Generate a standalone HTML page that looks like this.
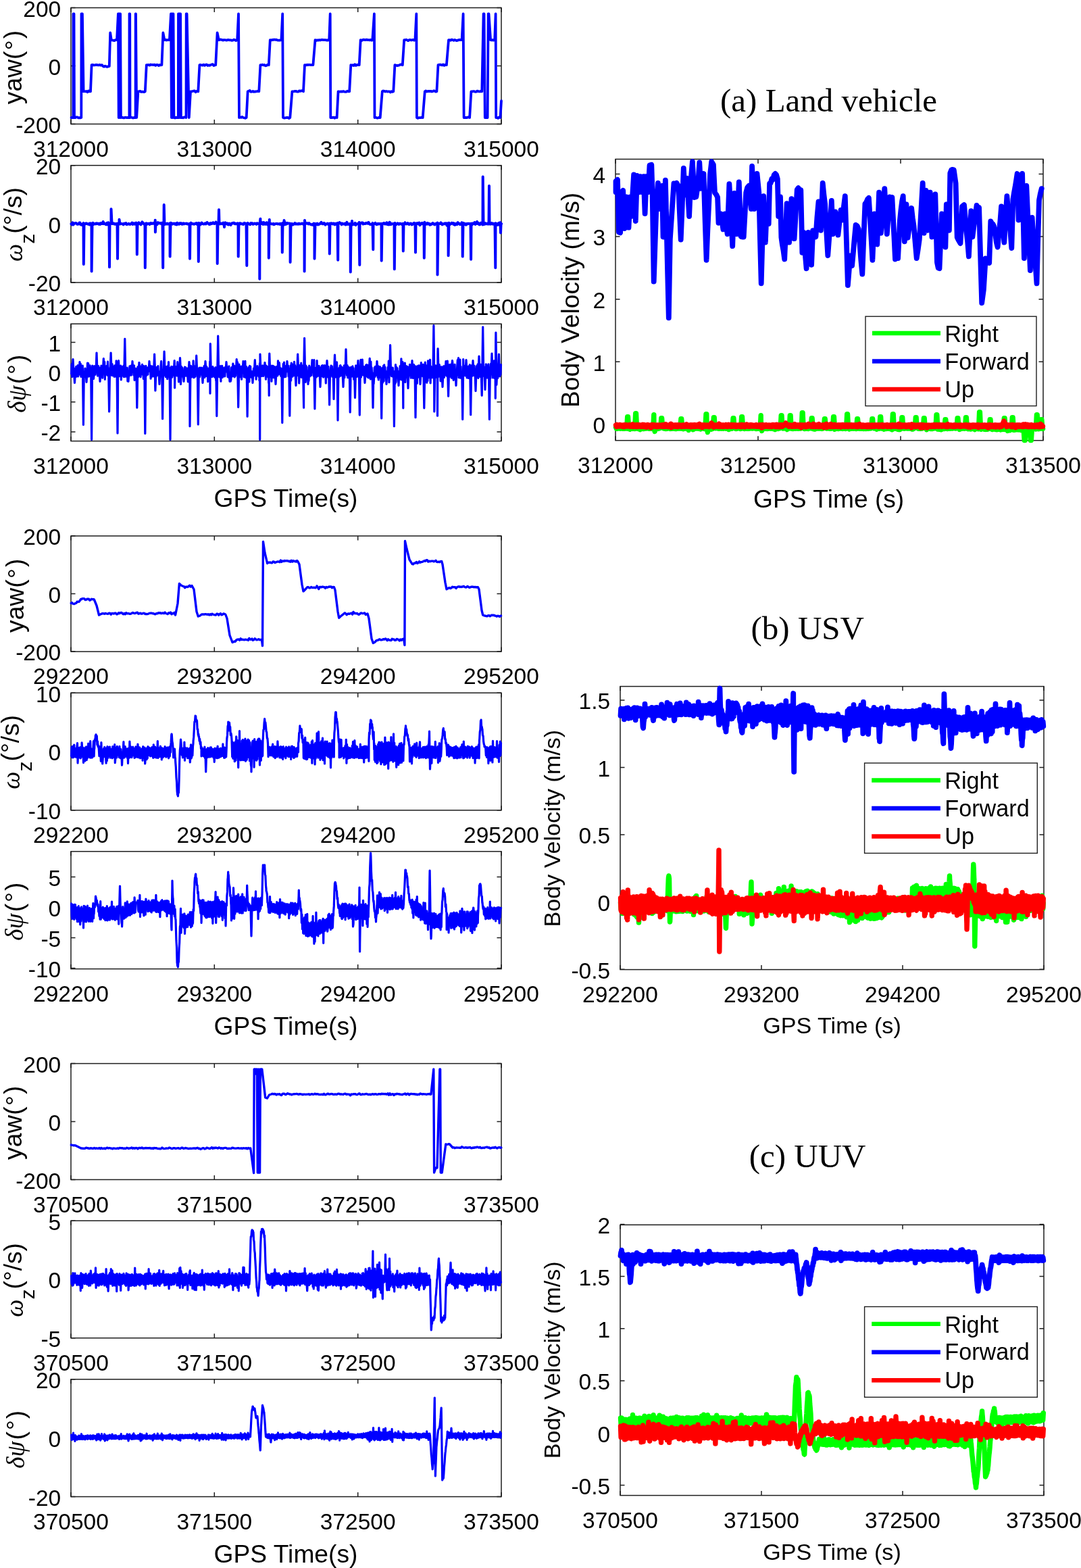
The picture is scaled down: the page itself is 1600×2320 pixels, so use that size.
<!DOCTYPE html>
<html><head><meta charset="utf-8"><title>Figure</title><style>
html,body{margin:0;padding:0;background:#fff;}
body{width:1600px;height:2320px;overflow:hidden;}
svg{display:block;}
.t{font-family:'Liberation Sans', Arial, Helvetica, sans-serif;font-size:33.5px;fill:#000;}
.l{font-family:'Liberation Sans', Arial, Helvetica, sans-serif;font-size:37.2px;fill:#000;}
.l2{font-family:'Liberation Sans', Arial, Helvetica, sans-serif;font-size:34.1px;fill:#000;}
.lg{font-family:'Liberation Sans', Arial, Helvetica, sans-serif;font-size:34.2px;fill:#000;}
.ti{font-family:'Liberation Serif', 'Times New Roman', Times, serif;font-size:49px;fill:#000;}
</style></head><body>
<svg width="1600" height="2320" viewBox="0 0 1600 2320">
<rect width="1600" height="2320" fill="#fff"/>
<rect x="105" y="11.5" width="637" height="172" fill="none" stroke="#1e1e1e" stroke-width="1.5"/>
<path d="M105 183.5v-6.5M105 11.5v6.5M317.3 183.5v-6.5M317.3 11.5v6.5M529.7 183.5v-6.5M529.7 11.5v6.5M742 183.5v-6.5M742 11.5v6.5M105 11.5h6.5M742 11.5h-6.5M105 97.5h6.5M742 97.5h-6.5M105 183.5h6.5M742 183.5h-6.5" stroke="#1e1e1e" stroke-width="1.5" fill="none"/>
<text x="105" y="231.7" text-anchor="middle" class="t">312000</text>
<text x="317.3" y="231.7" text-anchor="middle" class="t">313000</text>
<text x="529.7" y="231.7" text-anchor="middle" class="t">314000</text>
<text x="742" y="231.7" text-anchor="middle" class="t">315000</text>
<text x="90.2" y="24.8" text-anchor="end" class="t">200</text>
<text x="90.2" y="110.8" text-anchor="end" class="t">0</text>
<text x="90.2" y="196.8" text-anchor="end" class="t">-200</text>
<polyline points="105.5,174 108.4,174 108.5,20.5 109,174 109.5,20.5 110,174 111.5,174 113,173.3 114.5,173.4 116,174.3 117.5,174.2 119,174.3 120.3,174 120.5,20.5 121.9,20.5 123.6,135.3 125.1,135 126.6,135.4 128.1,135 129.6,136.3 131.1,134.5 132.6,135.4 134,135.3 135.6,96.2 137.1,95.9 138.6,96.3 140.1,96.4 141.6,96 143.1,95.8 144.6,96.3 146.1,96.3 147.6,95.9 149.1,96.7 151,96.2 152.5,97.9 154,98.7 155.5,97.7 157,98.3 158.5,98.9 160,98.4 161.8,97.9 163.2,48.5 164.8,59.2 166.3,59.5 167.8,59.8 169.3,60 170.8,59.2 173,59.2 174.9,20.5 175.7,174 176.5,20.5 177.3,174 178.1,20.5 178.9,174 180.4,173.6 181.9,174.2 183.4,174.4 184.9,173.8 186.4,173.7 187.9,174.2 189.4,173.8 191.4,174 191.5,20.5 191.8,174 192.2,20.5 192.5,174 194,173.5 195.5,174.1 197,174.5 198.5,173.9 200.6,174 200.7,20.5 201,20.5 202.2,174 204.4,135.3 205.9,135.2 207.4,134.8 208.9,136 210.4,135.7 211.9,135.8 213.4,136.2 214.8,135.3 216.8,96.2 218.3,96.1 219.8,95.9 221.3,96.6 222.8,95.5 224.3,95.8 225.8,95.9 227.3,96 228.8,95.7 230.3,96.9 231.8,95.9 233.3,95.9 234.8,97.1 236.3,96 237.8,96.3 239.4,96.2 241.4,48.5 243.4,59.2 244.9,58.8 246.4,59.5 247.9,59.2 249.4,59.1 250.9,59.2 253,20.5 253.9,174 254.8,20.5 255.6,174 256.5,20.5 257.4,174 258.9,174.5 260.4,173.7 261.9,174.1 263.8,174 264,20.5 264.8,174 265.6,20.5 266.3,174 267.1,20.5 267.9,174 269.4,173.8 270.9,174.3 272.4,173.5 273.9,173.7 275.5,174 275.7,20.5 276.6,20.5 279.8,174 282,135.3 283.5,135.4 285,135 286.5,134.7 288,134.4 289.5,136.2 291,134.9 293.3,135.3 295.4,96.2 296.9,96 298.4,96.3 299.9,96.7 301.4,95.6 302.9,96.9 304.4,95.9 305.9,95.5 307.4,97 308.9,96.4 310.4,96.9 311.9,96.1 313.4,95.4 314.9,95.2 316.4,97.1 317.9,96.5 319.2,96.2 321.6,48.5 323.8,59.2 325.3,58.9 326.8,58.4 328.3,59 329.8,59.6 331.3,59.1 332.8,59.2 334.3,59.3 335.8,59.6 337.3,59 338.8,59.1 340.3,59.3 341.8,59.3 343.3,59.9 344.8,59.5 346.3,58.6 347.8,59.3 349.3,60 351.2,59.2 353,20.5 354,174 355.5,173.4 357,173.8 358.5,173 360,174 361.5,174.3 363,174.8 364.7,174 366.7,135.3 368.2,134.7 369.7,134 371.2,135.8 372.7,135.7 374.2,135 375.7,135.8 377.2,135.5 378.7,135.5 380.2,135.2 381.7,134.8 383.3,135.3 385.4,96.2 386.9,96.2 388.4,95.7 389.9,96.4 391.4,96 392.9,97.3 394.4,97 395.9,95.8 397.8,96.2 399.8,59.2 401.3,59.5 402.8,58.9 404.3,59 405.8,58.5 407.3,58.8 408.8,58.7 410.3,59.3 411.8,59.6 413.3,59.6 414.8,59.5 416.4,59.2 418.2,20.5 419,174 420.5,174.6 422,174.3 423.5,174.1 425,173.9 426.5,174.2 428,175 429.3,174 432.4,135.3 433.9,135.4 435.4,135.2 436.9,134.8 438.4,135 439.9,135.7 441.4,135.7 442.9,134.3 444.4,134.9 445.9,134.4 447.4,134.2 449,135.3 451,96.2 452.5,96.6 454,96 455.5,96 457,95.9 458.5,95.9 460,96.1 461.5,96.1 463.4,96.2 466.5,59.2 468,60 469.5,59.3 471,59.6 472.5,59.2 474,59.5 475.5,58.9 477,58.8 478.5,59.1 480,59.1 481.5,59.2 483,59.5 484.5,59.3 486,59.5 487.2,59.2 488.7,20.5 489.3,174 490.8,173.8 492.3,174 493.8,173.7 495.3,174.7 496.8,173.6 498.6,174 500.6,135.3 502.1,135.7 503.6,135.7 505.1,135.4 506.6,135.6 508.1,135.2 509.6,135.6 511.1,135.9 512.6,135.8 514.1,134.7 515.6,135.3 517.2,135.3 519.3,96.2 520.8,96.8 522.3,96.2 523.8,97 525.3,95.3 526.8,97 528.3,96 529.8,95.9 531.7,96.2 533.7,59.2 535.2,60 536.7,59.1 538.2,58.7 539.7,59 541.2,59.1 542.7,58.7 544.2,59.1 545.7,59.1 547.2,59.3 548.7,58.9 550.2,59.7 551.3,59.2 553.9,20.5 554.5,174 556,173.6 557.5,174.3 559,174.6 560.5,173.9 562.7,174 565.8,135.3 567.3,134.5 568.8,134.8 570.3,135.6 571.8,135 573.3,135.6 574.8,135.4 576.3,135.3 577.8,136.5 579.3,135.2 580.8,135.9 582.3,135.3 584.4,96.2 585.9,96.6 587.4,97 588.9,97 590.4,96.7 591.9,95.8 593.4,95.4 595.8,96.2 598.2,59.2 599.7,59.2 601.2,58.7 602.7,59.4 604.2,60.2 605.7,59.2 607.2,59 608.7,59.5 610.2,59.1 611.7,58.9 613.2,59.7 614.4,59.2 616.3,20.5 616.9,174 618.4,174.8 619.9,174.2 621.4,174.1 622.9,174.2 624.4,173.5 625.7,174 628.8,135.3 630.3,134.4 631.8,135.6 633.3,135 634.8,134.9 636.3,135 637.8,134.8 639.3,135.5 640.8,135 642.3,134.3 643.8,134.9 645.3,135.7 646.4,135.3 648.5,96.2 650,95.9 651.5,95.6 653,96 654.5,96.5 656,95.4 657.5,96.9 659,96 660.9,96.2 664,59.2 665.5,59.2 667,59.8 668.5,58.6 670,59.1 671.5,59.8 673,58.9 674.5,59.5 676,60.2 677.5,59.6 679,59.1 680.5,58.9 682,59.1 683.6,59.2 685.6,20.5 686.6,174 688.1,174 689.6,173.8 691.1,174.1 692.6,173.4 695.1,174 697.4,135.3 698.9,135.3 700.4,135.2 701.9,135.1 703.4,135.9 704.9,135.7 706.4,134.6 707.9,135.2 709.4,135.5 710.9,135.2 713.3,135.3 715.6,20.5 716.5,20.5 717.8,174 721.6,174 722.7,20.5 723.5,20.5 726.1,59.2 727.6,59.5 729.1,59.1 730.6,59.6 732.2,59.2 733.6,20.5 734.2,174 735.7,173.9 737.2,174.9 738.7,173.4 740.5,174 742,149.1" fill="none" stroke="#0000ff" stroke-width="3.8" stroke-linejoin="round" stroke-linecap="round"/>
<rect x="105" y="244.7" width="637" height="173.3" fill="none" stroke="#1e1e1e" stroke-width="1.5"/>
<path d="M105 418v-6.5M105 244.7v6.5M317.3 418v-6.5M317.3 244.7v6.5M529.7 418v-6.5M529.7 244.7v6.5M742 418v-6.5M742 244.7v6.5M105 244.7h6.5M742 244.7h-6.5M105 331.4h6.5M742 331.4h-6.5M105 418h6.5M742 418h-6.5" stroke="#1e1e1e" stroke-width="1.5" fill="none"/>
<text x="105" y="466.2" text-anchor="middle" class="t">312000</text>
<text x="317.3" y="466.2" text-anchor="middle" class="t">313000</text>
<text x="529.7" y="466.2" text-anchor="middle" class="t">314000</text>
<text x="742" y="466.2" text-anchor="middle" class="t">315000</text>
<text x="90.2" y="258" text-anchor="end" class="t">20</text>
<text x="90.2" y="344.7" text-anchor="end" class="t">0</text>
<text x="90.2" y="431.3" text-anchor="end" class="t">-20</text>
<polyline points="105.5,331.3 106.5,332.4 107.5,329.4 108.5,332.5 109.5,331 110.5,330.3 111.5,330.3 112.5,330 113.5,330.8 114.5,331.8 115.5,331.5 116.5,331.6 117.5,329.5 118.5,329.6 119.5,332.4 120.5,331.9 121.5,333 122.5,332.1 122.7,331 123.5,330.1 123.8,391 124.5,332.2 124.9,331 125.5,331.6 126.5,331.2 127.5,330.3 128.5,331 129.5,330.9 130.5,331.8 131.5,331.1 132.5,332.4 133.5,330.3 134.5,331.4 134.5,331 135.5,331.4 135.6,401.4 136.5,330.2 136.7,331 137.5,329.9 138.5,331.9 139.5,331.5 140.5,330.9 141.5,331.4 142.5,330.4 143.5,331.2 144.5,330.5 145.5,331.2 146.5,331.9 147.5,330.7 148.5,331.8 149.5,330.1 150.5,330.7 151.5,329.8 151.6,331 152.5,330.9 152.7,328 153.5,331.1 153.8,331 154.5,330.8 155.5,330.8 156.5,332.2 157.5,332.3 158.5,329.9 159.5,332.1 160.5,329.4 160.9,331 161.5,330.3 162,395.2 162.5,330.8 163.1,331 163.4,331 163.5,331.1 164.5,330.1 164.5,309.2 165.5,330.3 165.6,331 166.5,331.1 167.5,330.4 168.5,330.4 169.5,331.6 170.5,331.8 171.5,330.9 172.5,331 172.9,331 173.5,331 174,382.8 174.5,330.6 175.1,331 175.4,331 175.5,330.5 176.5,330.1 176.5,324.7 177.5,331.6 177.6,331 178.5,330.9 179.5,330.9 180.5,331.2 181.5,331.5 182.5,332.3 183.5,330.8 184.5,330.6 185.5,331.2 186.5,330.2 187.5,332.1 188.5,331.8 189.5,331.6 190.5,330.9 191.5,331.7 192.5,331.9 193.5,331.4 194.5,330.7 195.5,329.5 196.5,331.9 197.5,330.7 198.5,330.2 199.5,331.8 200.5,331.3 201.5,329.7 201.7,331 202.5,330.9 202.8,376.5 203.5,330.8 203.9,331 204.5,331.9 205.5,329.3 206.5,330.7 207.5,330.9 208.5,332.3 209.5,330 210.5,328.4 211.5,329.8 212.5,331.2 213.5,331.7 213.7,331 214.5,332.6 214.8,396.2 215.5,331.4 215.9,331 216.5,330.3 217.5,331.8 218.5,331 219.5,330.8 220.5,331 221.5,332.1 222.5,330.2 223.5,330.1 224.5,330.9 225.5,330.9 226.5,330.3 227.5,330.2 228.5,331.3 228.6,331 228.8,331 229.5,332.2 229.7,325.7 229.9,343.5 230.5,331.6 230.8,331 231,331 231.5,331.6 232.5,332.1 233.5,329.2 234.5,329.6 235.5,330.4 236.5,329.9 237.5,330.1 238.5,331.1 239.5,329.8 240.1,331 240.5,330.6 241.2,396.2 241.5,329.2 241.6,331 242.3,331 242.5,330.1 242.7,303 243.5,332.2 243.8,331 244.5,330.5 245.5,331.3 246.5,331.6 247.5,330.6 248.5,331.5 249.5,331.2 250.5,331.6 250.5,331 251.5,330.4 251.6,379.6 252.5,329.7 252.7,331 253.5,330.1 254.5,330.5 255.5,331.5 256.5,330.8 257.5,330.6 258.5,330.8 259.5,332 260.5,330.5 261.5,332.4 262.5,329.9 263.5,330.5 264.5,331.8 265.5,331.5 266.5,330.2 267.5,330.9 268.5,330.4 269.5,331.8 270.5,331.5 271.5,330.4 272.5,331.4 273.5,330.7 274.5,330.9 275.5,331.1 276.5,330.5 277.5,331.4 278.5,331.4 279.5,331.4 279.9,331 280.5,332 281,382.8 281.5,330.8 282.1,331 282.5,329.7 283.5,330.6 284.5,331.2 285.5,331 286.5,331.5 287.5,331.7 288.5,330.9 289.5,330.9 290.5,330.1 291.5,331.9 292.5,330.8 292.7,331 293.5,330 293.8,387 294.5,330 294.9,331 295.5,330.6 296.5,332.4 297.5,331.7 298.5,329.5 299.5,330.9 300.5,331.2 301.5,331.6 302.5,331.3 303.5,330.4 304.5,331.4 305.5,330.5 306.5,329 307.5,330.4 308.5,330.4 309.5,331.9 310.5,332 311.5,330.1 312.5,331.2 313.5,331.1 314.5,329.7 315.5,329.2 316.5,330.9 317.5,331.1 318.5,330.5 319.5,328.6 320.5,331 320.6,331 321.5,330.5 321.7,390 322.5,330.2 322.8,331 322.9,331 323.5,330.7 324,310.2 324.5,330 325.1,331 325.5,331.5 326.5,331 327.5,330.5 328.5,331.3 329.5,331 330.5,329.6 330.9,331 331.5,330.9 332,336 332.5,330.6 333.1,331 333.5,329.4 334.5,330.4 335.5,331.4 336.5,330.4 337.5,332.3 338.5,332.5 339.5,330.7 340.5,331.5 341.5,332.8 342.5,330.7 343.5,330.2 344.5,330.6 345.5,329.8 346.5,329.8 347.5,331.2 348.5,330.6 349.5,331.2 350.5,331.4 351.5,330.3 351.6,331 352.5,330.8 352.7,379.6 353.5,330.8 353.8,331 354.5,330.4 355.5,330.2 356.5,331.3 357.5,330.9 358.5,331.3 359.5,331.9 360.5,331.9 361.5,330 362.5,330.2 363.5,330.8 364.2,331 364.5,331.1 365.3,393 365.5,331.8 366.4,331 366.5,330.1 367.5,330.6 368.5,331.2 369.5,332.1 370.5,332.2 371.5,330.1 372.5,330.8 373.5,330.3 374.5,331.8 375.5,331.4 376.5,330.7 377.5,330.4 378.5,331.3 379.5,331.9 380.5,330.3 381.5,330.7 382.5,331.1 383.2,331 383.5,331 384.3,331 384.3,412.7 384.5,331.3 385.4,323.7 385.4,331 385.5,330.1 386.5,330.5 386.5,331 387.5,329.1 388.5,331.1 389.5,332 390.5,329.1 391.5,330.4 392.5,331.8 393.5,330.9 394.5,329.3 395.5,332.1 396.5,329.7 396.7,331 397.5,332.2 397.7,331 397.8,381.7 398.5,330.5 398.8,325 398.9,331 399.5,330.4 399.9,331 400.5,331 401.5,331 402.5,331.5 403.5,331.5 404.5,330.9 405.5,332.2 406.5,331.6 407.5,331.2 408.5,331.1 409.5,330.9 410.5,330.9 411.5,331.6 412.5,331.4 413.5,331 414.5,331.9 415.5,330.8 416.5,331.4 416.7,331 417.5,331.8 417.8,373.4 418.5,330 418.9,331 419.4,331 419.5,330.8 420.5,332.5 420.5,326 421.5,330.1 421.6,331 422.5,332 423.5,330 424.5,331.4 425.5,330 426.5,330.4 427.5,330.7 428.5,330.5 428.5,331 429.5,331.9 429.6,388 430.5,331.8 430.7,331 431.5,331.8 432.5,331.2 433.5,332.5 434.5,331.9 435.5,331.3 436.5,330.1 437.5,331.6 438.5,331.6 439.5,331.1 440.5,331.6 441.5,331.7 442.5,330.7 443.5,331.5 444.5,331.3 445.5,331.3 446.5,330.7 447.5,330.6 448.5,331.1 449.5,332.3 449.5,331 449.9,331 450.5,333.1 450.6,401.4 451,326 451.5,330.7 451.7,331 452.1,331 452.5,330.1 453.5,330.7 454.5,330.2 455.5,330.6 456.5,331.4 457.5,330.2 458.5,331.5 459.5,331.7 460.5,332.4 461.5,332.6 462.5,331.9 463.5,333 464.4,331 464.5,330.6 465.5,331.2 465.5,382.7 466.5,331.2 466.6,331 467.5,331.4 468.5,331.9 469.5,330.7 470.5,332.5 471.5,332.1 472.5,331.3 473.5,331.4 474.5,330.1 475.5,328.8 476.5,330.9 477.5,331.3 478.5,331.2 479.5,330 480.5,330.6 481.5,332.6 482.5,331.7 483.5,331.6 484.5,330.7 485.5,331.7 486.5,332.2 486.7,331 487.5,331.7 487.8,375.5 488.5,330.6 488.9,331 489.5,331.3 490.5,330.2 491.5,330.7 492.5,331.5 493.5,330.5 494.5,330.8 495.5,332.3 496.5,330.9 497.5,331.7 498.5,330.7 499.1,331 499.5,330 500.2,384.8 500.5,331 501.3,331 501.5,330.7 502.5,329.2 503.5,329.9 504.5,330.6 505.5,332.3 506.5,330.5 507.5,331 508.5,331.6 509.5,331.3 510.5,330.7 511.5,332.5 512.5,332.2 513.5,328.8 514.5,331.9 515.5,331.5 516.5,331.9 517.5,331.1 517.7,331 518.5,331.8 518.8,402.4 519.5,332.7 519.9,331 519.9,331 520.5,332.5 521,327 521.5,332.6 522.1,331 522.5,332 523.5,331.8 524.5,331.9 525.5,330 526.5,333 527.5,331.2 528.5,331.3 529.5,331.1 530.5,331.4 531.2,331 531.5,329.1 532.3,392 532.5,331.2 533.4,331 533.5,329.9 534.5,330.1 535.5,329.4 536.5,329.5 537.5,331.5 538.5,330.6 539.5,330.9 540.5,330.9 541.5,330 542.5,330.4 543.5,329.9 544.5,330.7 545.5,329 546.5,330.7 547.5,331.8 548.5,332.1 549.5,332 550.5,331.4 551.2,331 551.5,330.1 552.3,369.3 552.5,331.8 553.4,331 553.5,331.5 554.5,331.2 555.5,329.9 556.5,331.4 557.5,332.3 558.5,331.7 559.5,330.8 560.5,331.5 561.5,331 562.5,331.2 563.5,331.8 563.6,331 564.5,331.3 564.7,385.8 565.5,331.1 565.8,331 566.5,331.3 567.5,330.3 568.5,330.1 569.5,331.4 570.5,330.5 571.5,331.5 572.5,329.4 573.5,332.1 574.5,330.9 575.5,332.5 576.5,328.8 577.5,329.5 578.5,332.3 579.5,331.1 580.5,331.3 581.5,331.1 582.5,331.1 582.7,331 583.5,331.5 583.8,398.3 584.5,330.1 584.9,331 585.5,330.9 586.5,332.2 587.5,331.2 588.5,330.4 589.5,331.1 590.5,331.9 591.5,330.8 592.5,330.8 593.5,331.4 594.5,331.8 595.5,332.3 595.7,331 596.5,330.9 596.8,371.4 597.5,331.3 597.9,331 598.5,331.9 599.5,329.3 600.5,331.1 601.5,331.4 602.5,330.9 603.5,330.2 604.5,331.5 605.5,332.1 606.5,330.9 607.5,330.6 608.5,330.8 609.5,332.4 610.5,332.1 611.5,331.1 612.5,330 613.5,329.9 613.9,331 614.5,330.7 615,373.4 615.5,330.7 616.1,331 616.5,331.3 617.5,330 618.5,330.9 619.5,331.5 620.5,329.5 621.5,333.1 622.5,331.5 623.5,331.5 624.5,329.9 625.5,330.1 626.5,331.9 626.7,331 627.5,331.8 627.8,381.7 628.5,328.8 628.9,331 629.5,332.1 630.5,331.7 631.5,331.6 632.5,330 633.5,331.3 634.5,330.5 635.5,331.5 636.5,332.7 637.5,331.6 638.5,331.9 639.5,330.8 640.5,330.1 641.5,331 642.5,332 643.5,332.4 644.5,331 645.5,331.3 646.4,331 646.5,330.7 647.5,329.5 647.5,406.5 648.5,331.1 648.6,331 649.5,331.4 650.5,330.7 651.5,330.9 652.5,329.4 653.5,331.1 654.5,332.3 655.5,331 656.5,331.6 657.5,331.4 658.5,330.4 659.5,331.2 660.5,330.3 661.5,333.7 662.5,331.2 662.5,331 663.5,330.1 663.6,378.2 664.5,329.7 664.7,331 665.5,332.4 666.5,331.6 667.5,331.4 668.5,329.8 669.5,330.5 670.5,330 671.5,332 672.5,330.6 673.5,332.8 674.5,331.5 675.5,330.8 676.5,332.2 677.5,329.2 678.5,330.3 679.5,330.7 680.5,332 681.5,332 682.5,331.4 683.5,329.4 683.6,331 684.5,330.6 684.7,379.6 685.5,330 685.8,331 686.5,332.2 687.5,330.6 688.5,331.6 689.5,332.7 690.5,331 691.5,331.7 692.5,330.7 693.5,331.1 694.5,331.1 695.5,331.1 696,331 696.5,331.1 697.1,383.8 697.5,330.7 698.2,331 698.5,332.7 699.5,330.5 700.5,331.3 701.5,330.8 702.5,329 703.5,331.9 704.5,331.2 704.9,331 705.5,329.8 706,328 706.5,330.4 707.1,331 707.5,329.6 708.5,331.3 709.5,332.4 710.5,332.1 711.5,329.9 712.5,329.5 713.5,331.5 713.6,331 714.5,332.5 714.7,261.6 715.5,331.1 715.8,331 716.5,332 717.5,329.8 718.5,330.9 719.5,331.4 720.5,330.7 721.5,330.8 722.5,331.6 722.9,331 723.5,330.5 724,275.1 724.5,330.1 725.1,331 725.5,331.7 726.5,331.2 727.5,330.1 728.5,331.4 729.5,330.5 730.5,331.6 731.5,331 732.2,331 732.5,330.8 733.3,396.2 733.5,330.3 734.4,331 734.5,331.2 735.5,331 736.5,332.7 737.5,331 738.5,329.8 739.5,332.9 739.9,331 740.5,329.2 741,344.5 741.5,332.5 742.1,331" fill="none" stroke="#0000ff" stroke-width="4.0" stroke-linejoin="round" stroke-linecap="round"/>
<rect x="105" y="479.2" width="637" height="173.4" fill="none" stroke="#1e1e1e" stroke-width="1.5"/>
<path d="M105 652.6v-6.5M105 479.2v6.5M317.3 652.6v-6.5M317.3 479.2v6.5M529.7 652.6v-6.5M529.7 479.2v6.5M742 652.6v-6.5M742 479.2v6.5M105 506.6h6.5M742 506.6h-6.5M105 550.7h6.5M742 550.7h-6.5M105 594.8h6.5M742 594.8h-6.5M105 638.9h6.5M742 638.9h-6.5" stroke="#1e1e1e" stroke-width="1.5" fill="none"/>
<text x="105" y="700.8" text-anchor="middle" class="t">312000</text>
<text x="317.3" y="700.8" text-anchor="middle" class="t">313000</text>
<text x="529.7" y="700.8" text-anchor="middle" class="t">314000</text>
<text x="742" y="700.8" text-anchor="middle" class="t">315000</text>
<text x="90.2" y="519.9" text-anchor="end" class="t">1</text>
<text x="90.2" y="564" text-anchor="end" class="t">0</text>
<text x="90.2" y="608.1" text-anchor="end" class="t">-1</text>
<text x="90.2" y="652.2" text-anchor="end" class="t">-2</text>
<polyline points="105.5,553.1 106.1,538.9 106.7,557.4 107.1,548 107.3,544.3 107.9,533.3 108,531.5 108.5,540.7 108.9,548 109.1,556.8 109.6,552 109.7,553.6 110.3,563.3 110.5,566.5 110.9,560.1 111.4,552 111.5,545.1 112.1,555 112.7,542.3 113.3,557.1 113.9,543.3 114.5,554.4 115.1,540.6 115.7,556.9 116.3,544.2 116.9,554.4 117.1,548 117.5,542.4 118,535.5 118.1,536.9 118.7,545.2 118.9,548 119.3,538.4 119.9,557.3 120.5,544.8 121.1,553.7 121.7,545.1 122.3,541.2 122.5,552 122.9,586 123.4,628.5 123.5,620 124.1,569 124.3,552 124.7,553.1 125.3,555.5 125.9,545.2 126.5,557.5 127.1,549.1 127.1,552 127.7,561 128,565.5 128.3,561 128.9,552 128.9,552 129.5,537 130.1,555.2 130.7,537.7 131.3,557.2 131.9,544.4 132.5,556.4 133.1,540.8 133.7,545.1 134.3,554.3 134.7,552 134.9,573.9 135.5,639.6 135.6,650.5 136.1,595.8 136.5,552 136.7,541 137.3,556.4 137.9,543.6 138.5,560.5 139.1,555.4 139.7,541.7 140.3,542.2 140.9,554.3 141.5,541.8 142.1,549.2 142.1,548 142.7,530.7 143,522 143.3,530.7 143.9,548 143.9,548 144.5,556.2 145.1,555.2 145.7,541.6 146.3,553.3 146.9,544.1 147.1,552 147.5,557.6 148,564.5 148.1,563.1 148.7,554.8 148.9,552 149.3,553.2 149.9,541.2 150.5,553.2 151.1,542.7 151.7,559.1 152.3,544.4 152.4,548 152.9,538.3 153.3,530.5 153.5,534.4 154.1,546.1 154.2,548 154.7,535.3 155.3,561.3 155.9,544.6 156.5,544 157.1,553.6 157.7,541.7 158.3,541.3 158.9,555.1 159.5,535.1 160.1,555.6 160.7,549.3 160.7,552 161.3,590 161.6,609 161.9,590 162.5,552 162.5,552 163.1,543.5 163.2,548 163.7,533.6 164.1,522 164.3,527.8 164.9,545.1 165,548 165.5,555.4 166.1,538.7 166.7,555.6 167.3,545.3 167.9,542.6 168.5,553.5 169.1,557.3 169.7,540.8 170.3,556 170.9,543.3 171.5,557.2 172.1,533.9 172.7,553.7 173.1,552 173.3,571.8 173.9,631.1 174,641 174.5,591.6 174.6,548 174.9,543.2 175.1,539.9 175.5,533.5 175.7,536.7 176.3,546.4 176.4,548 176.9,556.7 177.5,545 178.1,556.3 178.7,541 179.3,561.9 179.9,553.6 180.5,543.1 181.1,543.8 181.7,542.6 182.3,556 182.9,541.2 183.5,557.6 183.9,548 184.1,537.6 184.7,506.5 184.8,501.3 185.3,527.2 185.7,548 185.9,557.1 186.5,556.8 187.1,545.4 187.7,556.4 188.3,544.2 188.9,563.9 189.1,552 189.5,557.6 190,564.5 190.1,563.1 190.7,554.8 190.9,552 191.3,556.3 191.9,541.8 192.5,554.7 193.1,542 193.7,541.3 194.3,555.1 194.9,545 195.1,548 195.5,542 196,534.5 196.1,536 196.7,545 196.9,548 197.3,542.7 197.9,554.8 198.5,540.8 199.1,562.5 199.7,545.2 200.3,555.6 200.9,545.3 201.5,557.6 201.9,552 202.1,563.4 202.7,597.5 202.8,603.2 203.3,574.8 203.7,552 203.9,542.8 204.5,557.8 205.1,549.5 205.1,548 205.7,540.3 206,536.5 206.3,540.3 206.9,548 206.9,548 207.5,556.6 208.1,557.7 208.7,542.1 209.3,544.9 209.9,553.5 210.5,539.4 211.1,554.2 211.7,543.9 212.3,560.5 212.9,541.7 213.5,545 213.9,552 214.1,571.9 214.7,631.6 214.8,641.5 215.3,591.8 215.7,552 215.9,541.4 216.5,555.8 217.1,544.5 217.7,554.4 218.3,544.1 218.9,554.2 219.5,543.6 220.1,549.6 220.1,548 220.7,539 221,534.5 221.3,539 221.9,548 221.9,548 222.5,541 223.1,560.2 223.7,544.7 224.3,557.8 224.9,541.9 225.5,555.9 226.1,553.9 226.7,545.4 227.3,556.8 227.7,548 227.9,542.7 228.5,526.8 228.6,524.1 229,534.7 229.1,537.4 229.5,548 229.7,572.2 229.9,578 230.3,566.4 230.8,552 230.9,557.8 231.5,543.7 232.1,556 232.7,544 233.3,553.8 233.9,541.5 234.5,554.6 235.1,549.7 235.1,552 235.7,563 236,568.5 236.3,563 236.9,552 236.9,552 237.5,555.8 238.1,541 238.7,534.6 239.3,556.2 239.7,552 239.9,567 240.5,612.2 240.6,619.7 241.1,582.1 241.5,552 241.7,557 242.2,548 242.3,544.9 242.9,526.2 243.1,520 243.5,532.4 244,548 244.1,554.9 244.7,542.6 245.3,557.7 245.9,542.7 246.5,555.8 247.1,542.3 247.7,560.7 248.3,541.5 248.9,557.5 249.5,535.6 250.1,554.3 250.7,544 251.1,552 251.3,573.9 251.9,639.6 252,650.5 252.5,595.8 252.9,552 253.1,555.2 253.7,542.3 254.3,558.3 254.9,557.9 255.5,542.8 256.1,555.3 256.7,554.2 257.3,549.8 257.3,548 257.7,541.6 257.9,538.3 258.2,533.5 258.5,538.3 258.6,573.8 259.1,548 259.1,548 259.5,552 259.7,545.3 260.3,542.6 260.9,555.4 261.5,543.4 262.1,556 262.7,535.6 263.3,554.5 263.9,542 264.5,565 265.1,541.8 265.6,548 265.7,545.9 266.3,533.6 266.5,529.5 266.6,531.6 266.9,537.7 267.4,548 267.5,568.5 267.5,568.5 268.1,557.5 268.4,552 268.7,542.5 269.3,555.1 269.9,544.4 270.5,556.9 271.1,549.9 271.1,552 271.7,560.3 272,564.5 272.3,560.3 272.9,552 272.9,552 273.5,543.1 274.1,555.4 274.7,543.7 275.3,556.1 275.9,545.7 276.5,555 277.1,545.1 277.7,556.1 278.3,565 278.9,545.3 279.1,548 279.5,542.4 280,535.5 280.1,536.9 280.1,536.9 280.7,545.2 280.9,548 281,630.7 281.3,604.5 281.9,552 281.9,552 282.5,541.3 283.1,558.2 283.7,542.9 284.3,554.9 284.9,542.5 285.5,557.1 286.1,533.8 286.7,558.6 287.3,543.9 287.9,558.2 288.5,541.8 289.1,557.2 289.7,544.6 289.8,548 290.3,535.9 290.7,526.2 290.9,531 291.5,545.6 291.6,548 292.1,544.9 292.4,552 292.7,577.3 293.3,628 293.3,628 293.9,577.3 294.2,552 294.5,558.5 295.1,544.1 295.7,557.7 296.3,544.3 296.9,554 297.5,544 298.1,554.1 298.7,544.4 299.1,552 299.3,555.2 299.9,564.9 300,566.5 300.5,558.4 300.9,552 301.1,554.8 301.7,543.5 302.3,541.3 302.9,558.5 303.1,548 303.5,542 304,534.5 304.1,536 304.7,545 304.9,548 305.3,556.5 305.9,542.6 306.5,554.4 307.1,545 307.7,564.6 308.3,557.2 308.9,545.2 309.5,554.6 310.1,550 310.1,552 310.4,548 310.7,534.9 311,582.1 311.3,508.6 311.3,508.6 311.9,534.9 311.9,534.9 312.2,548 312.5,542.5 313.1,557.7 313.7,544.2 314.3,557.5 314.9,542.6 315.5,556.1 316.1,544.9 316.7,556.1 317.3,545.4 317.9,558.1 318.5,557 319.1,543.5 319.7,563 319.9,552 320.3,580.3 320.8,615.6 320.9,608.5 321.5,566.1 321.7,552 321.8,548 322.1,531.1 322.7,497.2 322.7,497.2 323.3,531.1 323.6,548 323.9,544.2 324.5,557.4 325.1,542.2 325.7,558.3 326.3,541.5 326.9,564.2 327.5,542.7 328.1,556.4 328.7,541.3 329.3,558.4 329.9,543.9 330.5,557.2 331.1,544.5 331.7,554.6 332.3,545.2 332.9,556.8 333.5,543 334.1,549.9 334.1,548 334.7,539.7 335,535.5 335.3,539.7 335.9,548 335.9,548 336.5,544 337.1,557.6 337.7,543.8 338.3,558.1 338.9,541.9 339.1,552 339.5,557.6 340,564.5 340.1,563.1 340.7,554.8 340.9,552 341.3,564.1 341.9,561.7 342.5,544.4 343.1,543.4 343.7,556.8 344.3,544.7 344.9,538 345.5,556.6 346.1,541.8 346.7,541.5 347.3,558 347.9,544 348.5,556.3 349.1,542.5 349.3,548 349.7,540.7 350.2,531.5 350.3,533.3 350.9,544.3 351.1,548 351.5,535.8 351.8,552 352.1,568.8 352.7,602.4 352.7,602.4 353.3,568.8 353.6,552 353.9,539 354.5,556.5 355.1,541.8 355.7,555.2 356.3,557.8 356.9,543.9 357.5,561.2 358.1,542.1 358.7,541.9 359.1,548 359.3,545 359.9,536 360,534.5 360.5,542 360.9,548 361.1,557.7 361.7,544.4 362.3,557.1 362.9,534.4 363.5,558.4 364.1,558.2 364.7,542.5 365.2,552 365.3,559.1 365.9,601.9 366.1,616.2 366.5,587.7 367,552 367.1,545.4 367.7,558.2 368.3,543.4 368.9,564.8 369.5,541.4 370.1,556.7 370.7,542.2 371.3,555.8 371.9,558.2 372.5,556.2 373.1,549.8 373.1,552 373.7,561.7 374,566.5 374.3,561.7 374.9,552 374.9,552 375.5,545 376.1,555.8 376.4,548 376.7,542.8 377.3,532.5 377.3,532.5 377.9,542.8 378.2,548 378.5,542.5 379.1,561.1 379.7,545.5 380.3,556.3 380.9,541.5 381.5,554.5 382.1,544.7 382.7,544.8 383.3,557.6 383.8,552 383.9,562.9 384.1,548 384.5,537.4 384.7,650.5 385,524.1 385.1,526.8 385.6,540 385.7,542.7 385.9,548 386.3,555.1 386.9,542.8 387.5,556.5 388.1,555 388.7,540.9 389.3,545.6 389.9,556.5 390.5,544.8 391.1,549.8 391.1,548 391.7,540.3 392,536.5 392.3,540.3 392.9,548 392.9,548 393.5,561.2 394.1,541 394.7,557.7 395.3,544.3 395.9,542.7 396.5,553.8 397.1,545 397.3,552 397.7,566.8 397.9,548 398.2,585.2 398.3,536.9 398.8,523.1 398.9,525.9 399.1,531.4 399.5,542.5 399.7,548 400.1,542.6 400.7,557.7 401.3,544.2 401.9,564.2 402.5,541.1 403.1,555.4 403.7,558.5 404.3,541.4 404.9,558.6 405.5,555.7 406.1,542.6 406.7,555.9 407.1,552 407.3,555.7 407.9,566.7 408,568.5 408.5,559.3 408.9,552 409.1,542.6 409.7,556.4 410.3,545.4 410.9,556 411.5,533.9 412.1,553.8 412.4,548 412.7,544.2 413.3,536.5 413.3,536.5 413.9,544.2 414.2,548 414.5,544.2 415.1,554.2 415.7,556.4 416.3,545.4 416.9,549.7 416.9,552 417.5,601 417.8,625.5 418.1,601 418.7,552 418.7,552 419.3,538.3 419.9,554.9 420.5,536.1 421.1,557.8 421.7,544.5 422.3,544.5 422.9,557.4 423.5,541.3 424.1,549.7 424.1,548 424.7,539 425,534.5 425.3,539 425.9,548 425.9,548 426.5,541.2 427.1,557 427.7,545.6 427.9,552 428.3,580.1 428.8,615.2 428.9,608.2 429.5,566 429.7,552 430.1,540.8 430.7,562.9 431.3,537 431.9,557.2 432.5,538.9 433.1,557.2 433.7,544.4 434.3,554.4 434.9,554.6 435.5,535.3 436.1,555.7 436.7,540.7 437.1,552 437.3,556.1 437.9,568.4 438,570.5 438.5,560.2 438.9,552 439.1,543.2 439.7,555.6 439.8,548 440.3,534.7 440.7,524.1 440.9,529.4 441.5,545.3 441.6,548 442.1,540.6 442.7,566.9 443.3,540.7 443.9,557.6 444.5,542.4 445.1,554.9 445.7,537.2 446.3,558.3 446.9,540.6 447.5,555.2 448.1,543.2 448.7,549.7 448.7,552 449.3,586.1 449.6,603.2 449.7,548 449.9,537.4 450.5,505.6 450.5,505.6 450.6,500.3 451.1,526.8 451.5,548 451.7,541 452.3,565.3 452.9,541.1 453.5,557.4 454.1,543 454.7,561.4 455.1,552 455.3,555.7 455.9,566.7 456,568.5 456.5,559.3 456.9,552 457.1,563.4 457.7,541.1 458.3,557.2 458.9,544.7 459.5,556.1 460.1,543.7 460.7,555.3 461.1,548 461.3,544.6 461.9,534.2 462,532.5 462.5,541.1 462.9,548 463.1,543.2 463.7,540.5 464.3,556.5 464.9,532.5 465,552 465.5,581.3 465.9,604.8 466.1,593.1 466.7,557.9 466.8,552 467.3,544.3 467.9,556.6 468.5,557.8 469.1,533.6 469.7,555.5 470.3,545.4 470.9,556.2 471.5,555.6 472.1,541.4 472.7,554.5 473.1,552 473.3,556.6 473.9,570.2 474,572.5 474.5,561.1 474.9,552 475.1,543.7 475.7,554.9 476.3,541.1 476.9,556.4 477.5,540.6 478.1,557.1 478.7,558 479.3,541.1 479.9,554.2 480.5,540.6 481.1,556.7 481.7,544.9 482.3,567 482.9,541.8 483.1,548 483.5,541.6 484,533.5 484.1,535.1 484.7,544.8 484.9,548 485.3,557.9 485.9,542.3 486.5,556 486.7,552 487.1,572.9 487.6,599 487.7,593.8 488.3,562.4 488.5,552 488.9,557.8 489.5,545.1 490.1,541.1 490.7,555.5 491.3,541.9 491.9,555.4 492.5,557.6 493.1,549.6 493.1,552 493.7,577.7 494,590.5 494.3,577.7 494.6,548 494.9,540.4 494.9,540.4 495.5,525.1 495.5,525.1 496.1,540.4 496.4,548 496.7,557.9 497.3,556.3 497.9,557.4 498.5,535.9 499.1,549.5 499.1,552 499.7,598.5 500,621.8 500.3,598.5 500.9,552 500.9,552 501.5,558.1 502.1,544.4 502.7,556.6 503.3,541.1 503.9,540.7 504.5,556 505.1,542.7 505.7,543.5 506.3,543.7 506.9,554.1 507.1,552 507.5,561.1 508,572.5 508.1,570.2 508.7,556.6 508.9,552 509.3,540.9 509.9,558.7 510.5,541.1 511.1,549.5 511.1,548 511.7,527.3 512,516.9 512.3,527.3 512.9,548 512.9,548 513.5,555.4 514.1,540.7 514.7,558.7 515.3,542.9 515.9,554.5 516.5,543.7 517.1,555.4 517.3,552 517.7,577.8 518.2,610 518.3,603.6 518.9,564.9 519.1,552 519.5,543.4 520.1,557.3 520.7,557.1 521.3,554.6 521.9,541.9 522.5,556.8 523.1,544.5 523.7,561.2 524.3,559 524.6,552 524.9,564.2 525.5,588.5 525.5,588.5 526.1,564.2 526.4,552 526.7,540.8 527.3,555.8 527.9,541.5 528.5,557.5 529.1,549.5 529.1,548 529.7,538.3 530,533.5 530.3,538.3 530.9,548 530.9,548 531.4,552 531.5,558.9 532.1,600.3 532.3,614.1 532.7,586.5 533.2,552 533.3,557.5 533.9,532.4 534.5,558 535.1,542.1 535.7,554.1 536.3,532 536.9,545 537.5,555 538.1,554.3 538.7,542.6 539.1,552 539.3,555.2 539.9,564.9 540,566.5 540.5,558.4 540.9,552 541.1,557 541.7,540 542.3,554.6 542.9,539.7 543.5,544.4 544.1,558 544.7,540.7 545.3,558.9 545.9,544.6 546.3,548 546.5,544.1 547.1,532.3 547.2,530.3 547.7,540.1 548.1,548 548.3,560.9 548.9,535.1 549.5,558.3 550.1,543.9 550.7,556.2 551.1,552 551.3,563.4 551.9,597.5 552,603.2 552.5,574.8 552.9,552 553.1,567.8 553.7,557.9 554.3,543.9 554.9,557.6 555.5,542.3 556.1,555.7 556.7,543.6 557.1,548 557.3,545 557.9,536 558,534.5 558.5,542 558.9,548 559.1,558.4 559.7,541.5 560.3,561.9 560.9,542.4 561.5,558.4 562.1,555.5 562.7,542.8 563.3,558.2 563.8,552 563.9,559.4 564.5,604 564.7,618.9 565.1,589.2 565.6,552 565.7,544.7 566.3,566.5 566.9,554.5 567.5,541.4 568.1,564 568.7,539.9 569.3,558.3 569.9,543.1 570.5,554.6 571.1,549.4 571.1,552 571.7,563 572,568.5 572.3,563 572.9,552 572.9,552 573.5,558 574.1,543.4 574.7,555.4 575.3,534 575.9,565.7 576.5,543.9 576.7,548 577.1,531.4 577.6,510.7 577.7,514.8 578.3,539.7 578.5,548 578.9,544.4 579.5,556.3 580.1,544 580.7,556.9 581.3,544.1 581.9,556.9 582.5,549.4 582.5,552 583.1,604.5 583.4,630.7 583.7,604.5 584.3,552 584.3,552 584.9,567.6 585.5,539.7 586.1,565.4 586.7,543.1 587.3,554 587.9,544.5 588.5,555 589.1,549.3 589.1,552 589.7,564.3 590,570.5 590.3,564.3 590.9,552 590.9,552 591.5,558 592.1,541.5 592.7,555.9 593.3,561.5 593.9,530.8 594.5,561.9 595.1,549.3 595.1,548 595.7,539.7 595.9,536.9 596,535.5 596.3,539.7 596.8,603.8 596.9,548 596.9,548 597.5,563.5 597.7,552 598.1,559.3 598.7,554 599.3,537 599.9,565.5 600.5,541.3 601.1,558.8 601.7,541.9 602.3,554.8 602.9,542.3 603.1,552 603.5,562 604,574.5 604.1,572 604.7,557 604.9,552 605.3,543.3 605.9,555.9 606.5,539.4 607.1,554.2 607.7,542.7 608.3,559.1 608.9,541 609.1,548 609.5,541.6 610,533.5 610.1,535.1 610.7,544.8 610.9,548 611.3,559.4 611.9,544.5 612.5,539.7 613.1,558.4 613.7,541.1 614.1,552 614.3,566.6 614.9,610.4 615,617.7 615.5,581.2 615.9,552 616.1,558.7 616.7,542 617.3,567.1 617.9,542.8 618.5,541.8 619.1,541.2 619.7,540.9 620.3,558.2 620.9,541 621.1,552 621.5,559.3 622,568.5 622.1,566.7 622.7,555.7 622.9,552 623.3,536.6 623.9,541.9 624.5,554.8 625.1,542.4 625.7,556.6 626.3,539.3 626.9,549.3 626.9,552 627.5,586.5 627.8,603.8 628.1,586.5 628.7,552 628.7,552 629.3,536.2 629.9,562 630.5,543.6 631.1,544.5 631.7,566.1 632.3,540.5 632.9,563.5 633.5,533.8 634.1,559 634.7,539.1 635.3,557.3 635.9,540.3 636.5,532.3 637.1,566.8 637.7,542 638.3,555.9 638.9,543.9 639.5,558.6 640.1,542.9 640.7,558.6 641,548 641.3,525.8 641.9,481.5 641.9,481.5 642.5,525.8 642.8,609 643.1,590 643.7,552 643.7,552 644.3,558.3 644.9,540.8 645.5,557.5 646.1,543.5 646.6,552 646.7,559 647.2,548 647.3,544.4 647.5,615.2 647.9,523 648.1,515.8 648.4,526.5 648.5,530.1 649,548 649.1,543.7 649.7,557.2 650.3,539.5 650.9,555.5 651.5,542.5 652.1,563.8 652.7,544.4 653.3,555.2 653.9,542.8 654.1,552 654.5,561.1 655,572.5 655.1,570.2 655.7,556.6 655.9,552 656.3,558.4 656.9,541.5 657.5,558.4 658.1,544.2 658.7,555.3 659.1,548 659.3,545 659.9,536 660,534.5 660.5,542 660.9,548 661.1,544.4 661.7,556.7 662.3,534.2 662.7,552 662.9,559.6 663.5,582.4 663.6,586.2 664.1,567.2 664.5,552 664.7,555 665.3,539.5 665.9,555.1 666.5,540.6 667.1,557.1 667.7,539.1 668.3,559.2 668.9,539.5 669.5,533.6 670.1,539.4 670.7,558.4 671.3,562.5 671.9,541.2 672.5,559.3 673.1,539.4 673.7,557.5 674.1,552 674.3,556.1 674.9,568.4 675,570.5 675.5,560.2 675.9,552 676.1,555.8 676.7,542.2 677.3,532.7 677.9,554.9 678.5,529.7 679.1,558.7 679.7,538.7 680.3,554.1 680.9,532 681.5,559.2 682.1,542.4 682.7,556 683.3,554.7 683.8,552 683.9,559.6 684.5,605.2 684.7,620.4 685.1,590 685.6,552 685.7,531.5 686.3,554.5 686.9,541 687.5,554 688.1,542.7 688.7,556 689.1,548 689.3,544.6 689.9,534.2 690,532.5 690.5,541.1 690.9,548 691.1,559 691.7,542.1 692.3,554.3 692.9,543.4 693.5,559.5 694.1,554.1 694.7,541.1 695.3,539.8 695.8,552 695.9,558.9 696.5,600 696.7,613.7 697.1,586.3 697.6,552 697.7,556.4 698.3,540.5 698.9,556.1 699.1,548 699.5,541.6 700,533.5 700.1,535.1 700.7,544.8 700.9,548 701.3,555.5 701.9,541 702.5,554 703.1,549.1 703.1,552 703.7,569.7 704,578.5 704.3,569.7 704.9,552 704.9,552 705.5,541.7 706.1,555.8 706.7,540.7 707.3,538.8 707.9,559.4 708.1,548 708.5,538.8 709,527.2 709.1,529.5 709.7,543.4 709.9,548 710.3,539 710.9,557.4 711.5,539.3 712.1,555.5 712.3,552 712.7,566.8 713.2,585.2 713.3,581.5 713.8,548 713.9,540.9 714.1,526.6 714.5,498.1 714.7,483.8 715.1,512.3 715.6,548 715.7,556.2 716.3,542.8 716.9,555.9 717.1,552 717.5,562.9 718,576.5 718.1,573.8 718.7,557.4 718.9,552 719.3,538.9 719.9,558.7 720.5,541.2 721.1,559 721.7,541.4 722.3,555.8 722.9,538.8 723.5,549 723.5,552 724.1,597.6 724.4,620.4 724.7,597.6 725.3,552 725.3,552 725.9,559.8 726.5,538.2 727.1,549 727.1,548 727.7,531.4 728,523.1 728.3,531.4 728.9,548 728.9,548 729.5,558.8 730.1,541.2 730.7,556.5 731.3,533.8 731.9,559.5 732.4,552 732.5,556.1 733,548 733.1,541.8 733.3,589.3 733.7,504.4 733.9,492 734.2,510.7 734.3,516.9 734.8,548 734.9,569.3 735.5,556.5 736.1,542 736.7,559.5 737.3,539.9 737.5,548 737.9,537.4 738.4,524.1 738.5,526.8 739.1,542.7 739.3,548 739.7,557 740.3,542.3 740.9,554.5 741.5,539.5" fill="none" stroke="#0000ff" stroke-width="3.2" stroke-linejoin="round" stroke-linecap="round"/>
<rect x="105" y="793" width="637" height="171.1" fill="none" stroke="#1e1e1e" stroke-width="1.5"/>
<path d="M105 964.1v-6.5M105 793v6.5M317.3 964.1v-6.5M317.3 793v6.5M529.7 964.1v-6.5M529.7 793v6.5M742 964.1v-6.5M742 793v6.5M105 793h6.5M742 793h-6.5M105 878.5h6.5M742 878.5h-6.5M105 964.1h6.5M742 964.1h-6.5" stroke="#1e1e1e" stroke-width="1.5" fill="none"/>
<text x="105" y="1012.3" text-anchor="middle" class="t">292200</text>
<text x="317.3" y="1012.3" text-anchor="middle" class="t">293200</text>
<text x="529.7" y="1012.3" text-anchor="middle" class="t">294200</text>
<text x="742" y="1012.3" text-anchor="middle" class="t">295200</text>
<text x="90.2" y="806.3" text-anchor="end" class="t">200</text>
<text x="90.2" y="891.8" text-anchor="end" class="t">0</text>
<text x="90.2" y="977.4" text-anchor="end" class="t">-200</text>
<polyline points="105.2,892.5 106.6,891.8 108,893.3 110,893.5 111.4,892.7 112.8,892.4 114.2,890.1 115.5,890.5 116.9,890.4 118.3,888.5 119.7,886.5 120.7,886.7 122.1,885.6 123.5,885.6 124.9,886 126.3,887.5 127.7,887.3 129.1,886.1 130,886.5 131.4,886.1 132.8,888.2 134.2,887.4 135.6,886.2 137,886.8 138.4,886.6 139.3,887 143,896 146.5,910 148.5,909 151.7,907.6 153.1,907.7 154.5,908.3 155.9,907.4 157.3,907.9 158.7,908.1 160.1,908.2 161.5,907.1 162.9,907.4 164.3,909.2 165.7,907.5 167.1,907.6 168.5,908 169.9,907.1 171.3,907.3 172.7,908.9 174.1,908.6 175.5,906.7 176.9,907.7 178.3,906.6 179.7,906.4 181.1,907.6 182.5,908.8 183.9,907.5 185.3,908.8 186.7,906.8 188.1,907.7 189.5,907.7 190.9,907.7 192.3,908.4 193.7,908.1 195.1,907.2 196.5,906.5 197.9,907.2 199.3,907.6 200.7,907.2 202.1,906.4 203.5,906.2 204.9,908.2 206.3,907.8 207.7,907.1 209.1,908 210.5,908 211.9,907.4 213.3,907.3 214.7,908.5 216.1,908.3 217.5,908.7 218.9,908.4 220.3,907.8 221.7,907.2 223.1,907.3 224.5,907.1 225.9,907.7 227.3,907.8 228.7,908.5 230.1,908.7 231.5,907.6 232.9,907.9 234.3,906.7 235.7,907.1 237.1,906.7 238.5,907.7 239.9,907.2 241.3,907 242.7,907.6 244.1,906.1 245.5,907.5 246.9,908 248.3,908.6 249.7,906.7 251.1,907.3 252.5,906 253.9,908.7 255.3,907.4 256.7,907.8 258.1,906.4 259,907.6 259.6,910 263,893 265.4,863.5 268,866 269.4,866.7 270.8,867.3 272.2,867.7 273.7,869.7 275.1,868.3 276.5,868.1 278,868.5 279.4,867.3 280.8,866.2 282.2,868.2 284,866.6 287,872 291,905 293.3,912 296,911 298.5,909 299.9,908.9 301.3,909 302.7,909 304.1,908.7 305.5,908.9 306.9,909.3 308.3,908.7 309.7,909.9 311.1,908.7 312.5,909.8 313.9,908.2 315.3,909.1 316.7,909.4 318.1,909.9 319.5,910 320.9,908.1 322.3,908.4 323.7,910.1 325.1,908.6 326.5,907.7 327.9,909.8 329.3,909.4 330.7,908 332.1,908.4 333.7,909 336,915 340,940 344,950.4 347,949 348.4,949.2 349.8,947 351.2,946.2 352,946.3 353.4,945.9 354.8,947.2 356.2,944.9 357.6,946.5 359,946.2 360.4,946.5 361.8,946.7 363.2,946.2 364.6,946.6 366,946.5 367.4,947.3 368.8,944.4 370.2,946 371.6,946.2 373,945.1 374.4,947.3 375.8,946.6 377.2,944.9 378.6,946 380,946.8 381.4,946.3 382.8,945.7 384.2,946.7 385.6,946.5 387.4,946.3 388.5,955.6 389.5,801.5 392,818 395.7,833.6 397.1,832.3 398.5,832.3 400,832 401.4,832.9 402.8,832.7 404.2,830.9 405.6,831.1 407,832.5 408.4,831.8 409.8,831.3 411.2,830.9 412.6,831.2 414,831.7 415.4,829 416.8,831.4 418.2,829.9 420,830.5 421.4,829.5 422.8,830 424.2,829.6 425.6,829.7 427,830.5 428.4,830.2 429.8,831.3 431.2,829.3 432.6,831.1 434,829.6 435.4,830.6 436.8,830.2 438.2,831.2 439.6,829.5 440.7,830.5 443,835 447,865 449,874.9 451,873 455,868.7 456.4,868.8 457.8,869.9 459.2,869.7 460.6,868.5 462,869.3 463.4,869.6 464.8,869.1 466.2,869.7 467.6,869.5 469,867 470.4,869.2 471.8,871.5 473.2,868.5 474.6,868.5 476,868.8 477.4,868.1 478.8,868.5 480.2,868.7 481.6,870.3 483,868.6 484.4,869.2 485.8,868.6 487.2,868 488.6,868.2 490,867.9 491.4,869.8 492.8,868.5 494.4,868.7 496,873 500,905 501.7,914.2 504,912 509,908 510.4,906.9 511.8,908 513.2,909.7 514.6,908.2 516,908 517.4,908.3 518.8,907.7 520.2,907.2 521.6,909.1 523,905.4 524.4,907.6 525.8,907.3 527.2,907.9 528.6,907.4 530,908.9 531.4,909.3 532.8,908.1 534.2,907 535.6,907.4 537,907.7 538.4,907.3 539.8,907 541.2,909.4 542.6,908.8 544,908 546,915 550,945 552.3,951.4 555,950 556.4,948.3 557.8,947.5 559.2,947.3 560.6,946.3 562,945.8 563.4,946.8 564.8,946.9 566.2,946.4 567.6,945.6 569,946.1 570.4,945 571.8,946 573.2,947.7 574.6,945.9 576,946.9 577.4,947.3 578.8,947.6 580.2,945.3 581.6,946.1 583,945.9 584.4,947.4 585.8,947.2 587.2,945.5 588.6,945.9 590,946.6 591.4,947.9 592.8,946 594.2,947.3 595.6,945.6 597,945.3 597.8,946.3 598.9,954.5 599.5,800.5 602,812 606,828 610.2,834.6 611.6,834.8 613,833.1 615,833 616.4,831.5 617.8,833.4 619.2,832.6 620.6,830.8 622,832.2 623.4,831.6 624.8,831.4 626.8,830.5 628.2,829.7 629.6,830.2 631,828.8 632.4,828.8 633.8,831.1 635.2,830.1 636.6,830.7 638,830.3 639.4,830.1 640.8,830.1 642.2,830.9 643.6,830.3 645,829.3 646.4,831.4 647.8,831.6 649.2,831.1 650.6,831.7 652,830.6 653.7,830.5 655,835 659,862 661,871.8 664,870 665.4,869.8 666.8,870.5 668.2,869.8 669.6,868.2 671,868.8 672.3,868.7 673.7,868.8 675.1,870.4 676.5,868.7 677.9,868.1 679.3,867.8 680.7,868.6 682.1,868.2 683.5,868.6 684.9,867.9 686.3,867.4 687.7,868.5 689.1,869 690.5,868.8 691.9,867.5 693.3,868.4 694.7,869.3 696.1,868.9 697.5,868.2 698.9,868.3 700.3,868.3 701.7,868.9 703.1,868.4 704.5,869 705.9,868.8 707.4,868.7 709,872 713,903 714.7,910 717,911 718.4,911.1 719.8,911.6 721.2,911.7 722.6,910.7 724,910.8 725.4,911.7 726.8,910.7 728.2,910 729.6,910.5 731,910.1 732.4,911 733.8,911.1 735.2,912 736.6,911.3 738,911.5 739.4,912.2 741.5,911" fill="none" stroke="#0000ff" stroke-width="3.4" stroke-linejoin="round" stroke-linecap="round"/>
<rect x="105" y="1025.2" width="637" height="173.6" fill="none" stroke="#1e1e1e" stroke-width="1.5"/>
<path d="M105 1198.8v-6.5M105 1025.2v6.5M317.3 1198.8v-6.5M317.3 1025.2v6.5M529.7 1198.8v-6.5M529.7 1025.2v6.5M742 1198.8v-6.5M742 1025.2v6.5M105 1025.2h6.5M742 1025.2h-6.5M105 1112h6.5M742 1112h-6.5M105 1198.8h6.5M742 1198.8h-6.5" stroke="#1e1e1e" stroke-width="1.5" fill="none"/>
<text x="105" y="1247" text-anchor="middle" class="t">292200</text>
<text x="317.3" y="1247" text-anchor="middle" class="t">293200</text>
<text x="529.7" y="1247" text-anchor="middle" class="t">294200</text>
<text x="742" y="1247" text-anchor="middle" class="t">295200</text>
<text x="90.2" y="1038.5" text-anchor="end" class="t">10</text>
<text x="90.2" y="1125.3" text-anchor="end" class="t">0</text>
<text x="90.2" y="1212.1" text-anchor="end" class="t">-10</text>
<polyline points="105.5,1118.6 106.1,1105.1 106.7,1120.7 107.3,1104.4 107.9,1120.8 108.5,1118.1 109.1,1119.9 109.7,1102 110.3,1117.5 110.9,1107.2 111.5,1119.8 112.1,1117.2 112.7,1107.7 113.3,1120.5 113.9,1104.1 114.5,1099.7 115.1,1128.9 115.7,1106.2 116.3,1118.6 116.9,1108.3 117.5,1121 118.1,1106.9 118.7,1105.8 119.3,1122 119.9,1107.8 120.5,1119.2 121.1,1098.8 121.7,1107.1 122.3,1120 122.9,1106.2 123.5,1128.5 124.1,1108.6 124.7,1121.7 125.3,1107.1 125.9,1126 126.5,1105.9 127.1,1117.1 127.7,1104.9 128.3,1124.5 128.9,1108 129.5,1121.5 130.1,1119.6 130.7,1100.1 131.3,1118.5 131.9,1117.3 132.5,1104.7 133.1,1121 133.7,1096.5 134.3,1121.1 134.9,1107.7 135.5,1117.8 136.1,1108.6 136.7,1120.8 137.3,1117.7 137.9,1107.9 138.5,1096.6 139.1,1119 139.5,1108 139.7,1108.1 140.3,1093.8 140.9,1095.4 141.4,1088 141.5,1091.4 142.1,1086.9 142.7,1095.9 143,1092 143.3,1088.8 143.9,1101.9 144.5,1096.9 145.1,1104.8 145.7,1103 146,1106 146.3,1108.6 146.9,1118.7 147.5,1108.3 148.1,1118.3 148.7,1104.7 149.3,1126.1 149.9,1098.7 150.5,1120.7 150.8,1115 151.1,1122.4 151.7,1130 151.7,1130 152.3,1122.6 152.6,1115 152.9,1117.7 153.5,1107.7 154.1,1118.6 154.7,1105.4 155.3,1119.8 155.9,1108.9 156.5,1119.7 157.1,1129.1 157.7,1106.9 158.3,1125.7 158.9,1104.5 159.5,1121.9 160.1,1117.5 160.7,1107 161.3,1117.1 161.9,1105.3 162.5,1105.1 163.1,1121.2 163.7,1108.6 164.3,1117.4 164.9,1108.5 165.5,1121 166.1,1121.8 166.7,1104.6 167.3,1120.6 167.9,1117.5 168.5,1107.1 169.1,1117.6 169.7,1101.7 170.3,1128.7 170.9,1121.7 171.5,1119.2 172.1,1106.6 172.7,1121 173.3,1104.3 173.9,1117.4 174.5,1107 175.1,1117.1 175.7,1108.2 176.3,1120.5 176.9,1104.4 177.5,1119.1 178.1,1121.6 178.7,1108.3 179.3,1120.8 179.7,1115 179.9,1117.1 180.5,1132.1 180.6,1131 181.1,1119.9 181.5,1115 181.7,1119.7 182.3,1108.7 182.9,1097.5 183.5,1121.1 184.1,1105.3 184.7,1120.3 185.3,1104.7 185.9,1118.4 186.5,1107.7 187.1,1117.9 187.7,1118.5 188.3,1121.2 188.9,1107.8 189.5,1129.4 190.1,1107 190.7,1107 191.3,1121.1 191.9,1097.1 192.5,1108.2 193.1,1120.2 193.7,1104.9 194.3,1118.4 194.9,1120.6 195.5,1106.6 196.1,1118.3 196.7,1105.1 197.3,1117.4 197.9,1117.6 198.5,1107.5 199.1,1121.4 199.7,1107.9 200.3,1120.6 200.9,1104.8 201.5,1118.4 202.1,1118.3 202.7,1107.4 203.3,1120.1 203.9,1101.1 204.5,1107.9 205.1,1120.8 205.7,1105.7 206.3,1119.6 206.9,1106 207.5,1121.8 208.1,1119.7 208.7,1117.9 209.3,1108.6 209.9,1121.4 210.5,1107.6 211.1,1125.1 211.7,1104.5 212.3,1121.3 212.9,1107.3 213.5,1121.4 214.1,1106 214.7,1130 215.3,1121.7 215.9,1120.4 216.5,1108 217.1,1123.6 217.7,1106.7 218.3,1121.8 218.9,1104.7 219.5,1117.7 220.1,1106.4 220.7,1106.1 221.3,1117.3 221.9,1108.6 222.5,1118.8 223.1,1107.2 223.7,1108.9 224.3,1117.1 224.9,1105.5 225.5,1118.9 226.1,1106.9 226.7,1121.3 227.3,1101.9 227.9,1117.5 228.5,1108 229.1,1120.4 229.7,1105.2 230.3,1118.1 230.9,1107.2 231.5,1121.2 232.1,1108.4 232.7,1117.2 233.3,1096.5 233.9,1121.5 234.5,1106.5 235.1,1118.1 235.7,1108.6 236.3,1119.7 236.9,1106.8 237.5,1104.2 238.1,1119.5 238.7,1106.4 239.3,1123.9 239.9,1106.8 240.5,1107.7 241.1,1120.8 241.7,1107.6 242.3,1117.9 242.9,1108.4 243.5,1118.9 244.1,1104.6 244.7,1117.3 245.3,1106.7 245.9,1120.1 246.5,1106.9 247.1,1119.2 247.7,1105.9 248.3,1118.4 248.9,1107.9 249.5,1121.8 250.1,1120.4 250.7,1105.2 251.3,1118.8 251.9,1106.1 252.5,1113 252.5,1105 253.1,1098.9 253.7,1087.5 254,1086 254.3,1087 254.9,1096.8 255.5,1100 255.5,1100 256.1,1107.4 256.7,1120.9 257.3,1108.1 257.9,1118.9 258.5,1108.1 259.1,1120.5 259.5,1122 259.7,1127.5 260.3,1134.8 260.9,1149.8 261.5,1156.5 262,1168 262.1,1170.5 262.7,1176.1 263.3,1175.6 263.4,1178 263.9,1171.7 264.5,1172.9 264.6,1170 265.1,1153.1 265.7,1127.1 266,1118 266.3,1110.5 266.9,1105 267.5,1094 267.5,1094 268.1,1100 268.5,1108 268.7,1108.8 269.3,1117.4 269.9,1107 270.5,1121 271.1,1107.5 271.7,1117.9 272.3,1117.8 272.9,1098 273.5,1125.1 274.1,1106.1 274.7,1118.8 275.3,1107.4 275.9,1117.7 276.5,1119.2 277.1,1106.9 277.7,1121.7 278.3,1108.4 278.9,1117.2 279.5,1108.6 280.1,1122 280.7,1107.1 281.3,1128 281.9,1119.7 282.5,1101.9 283.1,1121.8 283.7,1120.3 284.3,1108.1 284.9,1117.9 285.5,1104.1 286,1100 286.1,1096.3 286.7,1090.9 287.3,1079.4 287.5,1074 287.9,1067.8 288.5,1067.6 289.1,1059 289.2,1060 289.7,1059.4 290.3,1067.6 290.9,1065.1 291,1068 291.5,1066.2 292.1,1079.1 292.7,1078.8 293.3,1087.6 293.9,1086.3 294,1090 294.5,1089.5 295.1,1096.3 295.7,1093.3 296.3,1101.1 296.9,1097.8 297.5,1107.6 298,1105 298.1,1118.9 298.7,1118.1 299.3,1106.9 299.9,1117.7 300.5,1108.8 301.1,1118.7 301.7,1108.7 302.3,1119.4 302.9,1105 303.5,1121.7 303.8,1118 304.1,1120.5 304.7,1142 304.7,1142 305.3,1123.7 305.6,1118 305.9,1108.7 306.5,1120.9 307.1,1119.1 307.7,1106.7 308.3,1119.5 308.9,1107.4 309.5,1120.1 310.1,1108 310.7,1117.2 311.3,1105.9 311.9,1119.8 312.5,1105.9 313.1,1118.7 313.7,1108.8 314.3,1118.8 314.9,1108.3 315.5,1119.8 316.1,1121 316.7,1117.3 317.3,1127.4 317.9,1107.2 318.5,1121 319.1,1117.7 319.7,1119.9 320.3,1107.3 320.9,1121.7 321.5,1121.7 322.1,1104 322.7,1120.9 323.3,1107.8 323.9,1121.1 324.5,1108.5 325.1,1120.2 325.7,1119.3 326.3,1107 326.9,1119.6 327.5,1107.5 328.1,1118 328.7,1107.1 329.3,1118.3 329.9,1100.9 330.5,1118.7 331.1,1107.4 331.7,1121.3 332.3,1106.1 332.9,1121.2 333.5,1106.5 334.1,1108.4 334.7,1120 335.3,1106.5 335.5,1100 335.9,1092.2 336.5,1087.9 337.1,1074.4 337.7,1072.6 337.8,1068 338.3,1074.4 338.9,1080.8 339.5,1069.1 340,1075 340.1,1080.5 340.7,1075.3 341.3,1087.7 341.9,1084.8 342.5,1088.1 343,1095 343.1,1098.7 343.7,1119.6 344.3,1097.9 344.9,1122.2 345.5,1100.7 346.1,1122.4 346.7,1099.4 347.3,1126.7 347.9,1125 348.5,1097.3 349.1,1124.9 349.7,1089.8 350.3,1101.8 350.9,1120.3 351.5,1095.6 352.1,1096.7 352.7,1135.6 353.3,1101.1 353.9,1123.9 354.5,1081.6 355.1,1123.6 355.7,1102.1 356.3,1124.8 356.9,1100.3 357.5,1124.3 358.1,1096.1 358.7,1096.5 359.3,1094.6 359.9,1124.7 360.5,1095.5 361.1,1122.2 361.7,1096.7 362.3,1124.8 362.9,1093.1 363.5,1126.2 364.1,1097.2 364.7,1120.7 365.3,1124.1 365.9,1095.9 366.5,1119.5 367.1,1094 367.7,1120.4 368.3,1095.2 368.9,1097 369.5,1125.6 370.1,1098.6 370.7,1118.2 371.1,1122 371.3,1131 371.9,1135 372,1142 372.5,1121.7 372.9,1122 373.1,1122.1 373.7,1097.5 374.3,1096.2 374.9,1122.3 375.5,1098.7 376.1,1135.1 376.7,1093.6 377.3,1119.9 377.9,1102.2 378.5,1124.1 379.1,1097.7 379.7,1125.2 380.3,1100.1 380.9,1123.3 381.5,1094.7 382.1,1097.7 382.7,1093.2 383.3,1118.7 383.9,1093.2 384.5,1131.9 385.1,1101.7 385.7,1096.2 386.3,1125.2 386.9,1103.3 387.5,1119.5 388.1,1105.4 388.7,1118.3 389,1095 389.3,1093.1 389.9,1079.9 390.5,1079.1 391.1,1069.2 391.6,1065 391.7,1063.7 392.3,1070.4 392.9,1068.9 393.5,1075 393.5,1075 394.1,1082.3 394.7,1083.2 395.3,1092.3 395.9,1092.4 396.5,1100 396.5,1100 397.1,1119.7 397.7,1105.1 398.3,1117.1 398.9,1105.4 399.5,1117.1 400.1,1107.7 400.7,1117.7 401.3,1107 401.9,1105.4 402.5,1117.6 403.1,1105.4 403.7,1101.1 404.3,1118.2 404.9,1119.8 405.5,1118.2 406.1,1107.7 406.7,1104.6 407.3,1121.7 407.9,1108.2 408.5,1118.4 409.1,1104.9 409.7,1107.8 410.3,1119.8 410.9,1096.8 411.5,1107.1 412.1,1118 412.7,1106.5 413.3,1108.5 413.9,1121 414.5,1105 415.1,1119.2 415.7,1104.6 416.3,1121.2 416.9,1106.1 417.5,1120.2 418.1,1105.3 418.7,1123.4 419.3,1104.7 419.9,1117.2 420.5,1107 421.1,1119.2 421.7,1108 422.3,1108.6 422.9,1121.8 423.5,1105.1 424.1,1117.8 424.7,1108.3 425.3,1107.4 425.9,1118.4 426.5,1106.1 427.1,1119.6 427.7,1104.8 428.3,1119 428.9,1106.8 429.5,1119.6 430.1,1107.1 430.7,1123.4 431.3,1104.3 431.9,1119.5 432.5,1104.1 433.1,1117.4 433.7,1105.3 434.3,1119.6 434.9,1121.4 435.5,1105.7 436.1,1120.5 436.7,1108.5 437.3,1119.7 437.9,1108.5 438.5,1107.3 439.1,1117.6 439.7,1119.3 440.3,1106.1 440.9,1107 441.5,1113 441.5,1100 442.1,1096.5 442.7,1084.4 443.3,1083.5 443.8,1076 443.9,1073.8 444.5,1079.3 445.1,1082.1 445.7,1083.5 446,1082 446.3,1078.7 446.9,1092.3 447.5,1088.1 448.1,1098.7 448.7,1094 449,1100 449.3,1121.6 449.9,1097 450.5,1122.4 451.1,1099.5 451.7,1091.4 452.3,1122.7 452.9,1098 453.5,1123.7 454.1,1100.7 454.7,1123.2 455.3,1098.9 455.9,1120.5 456.5,1099.9 457.1,1118.6 457.7,1102.5 458.3,1120.4 458.9,1120.3 459.5,1102.4 460.1,1120.1 460.7,1121.7 461.3,1097.4 461.9,1129.1 462.5,1095.7 463.1,1116.9 463.7,1102.6 464.3,1101.7 464.9,1122.3 465.5,1101.8 466.1,1131 466.7,1099.3 467.3,1122.1 467.9,1099.8 468.5,1119.2 469.1,1084.8 469.7,1118.7 470.3,1095.1 470.9,1121.1 471.5,1082.5 472.1,1119.4 472.7,1103.2 473.3,1098.8 473.9,1124.3 474.5,1101.2 475.1,1121.9 475.7,1096.5 476.3,1118.9 476.9,1099.1 477.5,1092.1 478.1,1124.7 478.7,1099.7 479.3,1119 479.9,1103.1 480.5,1130 481.1,1097.1 481.7,1102.2 482.3,1117.4 482.9,1097.7 483.5,1117.4 484.1,1097.1 484.7,1118.8 485.3,1102.6 485.9,1120 486.5,1102.3 487.1,1100.2 487.7,1099.8 488.3,1121.4 488.9,1100 489.5,1135.8 490.1,1101.5 490.7,1121.1 491.3,1117 491.9,1095.2 492.5,1119.2 493.1,1098.5 493.7,1118.4 494.3,1120.1 494.5,1095 494.9,1084.5 495.5,1078.7 496.1,1060.3 496.2,1060 496.7,1053.9 497.1,1055 497.3,1053.8 497.9,1064.7 498.5,1063.4 499,1070 499.1,1067.5 499.7,1074.1 500.3,1081.1 500.9,1091.4 501.5,1097.8 502,1100 502.1,1120.8 502.7,1103.2 503.3,1094.2 503.9,1119.4 504.5,1120.2 505.1,1094.6 505.7,1118.6 506.3,1106.6 506.9,1108.3 507.5,1118 508.1,1108.5 508.7,1122 509.3,1106.3 509.9,1120.2 510.5,1107.5 511.1,1103.4 511.7,1119.1 512.3,1094.3 512.9,1129.2 513.5,1101.3 514.1,1122.6 514.7,1105.1 515.3,1117.5 515.9,1121.6 516.5,1107.1 517.1,1120.4 517.7,1106.7 518.3,1121.4 518.9,1107.7 519.5,1120.4 520.1,1107.6 520.7,1119.9 521.3,1103.4 521.9,1120.8 522.5,1097.4 523.1,1117.7 523.7,1104.7 524.3,1121.4 524.9,1095.7 525.5,1118.7 526.1,1103.1 526.7,1105.9 527.3,1120.7 527.9,1108.4 528.5,1104.9 529.1,1119.8 529.7,1108.2 530.3,1117.6 530.9,1121.6 531.5,1119.4 532.1,1108.1 532.7,1121.5 533.3,1101.2 533.9,1120 534.5,1105.1 535.1,1121.5 535.7,1107 536.3,1121.6 536.9,1105.1 537.5,1119 538.1,1106 538.7,1128 539.3,1104.1 539.9,1118.4 540.5,1106.2 541.1,1121.4 541.7,1104.1 542.3,1120.3 542.9,1105.4 543.5,1121 544.1,1108 544.7,1119.2 545.3,1103.2 545.9,1126.2 546,1095 546.5,1083.9 547.1,1086.4 547.7,1070.8 548.3,1071.3 548.6,1065 548.9,1069.8 549.5,1066.4 550.1,1077 550.7,1071.3 551,1078 551.3,1075.8 551.9,1087.7 552.5,1093.8 553.1,1082.9 553.7,1108.9 554,1100 554.3,1124.5 554.9,1107 555.5,1127.1 556.1,1103.6 556.7,1123.8 557.3,1105.6 557.9,1129.4 558.5,1126.1 559.1,1128.3 559.7,1101.2 560.3,1123.6 560.9,1098.2 561.5,1123.8 562.1,1098.3 562.7,1126.3 563.3,1102.6 563.9,1130.7 564.5,1106.4 565.1,1098.2 565.7,1127.6 566.3,1123.6 566.9,1127.7 567.5,1105.4 568.1,1100.4 568.7,1131.5 569.3,1126 569.9,1091 570.5,1130.8 571.1,1099.3 571.7,1127.4 572.3,1098.9 572.9,1098.8 573.5,1129.5 574.1,1098.8 574.7,1137.2 575.3,1098.2 575.9,1126.1 576.5,1100.1 577.1,1123.7 577.7,1099.7 578.3,1125 578.9,1090.5 579.5,1124.7 580.1,1100.8 580.7,1124.3 581.3,1102.6 581.9,1127.1 582.5,1085.9 583.1,1123.7 583.7,1099 584.3,1125.7 584.9,1104.4 585.5,1123.4 586.1,1104.3 586.7,1135.1 587.3,1107.1 587.9,1130.6 588.5,1128.6 589.1,1105.7 589.7,1131.7 590.3,1103.3 590.9,1126.4 591.5,1100.3 592.1,1128.7 592.7,1104.4 593.3,1123.1 593.9,1099.4 594.5,1128.2 595.1,1102.3 595.7,1125.3 596.3,1102.7 596.9,1125.6 597.5,1101.4 598,1100 598.1,1101.8 598.7,1090 599.3,1088.7 599.9,1078.4 600.3,1076 600.5,1073.8 601.1,1081.2 601.7,1079.1 602.3,1086.3 602.5,1085 602.9,1088.8 603.5,1087.5 604.1,1095.8 604.7,1093.3 605.3,1100.7 605.9,1104.6 606,1102 606.5,1126.8 607.1,1118.1 607.7,1108.6 608.3,1117.5 608.9,1106 609.5,1129.8 610.1,1107.9 610.7,1120 611.3,1104.1 611.9,1117.2 612.5,1104.9 613.1,1106.9 613.7,1100.8 614.3,1118.4 614.9,1108.9 615.5,1105.2 616.1,1120.4 616.7,1099.1 617.3,1118.3 617.9,1106.1 618.5,1117.5 619.1,1106.4 619.7,1108.4 620.3,1121.6 620.9,1104.6 621.5,1097.8 622.1,1117.7 622.7,1107.3 623.3,1120.9 623.9,1108.6 624.5,1117.6 625.1,1107.1 625.7,1120.7 626.3,1105.3 626.9,1120.8 627.5,1107.3 628.1,1117.4 628.7,1105 629.3,1120.3 629.9,1106.2 630.5,1121.7 631.1,1120.3 631.7,1104.3 632.3,1119.1 632.9,1107.9 633.5,1120.8 634.1,1101.5 634.5,1110 634.7,1102.4 635.3,1089.8 635.5,1082 635.9,1107.5 636.5,1138 636.5,1138 637.1,1126 637.5,1115 637.7,1119.9 638.3,1104.5 638.9,1129.1 639.5,1104.6 640.1,1106.7 640.7,1117.6 641.3,1105 641.9,1120.8 642.5,1119.6 643.1,1106.8 643.7,1121.1 644.3,1097.4 644.9,1121.5 645.5,1107.1 646.1,1106.5 646.7,1106.6 647.3,1118.5 647.9,1104.6 648.5,1128.4 649.1,1105.1 649.7,1121.6 650.3,1099.7 650.9,1126.2 651.5,1121.9 652.1,1104.4 652.7,1119.5 653.3,1108 653.5,1100 653.9,1093.8 654.5,1092.9 655.1,1087.9 655.7,1080 655.7,1080 656.3,1077.6 656.9,1087.1 657.5,1083.6 658,1088 658.1,1082.7 658.7,1093.8 659.3,1093.6 659.9,1100.2 660.5,1099.4 661,1105 661.1,1104.6 661.7,1117.3 662.3,1105.1 662.9,1108.5 663.5,1102.1 664.1,1108.6 664.7,1119.3 665.3,1104.5 665.9,1118 666.5,1117.8 667.1,1105.6 667.7,1106.7 668.3,1117.9 668.9,1106.9 669.5,1117.3 670.1,1106.3 670.7,1118.8 671.3,1106.6 671.9,1121.6 672.5,1105.3 673.1,1120.3 673.7,1106.1 674.3,1121.1 674.9,1104 675.5,1119.7 676.1,1107.7 676.7,1121.9 677.3,1106 677.9,1117.5 678.5,1118.1 679.1,1108.9 679.7,1121.2 680.3,1107.8 680.9,1118.5 681.5,1105.8 682.1,1120.7 682.7,1104.8 683.3,1117.1 683.9,1101.5 684.5,1117.2 685.1,1104.8 685.7,1121.8 686.3,1097 686.9,1121.3 687.5,1105.3 688.1,1108.5 688.7,1105 689.3,1119.7 689.9,1106.1 690.5,1119.4 691.1,1108.6 691.7,1121.1 692.3,1104.2 692.9,1117.6 693.5,1104.9 694.1,1117.7 694.7,1105.1 695.3,1121.2 695.9,1106.2 696.5,1118.2 697.1,1106 697.7,1117.5 698.3,1104.6 698.9,1118.5 699.5,1106 700.1,1121.6 700.7,1107.6 701.3,1120.7 701.9,1117.9 702.5,1107.4 703.1,1128.9 703.7,1106.4 704.3,1117.6 704.9,1105 705.5,1121.4 706.1,1121.4 706.7,1104.8 707.3,1120.7 707.9,1119.9 708.5,1101.5 709.1,1121.8 709.5,1095 709.7,1093.9 710.3,1082.7 710.9,1079.5 711.5,1066.4 711.6,1068 712.1,1065.2 712.7,1076.8 713.3,1075.4 713.5,1078 713.9,1078.5 714.5,1088 715.1,1088.9 715.7,1097.5 716.3,1101.1 716.9,1102.8 717,1105 717.5,1105 718.1,1104.5 718.7,1106.9 719.3,1117.7 719.9,1105.9 720.5,1120.4 721.1,1105.5 721.7,1119.8 722.3,1107.2 722.9,1129.4 723.5,1106.9 724.1,1121.3 724.7,1117.6 725.3,1104.8 725.9,1125.3 726.5,1104.4 727.1,1108.6 727.7,1121.6 728.3,1104.9 728.9,1128 729.5,1096.4 730.1,1119.8 730.7,1106.7 731.3,1120.2 731.9,1105.6 732.5,1107.9 733.1,1106.2 733.7,1119.7 734.3,1106.2 734.9,1118 735.5,1096.6 736.1,1121.1 736.7,1107.9 737.3,1121.3 737.9,1108.5 738.5,1127.3 739.1,1102.2 739.7,1118.7 740.3,1097.2 740.9,1117.6 741.5,1099.3" fill="none" stroke="#0000ff" stroke-width="3.2" stroke-linejoin="round" stroke-linecap="round"/>
<rect x="105" y="1259.8" width="637" height="173.8" fill="none" stroke="#1e1e1e" stroke-width="1.5"/>
<path d="M105 1433.6v-6.5M105 1259.8v6.5M317.3 1433.6v-6.5M317.3 1259.8v6.5M529.7 1433.6v-6.5M529.7 1259.8v6.5M742 1433.6v-6.5M742 1259.8v6.5M105 1297.4h6.5M742 1297.4h-6.5M105 1342.4h6.5M742 1342.4h-6.5M105 1387.4h6.5M742 1387.4h-6.5M105 1432.4h6.5M742 1432.4h-6.5" stroke="#1e1e1e" stroke-width="1.5" fill="none"/>
<text x="105" y="1481.8" text-anchor="middle" class="t">292200</text>
<text x="317.3" y="1481.8" text-anchor="middle" class="t">293200</text>
<text x="529.7" y="1481.8" text-anchor="middle" class="t">294200</text>
<text x="742" y="1481.8" text-anchor="middle" class="t">295200</text>
<text x="90.2" y="1310.7" text-anchor="end" class="t">5</text>
<text x="90.2" y="1355.7" text-anchor="end" class="t">0</text>
<text x="90.2" y="1400.7" text-anchor="end" class="t">-5</text>
<text x="90.2" y="1445.7" text-anchor="end" class="t">-10</text>
<polyline points="105.5,1336.8 106.1,1355.8 106.7,1359.5 107.3,1338.3 107.9,1358.2 108.5,1342.8 109.1,1354.6 109.7,1360.4 110.3,1338.3 110.9,1355.5 111.5,1338.6 112.1,1357.8 112.7,1344.9 113.3,1359.9 113.9,1342.9 114.5,1363.6 115.1,1342.3 115.7,1358.3 116.3,1340.7 116.9,1363.5 117.5,1343.5 118.1,1344.7 118.7,1368 119.3,1345.9 119.9,1363 120.5,1341.9 121.1,1359.2 121.7,1344.7 122.3,1357.5 122.9,1344.8 123.5,1373 124.1,1340.4 124.7,1362.3 125.3,1346.1 125.9,1341.2 126.5,1363.7 127.1,1343.4 127.7,1363.8 128.3,1342.4 128.9,1358.6 129.5,1340.2 130.1,1360.9 130.7,1345 131.3,1363.3 131.9,1361.4 132.5,1343.3 133.1,1358.2 133.7,1363.4 134.3,1345.4 134.9,1357.4 135.5,1344.7 136.1,1357.5 136.7,1363.5 137.3,1345.4 137.9,1336.6 138.5,1358.7 139,1345 139.1,1352.3 139.7,1337.7 140.3,1342.6 140.9,1339.8 141.4,1329 141.5,1326 142.1,1328.5 142.7,1335.3 143.3,1332.1 143.9,1338 144,1336 144.5,1340.6 145.1,1338.3 145.7,1348.9 146.3,1345.2 146.9,1355.4 147,1352 147.5,1343.7 148.1,1360.2 148.7,1333.7 149.3,1360.2 149.9,1344.5 150.5,1357.3 151.1,1343.7 151.7,1357.4 152.3,1342.1 152.9,1357.9 153.5,1344.3 154.1,1359.7 154.7,1358.5 155.3,1343.5 155.9,1361.6 156.5,1361.4 157.1,1343.3 157.7,1357.8 158.3,1340.6 158.9,1361.8 159.5,1361.4 160.1,1344 160.7,1360.5 161.3,1343.9 161.9,1356.3 162.5,1361.2 163.1,1342.2 163.7,1358.6 164.3,1343.3 164.9,1356.5 165.5,1334.1 166.1,1359.9 166.7,1360 167.3,1341.8 167.9,1357.9 168.5,1341.3 169.1,1359.8 169.7,1345.8 170.3,1361.1 170.9,1345.1 171.5,1344.1 172.1,1355.7 172.7,1341.4 173.3,1359.9 173.9,1341.4 174.5,1359.4 175.1,1340.6 175.7,1367.2 176.3,1340.7 176.6,1345 176.9,1332 177.5,1311 177.5,1311 178.1,1334.9 178.5,1345 178.7,1349.6 179.3,1352.1 179.9,1364.7 180.5,1368.1 180.6,1371 181.1,1357.3 181.6,1350 181.7,1341.6 182.3,1354.8 182.9,1345.1 183.5,1359.2 184.1,1357.2 184.7,1355.1 185.3,1335.8 185.9,1357.6 186.5,1355.1 187.1,1338.4 187.7,1356 188.3,1333.9 188.9,1352.8 189.5,1337.6 190.1,1354.4 190.7,1339.7 191.3,1352.6 191.9,1338.7 192.5,1354.2 193.1,1337.2 193.7,1351.5 194.3,1336.1 194.9,1352.5 195.5,1336.2 196.1,1350.7 196.7,1334.7 197.3,1337.5 197.9,1338.6 198.5,1350.9 199.1,1327.8 199.7,1337.3 200.3,1350 200.9,1336.2 201.5,1336.2 202.1,1335.2 202.7,1335.5 203.3,1335.6 203.9,1332.4 204.5,1346.4 205.1,1348.9 205.7,1334.1 206.3,1349 206.9,1324.4 207.5,1356.4 208.1,1333.7 208.7,1347.7 209.3,1333.7 209.9,1349.8 210.5,1333.6 211.1,1347.5 211.7,1334.1 212.3,1348.8 212.9,1354.9 213.5,1334.4 214.1,1345.7 214.7,1334.8 215.3,1353.1 215.9,1330 216.5,1335.7 217.1,1345.7 217.7,1345.8 218.3,1334.7 218.9,1348.6 219.5,1336.1 220.1,1332.7 220.7,1347.7 221.3,1346.4 221.9,1335.7 222.5,1335 223.1,1348.8 223.7,1336 224.3,1349.9 224.9,1332.2 225.5,1347.1 226.1,1334.4 226.7,1331.9 227.3,1347.1 227.9,1335.5 228.5,1332 229.1,1335.7 229.7,1332.5 230.3,1348.4 230.9,1324.3 231.5,1349.4 232.1,1333.4 232.7,1345.3 233.3,1334.7 233.9,1335.3 234.5,1349.5 235.1,1344.9 235.7,1345.2 236.3,1335.5 236.9,1356.7 237.5,1334.7 238.1,1347.4 238.7,1332.8 239.3,1344.8 239.9,1331.7 240.5,1346.2 241.1,1335.2 241.7,1345.9 242.3,1333.5 242.9,1344.2 243.5,1347.4 244.1,1332.8 244.7,1348.5 245.3,1335.9 245.9,1349.6 246.5,1332.5 247.1,1355.6 247.7,1336.7 248.3,1332.9 248.9,1350.7 249.5,1333.5 250.1,1351.3 250.7,1338.3 251.3,1350.8 251.9,1337.9 252.5,1352.7 252.8,1348 253.1,1353.1 253.7,1371.1 254,1376 254.3,1351.1 254.9,1313.3 255,1303 255.5,1322.7 256,1330 256.1,1329.1 256.7,1345.4 257,1348 257.3,1352.5 257.9,1340.1 258.5,1356 259.1,1345 259.7,1360 260,1360 260.3,1370.8 260.9,1391.2 261.5,1401.3 262.1,1424.9 262.2,1425 262.7,1429.4 263.3,1428.7 263.4,1431 263.9,1424.5 264.5,1423.2 264.6,1420 265.1,1403.4 265.7,1394.6 266.3,1373.2 266.5,1370 266.9,1369.7 267.5,1344.4 268.1,1380.1 268.7,1356.5 269.3,1370.3 269.9,1370.7 270.5,1353 271.1,1370.9 271.7,1354.2 272.3,1373 272.9,1351.9 273.5,1381.4 274.1,1368.9 274.7,1372.5 275.3,1355.1 275.9,1371.7 276.5,1369 277.1,1356.4 277.7,1371.4 278.3,1353.2 278.9,1355.8 279.5,1367.8 280.1,1353.1 280.7,1368.5 281.3,1349.5 281.9,1352.2 282.5,1372 283.1,1350.1 283.7,1349.6 284.3,1370.1 284.9,1349.6 285.5,1366.4 286.1,1345.8 286.5,1345 286.7,1347.7 287.3,1320.5 287.9,1310.6 288,1305 288.5,1298.6 289.1,1298.6 289.2,1295 289.7,1293.2 290.3,1303.7 290.9,1299.5 291,1303 291.5,1309.8 292.1,1309.8 292.7,1321.9 293.3,1319.6 293.9,1333.8 294,1330 294.5,1336.8 295.1,1331.7 295.7,1340.9 296.3,1343.8 296.9,1351.5 297,1345 297.5,1332.5 298.1,1365.4 298.7,1337 299.3,1334 299.9,1331.7 300.5,1352.1 301.1,1331.9 301.7,1352.6 302.3,1338.6 302.9,1355.1 303.5,1335.3 304.1,1351.7 304.7,1357.6 305.3,1335.4 305.9,1357.8 306.5,1357 307.1,1354.9 307.7,1336.8 308.3,1333.9 308.9,1336.6 309.5,1356.6 310.1,1337.4 310.7,1356 311.3,1334 311.9,1356.1 312.5,1336.5 313.1,1353.8 313.7,1358.5 314.3,1334.7 314.9,1366.3 315.5,1334.9 316.1,1352.1 316.7,1356.2 317.3,1333.7 317.9,1352.6 318.5,1336 319.1,1319.5 319.7,1365.4 320.3,1333.7 320.9,1332.8 321.5,1352.5 322.1,1327.1 322.7,1338.1 323.3,1356.1 323.9,1331.6 324.5,1356.5 325.1,1334.2 325.7,1353.2 326.3,1336.4 326.9,1352.6 327.5,1334.5 328.1,1355.6 328.7,1333.7 329.3,1361.3 329.9,1334.6 330.5,1353.3 331.1,1334.7 331.7,1353 332.3,1336.6 332.9,1358.6 333.5,1338.5 334.1,1369.9 334.7,1337.3 335.3,1337.6 335.5,1340 335.9,1325.4 336.5,1319.4 337,1300 337.1,1301.6 337.7,1290.1 337.8,1293 338.3,1294.9 338.9,1307.4 339.5,1310 339.5,1310 340.1,1312.4 340.7,1325.7 341.3,1324.2 341.9,1338.3 342,1335 342.5,1361.9 343.1,1331.5 343.7,1359.3 344.3,1328.1 344.9,1345.9 345.5,1313.7 346.1,1327.3 346.7,1359.3 347.3,1326.1 347.9,1352.2 348.5,1326.4 349.1,1348.2 349.7,1325.7 350.3,1330.3 350.9,1348.9 351.5,1332 352.1,1348.6 352.7,1323.2 353.3,1345 353.9,1331.4 354.5,1350.8 355.1,1328.4 355.7,1350.4 356.3,1326.8 356.9,1350.1 357.5,1351 358.1,1348.5 358.7,1322.9 359.3,1350.9 359.9,1331.1 360.5,1345.6 361.1,1327.3 361.7,1346.8 362.3,1330.5 362.9,1347.6 363.5,1332.9 364.1,1347.4 364.7,1329.4 364.8,1338 365.3,1326.5 365.7,1310 365.9,1319.2 366.5,1328.8 366.6,1338 367.1,1334.8 367.7,1342.5 368.3,1346.7 368.9,1337.5 369.5,1346.1 370.1,1339.7 370.7,1347.5 371.1,1345 371.3,1357.3 371.9,1382.8 372,1385 372.5,1365.5 372.9,1345 373.1,1345 373.7,1328.2 374.3,1345.6 374.9,1330.3 375.5,1346.6 376.1,1333.1 376.7,1346.5 377.3,1327.9 377.9,1346.2 378.5,1318.9 379.1,1346 379.7,1330 380.3,1344.9 380.9,1329.6 381.5,1331.9 382.1,1359.7 382.7,1329.1 383.3,1349.2 383.9,1331 384.5,1347.8 385.1,1329.7 385.7,1344.8 386.3,1328.4 386.9,1334 387.5,1339.6 387.5,1338 388.1,1320.5 388.7,1292.4 389.2,1283 389.3,1279.8 389.9,1288.3 390.5,1280.3 391.1,1285.4 391.7,1279.8 391.8,1283 392.3,1293.6 392.9,1295.7 393.5,1310.5 394,1315 394.1,1318.2 394.7,1319.7 395.3,1323 395.9,1335 396.5,1336.4 397,1343 397.1,1337.1 397.7,1349.8 398.3,1337.1 398.9,1350.7 399.5,1326.6 400.1,1350.4 400.7,1347.5 401.3,1334.5 401.9,1347.5 402.5,1337.6 403.1,1348.4 403.7,1337.6 404.3,1349.3 404.9,1337.9 405.5,1337.6 406.1,1348.5 406.7,1338.5 407.3,1350.3 407.9,1338.4 408.5,1348 409.1,1349.4 409.7,1334.7 410.3,1351.2 410.9,1350.3 411.5,1352.2 412.1,1336 412.7,1351.8 413.3,1335.5 413.9,1357.6 414.5,1330.6 415.1,1351.5 415.7,1334.9 416.3,1350.8 416.9,1336.7 417.5,1348.9 418.1,1335.4 418.7,1338.7 419.3,1351.1 419.9,1336.9 420.5,1351.6 421.1,1336.9 421.7,1337.6 422.3,1353.2 422.9,1338.8 423.5,1338.1 424.1,1348.9 424.7,1337.5 425.3,1339.4 425.9,1349.8 426.5,1349.7 427.1,1338 427.7,1358.6 428.3,1340.4 428.9,1353.4 429.5,1351.3 430.1,1337.8 430.7,1336 431.3,1351 431.9,1339.1 432.5,1350.7 433.1,1336 433.7,1353.4 434.3,1351.2 434.9,1338 435.5,1351.6 436.1,1338.6 436.7,1336.3 437.3,1354.6 437.9,1338.5 438.5,1349.9 439.1,1338.2 439.7,1352.5 440.3,1337.5 440.9,1336.9 441.4,1345 441.5,1338.8 442.1,1325.6 442.3,1317 442.7,1328.5 443.3,1328.6 443.5,1333 443.9,1332.8 444.5,1337 445.1,1347.3 445.7,1345 446,1350 446.3,1365.3 446.9,1352.8 447.5,1374.6 448.1,1359.8 448.7,1380.8 449.3,1363.4 449.9,1381.4 450.5,1357.5 451.1,1366.4 451.7,1379.2 452.3,1353.5 452.9,1384.5 453.5,1363.1 454.1,1382.2 454.7,1352.3 455.3,1385.3 455.9,1367.6 456.5,1365 457.1,1384.9 457.7,1366 458.3,1380.8 458.9,1367.8 459.5,1383.7 460.1,1366.1 460.7,1364.6 461.3,1385 461.9,1363.8 462.5,1386 463.1,1355.3 463.7,1382.1 464.3,1364.8 464.9,1396.3 465.5,1365.8 466.1,1393.3 466.7,1365.5 467.3,1383.9 467.9,1350.1 468.5,1383.1 469.1,1366.7 469.7,1380.4 470.3,1366.3 470.9,1385 471.5,1365 472.1,1362.2 472.7,1361.7 473.3,1381.5 473.9,1361.3 474.5,1378.7 475.1,1365.4 475.7,1379.9 476.3,1363.8 476.9,1377.7 477.5,1361.6 478.1,1359.4 478.7,1395.5 479.3,1360.8 479.9,1377.6 480.5,1361.3 481.1,1377.2 481.7,1361.1 482.3,1374.9 482.9,1360.9 483.5,1374.7 484.1,1359.4 484.7,1378.1 485.3,1372.8 485.9,1353.5 486.5,1372.2 487.1,1352.1 487.7,1357.9 488.3,1372.4 488.9,1355.1 489.5,1375.4 490.1,1355.1 490.7,1373.5 491.3,1352.5 491.9,1373.4 492.5,1371.8 493.1,1352.5 493.5,1355 493.7,1348.3 494.3,1340.4 494.9,1320.1 495.5,1306.9 495.6,1308 496.1,1305.3 496.7,1306.5 497.3,1312.1 497.4,1310 497.9,1317.7 498.5,1318.3 499.1,1330.1 499.7,1328.4 500,1335 500.3,1339.2 500.9,1343.5 501.5,1338.7 502.1,1343.1 502.7,1351.3 503,1350 503.3,1355.3 503.9,1341.6 504.5,1355.2 505.1,1339.7 505.7,1358.9 506.3,1359.6 506.9,1337.1 507.5,1357.8 508.1,1337.6 508.7,1356 509.3,1338.5 509.9,1355.1 510.5,1337.2 511.1,1360.8 511.7,1337.1 512.3,1355.8 512.9,1338.5 513.5,1341.8 514.1,1355.3 514.7,1356 515.3,1339.8 515.9,1359.2 516.5,1357.3 517.1,1337.9 517.7,1358.1 518.3,1355.8 518.9,1343.3 519.5,1342 520.1,1355.9 520.7,1338.9 521.3,1359.7 521.9,1340 522.5,1370.9 523.1,1367 523.7,1343.1 524.3,1354.6 524.9,1340.9 525.5,1355.4 526.1,1339.3 526.7,1360.7 527.3,1357.4 527.9,1359.7 528.5,1343.4 529.1,1359.7 529.7,1341.9 530.3,1354.4 530.9,1340.6 531.4,1350 531.5,1349.2 532,1313 532.1,1331.2 532.6,1408 532.7,1397.1 533.3,1359.6 533.4,1350 533.9,1354.8 534.5,1338.3 535.1,1358.9 535.7,1341.7 536.3,1338.7 536.9,1369.6 537.5,1332.3 538.1,1356.8 538.7,1340.2 539.3,1359.7 539.9,1339.2 540.5,1359.9 541.1,1337.5 541.7,1355.9 542.3,1339.8 542.9,1367.1 543.5,1340 544.1,1371.4 544.7,1341.6 545.3,1356.6 545.5,1345 545.9,1336.9 546.5,1313.8 547.1,1308 547.5,1290 547.7,1282.4 548.3,1267.9 548.6,1262 548.9,1267.1 549.5,1289.6 550,1300 550.1,1303.4 550.7,1301.9 551.3,1317.7 551.9,1320.4 552.5,1331.7 553,1335 553.1,1332.6 553.7,1342.8 554.3,1348.6 554.9,1347.7 555.5,1357.7 556.1,1355.4 556.5,1364 556.7,1358.9 557.3,1353.6 557.9,1339 558,1340 558.5,1324.8 559.1,1351.1 559.7,1332.9 560.3,1329.1 560.9,1341.5 561.5,1320.1 562.1,1342.3 562.7,1332.7 563.3,1322.6 563.9,1345 564.5,1343.9 565.1,1328.3 565.7,1344.1 566.3,1330.8 566.9,1341.2 567.5,1332.5 568.1,1342.5 568.7,1328.5 569.3,1347.7 569.9,1345.5 570.5,1332.7 571.1,1328.8 571.7,1330.7 572.3,1344.7 572.9,1328.5 573.5,1350.2 574.1,1328.9 574.7,1344.8 575.3,1329.1 575.9,1342 576.5,1328.1 577.1,1345.7 577.7,1328.5 578.3,1343.9 578.9,1341.7 579.5,1330.2 580.1,1344.9 580.7,1324.3 581.3,1345 581.9,1332.9 582.5,1342.4 583.1,1330.1 583.7,1341.9 584.3,1328.4 584.9,1342.6 585.5,1320.3 586.1,1344.7 586.7,1330.9 587.3,1332.1 587.9,1344.4 588.5,1328.8 589.1,1344.8 589.7,1326.6 590.3,1343.2 590.9,1332.5 591.5,1341.6 592.1,1329.5 592.7,1329.2 593.3,1342.8 593.9,1325.4 594.5,1342.2 595.1,1342.2 595.7,1345.2 596.3,1332.8 596.9,1343.7 597.5,1337 597.5,1338 598.1,1322.7 598.7,1314.5 599.3,1301.9 599.9,1287 599.9,1287 600.5,1287.2 601.1,1295 601.7,1292.1 602,1298 602.3,1295.8 602.9,1299.6 603.5,1312.8 604.1,1311.7 604.7,1322.1 605.3,1322.3 605.9,1332.2 606,1330 606.5,1335.3 607.1,1331.9 607.7,1338.6 608.3,1334.9 608.9,1342.9 609.5,1340.1 610,1345 610.1,1331 610.7,1351.1 611.3,1334.6 611.9,1357.9 612.5,1334.2 613.1,1348.4 613.7,1336.2 614.3,1349.5 614.9,1334.4 615.5,1353.7 616.1,1331 616.7,1354.6 617.3,1326.6 617.9,1352.5 618.5,1336.2 619.1,1355.8 619.7,1356.9 620.3,1337.6 620.9,1339.3 621.5,1354.2 622.1,1338.7 622.7,1361.1 623.3,1340.6 623.9,1358.2 624.5,1344.2 625.1,1359.7 625.7,1345.1 626.3,1360.9 626.9,1335.5 627.5,1359.5 628.1,1346.7 628.7,1365.9 629.3,1336.1 629.9,1366.4 630.5,1348.7 631.1,1364.5 631.7,1347.8 632.3,1366.1 632.9,1351.3 633.5,1375.6 634.1,1351.4 634.7,1367.5 635.2,1350 635.3,1345.7 635.9,1297.7 636.1,1288 636.5,1312 637,1350 637.1,1356.9 637.7,1380.6 638,1389 638.3,1384.4 638.9,1359.9 639,1360 639.5,1351.3 640.1,1372.4 640.7,1353.9 641.3,1353.2 641.9,1368.1 642.5,1351.1 643.1,1373.1 643.7,1352.9 644.3,1368.8 644.9,1352.4 645.5,1371.5 646.1,1355 646.7,1370.2 647.3,1357.2 647.9,1371.7 648.5,1354.7 649.1,1370.3 649.7,1353.2 650.3,1372.9 650.9,1372.8 651.5,1352.1 652.1,1375.8 652.7,1358.5 653.3,1371.5 653.5,1355 653.9,1351.1 654.5,1334.2 655.1,1331.1 655.7,1318 655.7,1318 656.3,1314.5 656.9,1325.8 657.5,1321.1 658,1325 658.1,1321.9 658.7,1326.8 659.3,1341.6 659.9,1337.9 660.5,1348.7 661,1350 661.1,1375.5 661.7,1352 662.3,1373 662.9,1357.5 663.5,1357.7 664.1,1379.9 664.7,1357.5 665.3,1369.5 665.9,1354.3 666.5,1356.4 667.1,1351.6 667.7,1373.1 668.3,1351.4 668.9,1353.5 669.5,1370.7 670.1,1351.4 670.7,1372.6 671.3,1351.6 671.9,1350.2 672.5,1375 673.1,1354.6 673.7,1371.4 674.3,1351.9 674.9,1350.9 675.5,1370.3 676.1,1350.3 676.7,1366.9 677.3,1368.2 677.9,1352.5 678.5,1366 679.1,1353.3 679.7,1369.6 680.3,1370.4 680.9,1347.8 681.5,1369.6 682.1,1350.9 682.7,1379.8 683.3,1369.4 683.9,1344.3 684.5,1349.7 685.1,1351 685.7,1370.5 686.3,1350.6 686.9,1376.1 687.5,1348.8 688.1,1369.9 688.7,1352.8 689.3,1369.9 689.9,1353.6 690.5,1370.2 691.1,1348.8 691.7,1373.7 692.3,1348.8 692.9,1371.3 693.5,1352.2 694.1,1352.9 694.7,1365.4 695.3,1369.3 695.9,1349.7 696.5,1377.3 697.1,1350.2 697.7,1366.9 698.3,1348.2 698.9,1380.4 699.5,1366 700.1,1347.2 700.7,1343 701.3,1348.5 701.9,1374.8 702.5,1376 703.1,1348.7 703.7,1368 704.3,1353.6 704.9,1370.8 705.5,1351.1 706.1,1366.7 706.7,1347.6 707.3,1365.4 707.5,1355 707.9,1348.2 708.5,1328.9 709.1,1325.1 709.5,1310 709.7,1312.5 710.3,1308.1 710.9,1307.8 711.5,1310 711.5,1310 712.1,1318.4 712.7,1325.2 713.3,1326.2 713.9,1336.2 714,1335 714.5,1340.7 715.1,1345.1 715.7,1341.7 716.3,1352.9 716.9,1353.3 717,1352 717.5,1355.1 718.1,1344.1 718.7,1359.8 719.3,1346.3 719.9,1356.3 720.5,1344.9 721.1,1358.8 721.7,1342.5 722.3,1356.9 722.9,1346.4 723.5,1359.3 724.1,1346.4 724.7,1358.6 725.3,1334 725.9,1359 726.5,1343.2 727.1,1356.4 727.7,1342.8 728.3,1344.4 728.9,1345.3 729.5,1358.4 730.1,1356 730.7,1359.9 731.3,1342.8 731.9,1356.6 732.5,1343.4 733.1,1345.5 733.7,1362.8 734.3,1344.8 734.9,1358.5 735.5,1343 736.1,1343.2 736.7,1359.4 737.3,1342.6 737.9,1360 738.5,1342.5 739.1,1365.9 739.7,1344.5 740.3,1357.3 740.9,1345.1 741.5,1343.6" fill="none" stroke="#0000ff" stroke-width="3.2" stroke-linejoin="round" stroke-linecap="round"/>
<rect x="105" y="1573.6" width="637" height="171.8" fill="none" stroke="#1e1e1e" stroke-width="1.5"/>
<path d="M105 1745.4v-6.5M105 1573.6v6.5M317.3 1745.4v-6.5M317.3 1573.6v6.5M529.7 1745.4v-6.5M529.7 1573.6v6.5M742 1745.4v-6.5M742 1573.6v6.5M105 1573.6h6.5M742 1573.6h-6.5M105 1659.5h6.5M742 1659.5h-6.5M105 1745.4h6.5M742 1745.4h-6.5" stroke="#1e1e1e" stroke-width="1.5" fill="none"/>
<text x="105" y="1793.6" text-anchor="middle" class="t">370500</text>
<text x="317.3" y="1793.6" text-anchor="middle" class="t">371500</text>
<text x="529.7" y="1793.6" text-anchor="middle" class="t">372500</text>
<text x="742" y="1793.6" text-anchor="middle" class="t">373500</text>
<text x="90.2" y="1586.9" text-anchor="end" class="t">200</text>
<text x="90.2" y="1672.8" text-anchor="end" class="t">0</text>
<text x="90.2" y="1758.7" text-anchor="end" class="t">-200</text>
<polyline points="105.3,1694 106.8,1694.3 108.3,1694.7 109.8,1694.6 112,1695 120,1699 121.5,1699 123,1699.3 124.5,1699.3 126,1699.2 127.5,1698.2 129,1698.7 130.5,1698.8 132,1699.4 133.5,1699 135,1698.8 136.5,1699.2 138,1699.2 139.5,1698.4 141,1699.3 142.5,1698.8 144,1699.1 145.5,1699.3 147,1698.5 148.5,1699.7 150,1698.4 151.5,1699.5 153,1699.4 154.5,1698.9 156,1699.7 157.5,1698.7 159,1698.2 160.5,1699 162,1698.5 163.5,1699 165,1699.1 166.5,1699.8 168,1698.9 169.5,1699.1 171,1699.4 172.5,1699.4 174,1698.9 175.5,1699.5 177,1698.4 178.5,1698.7 180,1698.6 181.5,1698.8 183,1699.3 184.5,1699 186,1699.5 187.5,1698.3 189,1698.7 190.5,1699.4 192,1698.9 193.5,1698.8 195,1697.9 196.5,1699.3 198,1698.4 199.5,1699.2 201,1698.4 202.5,1698.7 204,1699.8 205.5,1698.4 207,1698.5 208.5,1698.9 210,1698 211.5,1699 213,1699 214.5,1698.8 216,1698.5 217.5,1698.9 219,1698.6 220.5,1698.8 222,1698.5 223.5,1699.3 225,1698.8 226.5,1699.5 228,1698.5 229.5,1698.8 231,1698.6 232.5,1699.2 234,1699.6 235.5,1699.4 237,1699.9 238.5,1699.3 240,1698.1 241.5,1699.1 243,1699.6 244.5,1699.4 246,1699 247.5,1699.1 249,1699.1 250.5,1698 252,1698.5 253.5,1699.3 255,1699.6 256.5,1698.6 258,1698.7 259.5,1699.2 261,1699.2 262.5,1698.9 264,1698.6 265.5,1699.4 267,1699.5 268.5,1698.2 270,1698.2 271.5,1699.3 273,1699.1 274.5,1698.5 276,1698.8 277.5,1699.1 279,1699.6 280.5,1699.3 282,1699.3 283.5,1699.4 285,1699.1 286.5,1699 288,1698.9 289.5,1699.4 291,1698.7 292.5,1698.3 294,1699.5 295.5,1699.3 297,1700.3 298.5,1699.5 300,1698.8 301.5,1698.7 303,1700 304.5,1699.4 306,1698.2 307.5,1698.7 309,1699 310.5,1699.6 312,1698.7 313.5,1697.8 315,1699.3 316.5,1698.2 318,1698.8 319.5,1698 321,1698.7 322.5,1699 324,1698 325.5,1698.4 327,1699.2 328.5,1698.7 330,1699.4 331.5,1698.6 333,1698.4 334.5,1698.4 336,1699.3 337.5,1699.5 339,1699.1 340.5,1699.4 342,1699.4 343.5,1698.3 345,1698.5 346.5,1698.9 348,1699.1 349.5,1699.1 351,1698.9 352.5,1698.7 354,1699 355.5,1699.1 357,1698.8 358.5,1699.3 360,1698.8 361.5,1698.9 363,1699.1 364.5,1698.7 366,1699.8 367.5,1698.5 369,1699.3 370.8,1699 375.6,1735.5 376.2,1582 378.3,1582 379.1,1589 380.3,1582 381.3,1735 382.1,1735 382.9,1582 384.6,1735 385.4,1582 387.8,1582 392.7,1624 395.5,1625 398.5,1620 401.6,1619 403.1,1618.2 404.6,1618.9 406.1,1618.5 407.6,1618.7 409.1,1619.9 410.6,1618.8 412.1,1619.1 413.6,1618.7 415.1,1619.9 416.6,1620.5 418.1,1618.4 419.6,1618.1 421.1,1618.5 422.6,1619.6 424.1,1618.9 425.6,1617.8 427.1,1618.3 428.6,1619.1 430.1,1618.9 431.6,1619.8 433.1,1619.1 434.6,1618.8 436.1,1618.7 437.6,1618.6 439.1,1618.4 440.6,1618.9 442.1,1619.4 443.6,1618.6 445.1,1618.8 446.6,1619.1 448.1,1619.7 449.6,1619.1 451.1,1619.1 452.6,1619.4 454.1,1619.1 455.6,1619.1 457.1,1618.8 458.6,1619.7 460.1,1619.1 461.6,1618.6 463.1,1619.3 464.6,1619.1 466.1,1618.2 467.6,1619.1 469.1,1618.6 470.6,1618.8 472.1,1619.4 473.6,1619.5 475.1,1619.4 476.6,1619.1 478.1,1619.7 479.6,1618.4 481.1,1619.8 482.6,1619.5 484.1,1618.7 485.6,1618.1 487.1,1619.1 488.6,1619 490.1,1618.5 491.6,1618.6 493.1,1619.3 494.6,1619.3 496.1,1618.9 497.6,1619.3 499.1,1619 500.6,1618.2 502.1,1618.4 503.6,1619.1 505.1,1618.8 506.6,1619.1 508.1,1619.4 509.6,1618.4 511.1,1618.3 512.6,1619.2 514.1,1619 515.6,1619.1 517.1,1619.2 518.6,1620.8 520.1,1619 521.6,1619.1 523.1,1618.8 524.6,1618.7 526.1,1618.6 527.6,1619.6 529.1,1619.5 530.6,1618.4 532.1,1617.9 533.6,1619.5 535.1,1619.5 536.6,1618.8 538.1,1619.1 539.6,1619.1 541.1,1618.6 542.6,1618.4 544.1,1619.2 545.6,1619.5 547.1,1619.1 548.6,1619.7 550.1,1619.1 551.6,1618.6 553.1,1619.3 554.6,1618.8 556.1,1618.6 557.6,1619.4 559.1,1619.3 560.6,1618.6 562.1,1618.7 563.6,1619 565.1,1618.1 566.6,1618.8 568.1,1618.4 569.6,1618.9 571.1,1618.5 572.6,1619.3 574.1,1617.9 575.6,1620.1 577.1,1617.9 578.6,1619.9 580.1,1619 581.6,1618.6 583.1,1620.5 584.6,1618.8 586.1,1619.1 587.6,1618.3 589.1,1618.7 590.6,1618.7 592.1,1619.3 593.6,1619.3 595.1,1619.7 596.6,1618.9 598.1,1618.9 599.6,1618 601.1,1619.5 602.6,1618.5 604.1,1618.3 605.6,1619.9 607.1,1618.6 608.6,1618.3 610.1,1618.6 611.6,1618.7 613.1,1618.6 614.6,1619.3 616.1,1618.9 617.6,1619.7 619.1,1619.2 620.6,1619.4 622.1,1618 623.6,1618.5 625.1,1619.1 626.6,1618.7 628.1,1618.9 629.6,1618.9 631.1,1619.3 632.6,1618.9 634.1,1618.8 635.6,1618.5 637.1,1619.2 638,1619 641.8,1582 642.6,1735 645,1728 647,1728 650.9,1582 651.6,1582 652.3,1735 654.2,1735 659.8,1693 661.3,1693.4 662.8,1693.1 664.3,1692.7 665.5,1693 670,1698 671.5,1697.7 673,1698.7 674.5,1698.2 676,1697.9 677.5,1698.1 679,1698.1 680.5,1698.3 682,1698.3 683.5,1696.8 685,1697.6 686.5,1698.1 688,1698.1 689.5,1697.6 691,1698.3 692.5,1698 694,1698 695.5,1697.5 697,1698.5 698.5,1698.7 700,1698 701.5,1698.4 703,1697.6 704.5,1697.8 706,1697.2 707.5,1697.5 709,1698.1 710.5,1697.3 712,1698.6 713.5,1698.6 715,1698 716.5,1698.5 718,1697.6 719.5,1697.5 721,1697.2 722.5,1698.2 724,1697.8 725.5,1699.1 727,1698.7 728.5,1698.1 730,1698 731.5,1698.2 733,1697.3 734.5,1698.2 736,1699 737.5,1697.9 739,1697.6 740.5,1698.3 741.8,1698" fill="none" stroke="#0000ff" stroke-width="3.4" stroke-linejoin="round" stroke-linecap="round"/>
<rect x="105" y="1806.2" width="637" height="173.5" fill="none" stroke="#1e1e1e" stroke-width="1.5"/>
<path d="M105 1979.7v-6.5M105 1806.2v6.5M317.3 1979.7v-6.5M317.3 1806.2v6.5M529.7 1979.7v-6.5M529.7 1806.2v6.5M742 1979.7v-6.5M742 1806.2v6.5M105 1806.2h6.5M742 1806.2h-6.5M105 1893h6.5M742 1893h-6.5M105 1979.7h6.5M742 1979.7h-6.5" stroke="#1e1e1e" stroke-width="1.5" fill="none"/>
<text x="105" y="2027.9" text-anchor="middle" class="t">370500</text>
<text x="317.3" y="2027.9" text-anchor="middle" class="t">371500</text>
<text x="529.7" y="2027.9" text-anchor="middle" class="t">372500</text>
<text x="742" y="2027.9" text-anchor="middle" class="t">373500</text>
<text x="90.2" y="1819.5" text-anchor="end" class="t">5</text>
<text x="90.2" y="1906.3" text-anchor="end" class="t">0</text>
<text x="90.2" y="1993" text-anchor="end" class="t">-5</text>
<polyline points="105.5,1887.6 106.1,1899.6 106.7,1888.2 107.3,1902.1 107.9,1883.6 108.5,1901.3 109.1,1887.7 109.7,1898.3 110.3,1897.5 110.9,1883.9 111.5,1897.9 112.1,1887.3 112.7,1887.9 113.3,1897.9 113.9,1901.3 114.5,1887.2 115.1,1898.8 115.7,1888.3 116.3,1898.1 116.9,1901.1 117.5,1887.4 118.1,1900.5 118.7,1888.4 119.3,1909.8 119.9,1883.5 120.5,1904.5 121.1,1888.6 121.7,1905.4 122.3,1885.3 122.9,1899.2 123.5,1888.6 124.1,1898.9 124.7,1886.6 125.3,1899.7 125.9,1885.7 126.5,1898.9 127.1,1884.5 127.7,1899.4 128.3,1887.7 128.9,1900.3 129.5,1888.5 130.1,1898.1 130.7,1886.3 131.3,1902.3 131.9,1884.7 132.5,1899.2 133.1,1888.1 133.7,1901.9 134.3,1880 134.9,1885.6 135.5,1898.1 136.1,1888.4 136.7,1898.9 137.3,1887.1 137.9,1897.4 138.5,1885.4 139.1,1887.8 139.7,1897.3 140.3,1883.9 140.9,1898 141.5,1875.8 142.1,1905.5 142.7,1888.3 143.3,1897.8 143.9,1885.7 144.5,1901.6 145.1,1886.1 145.7,1899.5 146.3,1902.2 146.9,1899.9 147.5,1886.3 148.1,1885.4 148.7,1898.6 149.3,1885.4 149.9,1900.9 150.5,1885 151.1,1900.6 151.7,1884.7 152.3,1897.3 152.9,1884.6 153.5,1898.7 154.1,1886.4 154.7,1902 155.3,1900.4 155.9,1886.7 156.5,1900.8 157.1,1877.5 157.7,1897.9 158.3,1904.2 158.9,1901.1 159.5,1887.9 160.1,1910.3 160.7,1898.3 161.3,1885.8 161.9,1898.4 162.5,1883.5 163.1,1897.6 163.7,1899.6 164.3,1877.7 164.9,1887.5 165.5,1897.6 166.1,1879.8 166.7,1902.3 167.3,1898.7 167.9,1884.8 168.5,1901.3 169.1,1885.8 169.7,1902 170.3,1901.4 170.9,1886.3 171.5,1902.1 172.1,1885 172.7,1910.7 173.3,1884.6 173.9,1899.2 174.5,1887.2 175.1,1898.6 175.7,1887.7 176.3,1901.1 176.9,1884.7 177.5,1901 178.1,1888.3 178.7,1909.5 179.3,1886.1 179.9,1900 180.5,1886.4 181.1,1899.6 181.7,1886.1 182.3,1897.6 182.9,1884.4 183.5,1898.6 184.1,1897.5 184.7,1887.2 185.3,1900.9 185.9,1887.1 186.5,1902.4 187.1,1883.8 187.7,1897.6 188.3,1885.5 188.9,1900.9 189.5,1885.3 190.1,1909 190.7,1899.4 191.3,1901.2 191.9,1886.2 192.5,1902.4 193.1,1886.8 193.7,1898.1 194.3,1902.3 194.9,1885.6 195.5,1885.7 196.1,1900.2 196.7,1886.6 197.3,1901.6 197.9,1887 198.5,1898.6 199.1,1902.4 199.7,1876.1 200.3,1897.8 200.9,1885 201.5,1902 202.1,1885.3 202.7,1900.2 203.3,1887.8 203.9,1897.3 204.5,1898.6 205.1,1885.5 205.7,1900.9 206.3,1887.7 206.9,1902 207.5,1885.3 208.1,1899.9 208.7,1886 209.3,1900 209.9,1899.2 210.5,1887 211.1,1898 211.7,1888.7 212.3,1888 212.9,1900.8 213.5,1887.4 214.1,1899.5 214.7,1885.2 215.3,1907 215.9,1884.8 216.5,1899.4 217.1,1884.3 217.7,1887.7 218.3,1899.7 218.9,1884.7 219.5,1900 220.1,1877.7 220.7,1897.8 221.3,1886.4 221.9,1898.9 222.5,1884.1 223.1,1898.5 223.7,1887.8 224.3,1899.3 224.9,1888.2 225.5,1898 226.1,1898.8 226.7,1888.1 227.3,1885.1 227.9,1902.4 228.5,1884.5 229.1,1886.6 229.7,1887.4 230.3,1897.6 230.9,1902.1 231.5,1886.4 232.1,1885 232.7,1898.2 233.3,1883.8 233.9,1899.8 234.5,1884.3 235.1,1901.2 235.7,1879.4 236.3,1902.4 236.9,1884.5 237.5,1885.9 238.1,1899.4 238.7,1888.5 239.3,1897.5 239.9,1884.5 240.5,1897.4 241.1,1897.7 241.7,1880.3 242.3,1897.7 242.9,1886.1 243.5,1901.8 244.1,1886.3 244.7,1901.4 245.3,1899.1 245.9,1885.4 246.5,1901.1 247.1,1897.4 247.7,1888.2 248.3,1898.8 248.9,1885 249.5,1898.2 250.1,1907 250.7,1887.9 251.3,1900.7 251.9,1885.9 252.5,1900.6 253.1,1886.3 253.7,1901.1 254.3,1897.9 254.9,1887.3 255.5,1898.6 256.1,1884.5 256.7,1900.5 257.3,1886.4 257.9,1900.2 258.5,1883.9 259.1,1886.6 259.7,1897.6 260.3,1888.2 260.9,1897.6 261.5,1886.3 262.1,1901.9 262.7,1883.6 263.3,1901.3 263.9,1900.6 264.5,1885.7 265.1,1902.3 265.7,1876.7 266.3,1905.5 266.9,1875.4 267.5,1897.5 268.1,1880.7 268.7,1897.3 269.3,1899.5 269.9,1885 270.5,1905.4 271.1,1887.8 271.7,1902.2 272.3,1886.1 272.9,1900.9 273.5,1886.1 274.1,1901.5 274.7,1884.8 275.3,1897.5 275.9,1884.6 276.5,1899.4 277.1,1888.6 277.7,1908.4 278.3,1888.4 278.9,1898.7 279.5,1886.1 280.1,1898.6 280.7,1881.9 281.3,1879.9 281.9,1901.5 282.5,1887 283.1,1898.9 283.7,1898.6 284.3,1887.3 284.9,1906.6 285.5,1887.3 286.1,1900.9 286.7,1885 287.3,1883.5 287.9,1908.3 288.5,1885.1 289.1,1901.2 289.7,1888.2 290.3,1908.7 290.9,1885.4 291.5,1885.9 292.1,1898.7 292.7,1901.7 293.3,1887.3 293.9,1901.2 294.5,1899.4 295.1,1886.1 295.7,1900.1 296.3,1901.8 296.9,1885 297.5,1901.9 298.1,1887.4 298.7,1900 299.3,1879 299.9,1900.7 300.5,1886 301.1,1902.2 301.7,1887.2 302.3,1908.3 302.9,1886.3 303.5,1897.8 304.1,1884.5 304.7,1888.5 305.3,1898 305.9,1885 306.5,1900.3 307.1,1886.9 307.7,1884.4 308.3,1900.4 308.9,1885.3 309.5,1900.9 310.1,1885.8 310.7,1885.3 311.3,1897.9 311.9,1885.4 312.5,1901.8 313.1,1886.4 313.7,1897.9 314.3,1883.5 314.9,1899.7 315.5,1884.6 316.1,1900.6 316.7,1886.5 317.3,1899.9 317.9,1886.4 318.5,1902 319.1,1884.1 319.7,1898.3 320.3,1883.9 320.9,1897.6 321.5,1901.5 322.1,1887.9 322.7,1901.8 323.3,1880.7 323.9,1904.9 324.5,1886.9 325.1,1902 325.7,1885.4 326.3,1897.9 326.9,1886.4 327.5,1898.5 328.1,1898.4 328.7,1886.2 329.3,1899.1 329.9,1884.8 330.5,1885 331.1,1898.2 331.7,1888.7 332.3,1904.4 332.9,1884.4 333.5,1886.4 334.1,1902.4 334.7,1887.6 335.3,1899.8 335.9,1886.1 336.5,1901.7 337.1,1884.8 337.7,1899.1 338.3,1886.1 338.9,1900.6 339.5,1877.8 340.1,1897.7 340.7,1887 341.3,1887.3 341.9,1899.3 342.5,1887.8 343.1,1900.4 343.7,1883.5 344.3,1885.5 344.9,1908.6 345.5,1886.9 346.1,1899 346.7,1897.5 347.3,1887.9 347.9,1902.4 348.5,1884.6 349.1,1901.3 349.7,1884.9 350.3,1886 350.9,1900.7 351.5,1905.3 352.1,1901.7 352.7,1888.5 353.3,1909.9 353.9,1883.7 354.5,1899.3 355.1,1884.3 355.7,1898 356.3,1886.1 356.9,1899.4 357.5,1902.2 358.1,1886.4 358.7,1885.8 359.3,1898.8 359.9,1875.2 360.5,1898.4 361.1,1875.4 361.7,1897.8 362.3,1885.4 362.9,1901.3 363.5,1898 364.1,1898.6 364.7,1884.7 365.3,1886.2 365.9,1901.5 366.5,1885.9 367.1,1901.4 367.7,1905.1 368.3,1885.5 368.9,1900.4 369.5,1893 369.5,1890 370.1,1866.7 370.7,1848.8 371,1835 371.3,1829.7 371.9,1829.8 372.5,1822 372.5,1822 373.1,1819.8 373.7,1824 374.3,1820.8 374.9,1825.3 375,1823 375.5,1834.1 376.1,1837.3 376.7,1850 377.3,1854.3 377.5,1860 377.9,1865.8 378.5,1876.6 379.1,1890.7 379.7,1897.4 380,1905 380.3,1905 380.9,1911.1 381.5,1910.7 382.1,1917.2 382.3,1916 382.7,1908.9 383.3,1905.6 383.9,1894.4 384,1895 384.5,1877.7 385.1,1863.7 385.7,1841.6 386.3,1827.2 386.4,1822 386.9,1826.2 387.5,1818.7 388.1,1823.3 388.7,1818.4 389,1820 389.3,1819.2 389.9,1821 390.5,1822.4 391.1,1831 391.6,1828 391.7,1832.7 392.3,1847.4 392.9,1868.3 393,1870 393.5,1881.9 394.1,1885.2 394.5,1893 394.7,1885.6 395.3,1886.1 395.9,1898.5 396.5,1886.3 397.1,1899.6 397.7,1886.2 398.3,1899.9 398.9,1898.3 399.5,1901.1 400.1,1887.3 400.7,1897.9 401.3,1884.8 401.9,1899.5 402.5,1884.7 403.1,1905.5 403.7,1886.5 404.3,1901 404.9,1883.9 405.5,1885.5 406.1,1901.9 406.7,1878.2 407.3,1885.7 407.9,1900.2 408.5,1887.5 409.1,1899.1 409.7,1883.9 410.3,1899.8 410.9,1886.5 411.5,1899.3 412.1,1899.2 412.7,1883.8 413.3,1887.6 413.9,1900 414.5,1886.8 415.1,1900.8 415.7,1901.3 416.3,1888.5 416.9,1898.2 417.5,1888.7 418.1,1899.4 418.7,1886.6 419.3,1898.7 419.9,1886 420.5,1901 421.1,1884.6 421.7,1901.4 422.3,1898.2 422.9,1886.8 423.5,1909.9 424.1,1884.6 424.7,1901.3 425.3,1885.2 425.9,1899 426.5,1886.3 427.1,1898.7 427.7,1901.9 428.3,1900.6 428.9,1880.6 429.5,1884.3 430.1,1898.4 430.7,1887.9 431.3,1900.9 431.9,1883.8 432.5,1899.3 433.1,1887.2 433.7,1900.7 434.3,1887.9 434.9,1884.5 435.5,1901.8 436.1,1883.5 436.7,1898.9 437.3,1883.7 437.9,1899.9 438.5,1884.8 439.1,1901.1 439.7,1884.5 440.3,1898 440.9,1887.1 441.5,1888.5 442.1,1899.2 442.7,1884.7 443.3,1901 443.9,1901.9 444.5,1884.9 445.1,1900 445.7,1884.7 446.3,1899 446.9,1886 447.5,1884.3 448.1,1899.1 448.7,1884.2 449.3,1898.1 449.9,1884.8 450.5,1898.6 451.1,1876.5 451.7,1900.6 452.3,1883.9 452.9,1899.7 453.5,1888.4 454.1,1901.6 454.7,1909.8 455.3,1897.4 455.9,1886.9 456.5,1900 457.1,1888.2 457.7,1901.5 458.3,1884.7 458.9,1900 459.5,1886.5 460.1,1898.9 460.7,1886.7 461.3,1884.1 461.9,1897.5 462.5,1887.5 463.1,1903.9 463.7,1888 464.3,1906.9 464.9,1886.1 465.5,1901.8 466.1,1887.9 466.7,1900.2 467.3,1887.5 467.9,1902.2 468.5,1885.9 469.1,1898.1 469.7,1885.6 470.3,1908.2 470.9,1884.7 471.5,1909.4 472.1,1886.5 472.7,1900.8 473.3,1887.6 473.9,1901 474.5,1884.1 475.1,1900.2 475.7,1884.1 476.3,1902 476.9,1887 477.5,1901.8 478.1,1885.3 478.7,1901.8 479.3,1883.9 479.9,1899.2 480.5,1880.7 481.1,1888.2 481.7,1885.7 482.3,1905.1 482.9,1901.7 483.5,1887 484.1,1897.4 484.7,1878 485.3,1901.8 485.9,1884.9 486.5,1897.3 487.1,1885.2 487.7,1886.4 488.3,1901.2 488.9,1885 489.5,1886.9 490.1,1899.9 490.7,1888.5 491.3,1899.6 491.9,1887.9 492.5,1899.7 493.1,1901.8 493.7,1898.9 494.3,1883.6 494.9,1899.9 495.5,1881.1 496.1,1900.8 496.7,1887.2 497.3,1901.5 497.9,1902.2 498.5,1878.4 499.1,1900.6 499.7,1884.8 500.3,1897.7 500.9,1887.3 501.5,1901.9 502.1,1886.3 502.7,1900.4 503.3,1900.7 503.9,1884.9 504.5,1907.2 505.1,1887.7 505.7,1885.5 506.3,1902.2 506.9,1888.3 507.5,1901.7 508.1,1885.5 508.7,1899.7 509.3,1899.2 509.9,1887.7 510.5,1901.9 511.1,1887.8 511.7,1886.2 512.3,1886 512.9,1904.2 513.5,1901.5 514.1,1888.4 514.7,1902.4 515.3,1886.5 515.9,1899.5 516.5,1884.7 517.1,1901.7 517.7,1883.9 518.3,1898.6 518.9,1883.8 519.5,1900.2 520.1,1888.3 520.7,1900.9 521.3,1897.6 521.9,1883.9 522.5,1898.8 523.1,1884.1 523.7,1901.8 524.3,1886.4 524.9,1887.1 525.5,1899.2 526.1,1885.9 526.7,1884.8 527.3,1906.1 527.9,1902.4 528.5,1886.8 529.1,1898.8 529.7,1897.3 530.3,1884 530.9,1900.7 531.5,1887.2 532.1,1901.3 532.7,1886.1 533.3,1900.2 533.9,1888.7 534.5,1902.2 535.1,1887.5 535.7,1899 536.3,1884.1 536.9,1900.6 537.5,1883.7 538.1,1901.3 538.7,1885.5 539.3,1901.8 539.9,1886.3 540.5,1903.5 541.1,1877.7 541.7,1884.4 542.3,1907.4 542.9,1905.9 543.5,1885.1 544.1,1905.5 544.7,1880.6 545.3,1902.9 545.9,1876.4 546.5,1907 547.1,1876 547.7,1904.2 548.3,1883.7 548.9,1909.1 549.5,1880.1 550.1,1905.5 550.7,1883 551.2,1893 551.3,1882.3 551.9,1851 551.9,1851 552.5,1920 552.5,1920 553.1,1900.2 553.2,1893 553.7,1877.6 554.3,1909.2 554.9,1877 555.5,1918.5 556.1,1881.2 556.7,1906 557.3,1883.6 557.9,1905.2 558.5,1871.2 559.1,1878.9 559.7,1904.4 560.3,1877.7 560.9,1902.3 561.5,1867.8 562.1,1908 562.7,1904.8 563.3,1878.4 563.9,1912.8 564.5,1879.3 565.1,1908.4 565.5,1893 565.7,1905.7 566.2,1921 566.3,1921.9 566.9,1887.3 567,1893 567.5,1888.3 568.1,1897.3 568.7,1889.8 569.3,1896.5 569.8,1893 569.9,1885.3 570.5,1856 570.5,1856 571.1,1891 571.2,1893 571.7,1877.6 572.3,1901.1 572.9,1909 573.5,1905.1 574.1,1879.5 574.7,1907 575.3,1877.1 575.9,1908.7 576.5,1862.1 577.1,1903.9 577.7,1881.1 578.3,1902.4 578.9,1887.7 579.5,1900.7 580.1,1888.5 580.7,1900.3 581.3,1884.8 581.9,1904.7 582.5,1887.9 583.1,1898.3 583.7,1911 584.3,1888.7 584.9,1900.3 585.5,1886.3 586.1,1899 586.7,1884.5 587.3,1901.9 587.9,1880.1 588.5,1902.5 589.1,1904.7 589.7,1887.5 590.3,1901.1 590.9,1886.7 591.5,1901.4 592.1,1884.7 592.7,1905 593.3,1888.6 593.9,1897.8 594.5,1901.4 595.1,1886.3 595.7,1899.6 596.3,1887.1 596.9,1898.3 597.5,1886.6 598.1,1900.1 598.7,1884.4 599.3,1899.8 599.9,1885.7 600.5,1906.1 601.1,1888.2 601.7,1904.4 602.3,1884.3 602.9,1884.5 603.5,1900 604.1,1885.6 604.7,1899.1 605.3,1883.6 605.9,1900 606.5,1887.1 607.1,1899.5 607.7,1885.6 608.3,1902 608.9,1883.8 609.5,1897.4 610.1,1898.1 610.7,1883.8 611.3,1897.5 611.9,1885.5 612.5,1901.1 613.1,1901.3 613.7,1901.1 614.3,1883.8 614.9,1904.5 615.5,1888.7 616.1,1905.6 616.7,1887.6 617.3,1900.7 617.9,1884.9 618.5,1886 619.1,1904.8 619.7,1885.6 620.3,1908.4 620.9,1876.2 621.5,1899.5 622.1,1902.3 622.7,1884 623.3,1897.6 623.9,1884.1 624.5,1885.8 625.1,1899.3 625.7,1887.7 626.3,1902 626.9,1884.9 627.5,1907.4 628.1,1884.3 628.7,1905.3 629.3,1899.8 629.9,1901.8 630.5,1888.6 631.1,1884.2 631.7,1886.5 632.3,1901.5 632.9,1887.7 633.5,1897.2 634.1,1888.5 634.7,1901 635.3,1887.1 635.9,1898.3 636.5,1893 636.5,1893 637.1,1921.2 637.7,1942.3 638.2,1966 638.3,1967.9 638.9,1959.1 639.5,1958.5 640,1953 640.1,1954.4 640.7,1949.9 641.3,1953.5 641.9,1953.2 642.5,1947.7 643,1950 643.1,1950.3 643.7,1937 644.3,1932.2 644.9,1918.9 645.5,1914 646,1905 646.1,1906.3 646.7,1894.4 647.3,1891 647.9,1879.8 648.5,1876 649.1,1864.6 649.5,1862 649.7,1867 650.3,1873 650.9,1890.2 651,1890 651.5,1911.7 652.1,1930.6 652.6,1952 652.7,1954.7 653.3,1950.4 653.9,1956.8 654.5,1949.4 655.1,1954.5 655.7,1950 656,1952 656.3,1950.5 656.9,1953.4 657.5,1946.5 658.1,1952.1 658.7,1948.2 658.8,1950 659.3,1930.5 659.9,1912.7 660.2,1900 660.5,1899.7 661.1,1896.9 661.5,1893 661.7,1901.7 662.3,1888.5 662.9,1898.3 663.5,1888.8 664.1,1898.7 664.7,1885.4 665.3,1898.2 665.9,1888.3 666.2,1893 666.5,1881.1 667,1868 667.1,1869.4 667.7,1892 667.8,1893 668.3,1897.5 668.9,1899.6 669.5,1898.9 670.1,1878.9 670.7,1900.3 671.3,1886 671.9,1901.8 672.5,1899.2 673.1,1884.5 673.7,1906.4 674.3,1900.5 674.9,1885.5 675.5,1904 676.1,1886.5 676.7,1898.5 677.3,1905.3 677.9,1885.2 678.5,1899.9 679.1,1887.7 679.7,1898.8 680.3,1887 680.9,1899 681.5,1887.6 682.1,1899.5 682.7,1883.8 683.3,1900.2 683.9,1886.9 684.5,1898.5 685.1,1884.8 685.7,1900.9 686.3,1886.2 686.9,1900.8 687.5,1901.6 688.1,1887.7 688.7,1905.7 689.3,1901.9 689.9,1884.8 690.5,1902.1 691.1,1909.9 691.7,1885.4 692.3,1901.1 692.9,1885.6 693.5,1885.9 694.1,1904 694.7,1886.6 695.3,1900.4 695.9,1885.2 696.5,1885.5 697.1,1900.3 697.7,1886.8 698.3,1902 698.9,1888.5 699.5,1901.7 700.1,1886.2 700.7,1899.1 701.3,1886.5 701.9,1898 702.5,1897.2 703.1,1887.1 703.7,1898.7 704.3,1888.2 704.9,1885.1 705.5,1898 706.1,1884.5 706.7,1886.6 707.3,1900.9 707.9,1899.2 708.5,1887.5 709.1,1899.7 709.7,1885.4 710.3,1899.7 710.9,1886.4 711.5,1898 712.1,1888.3 712.7,1901.5 713.3,1884.1 713.9,1899 714.5,1886.7 715.1,1901.1 715.7,1884.9 716.3,1898.5 716.9,1886.8 717.5,1901.4 718.1,1910.2 718.7,1886 719.3,1900 719.9,1875.8 720.5,1899.5 721.1,1884.7 721.7,1907.5 722.3,1887.6 722.9,1901.1 723.5,1901 724.1,1897.8 724.7,1887.2 725.3,1900.7 725.9,1887.5 726.5,1908.8 727.1,1884.5 727.7,1900.1 728.3,1897.4 728.9,1886.6 729.5,1900.4 730.1,1880.8 730.7,1897.5 731.3,1885 731.9,1900 732.5,1897.3 733.1,1887.3 733.7,1908.9 734.3,1885.5 734.9,1884.9 735.5,1897.8 736.1,1886.6 736.7,1900.7 737.3,1888.5 737.9,1901.7 738.5,1884.8 739.1,1887 739.7,1901.7 740.3,1882.2 740.9,1897.8 741.5,1897.1" fill="none" stroke="#0000ff" stroke-width="3.2" stroke-linejoin="round" stroke-linecap="round"/>
<rect x="105" y="2040.8" width="637" height="173.7" fill="none" stroke="#1e1e1e" stroke-width="1.5"/>
<path d="M105 2214.5v-6.5M105 2040.8v6.5M317.3 2214.5v-6.5M317.3 2040.8v6.5M529.7 2214.5v-6.5M529.7 2040.8v6.5M742 2214.5v-6.5M742 2040.8v6.5M105 2040.8h6.5M742 2040.8h-6.5M105 2127.6h6.5M742 2127.6h-6.5M105 2214.5h6.5M742 2214.5h-6.5" stroke="#1e1e1e" stroke-width="1.5" fill="none"/>
<text x="105" y="2262.7" text-anchor="middle" class="t">370500</text>
<text x="317.3" y="2262.7" text-anchor="middle" class="t">371500</text>
<text x="529.7" y="2262.7" text-anchor="middle" class="t">372500</text>
<text x="742" y="2262.7" text-anchor="middle" class="t">373500</text>
<text x="90.2" y="2054.1" text-anchor="end" class="t">20</text>
<text x="90.2" y="2140.9" text-anchor="end" class="t">0</text>
<text x="90.2" y="2227.8" text-anchor="end" class="t">-20</text>
<polyline points="105.5,2123.2 106.1,2130.5 106.7,2123.4 107.3,2129.1 107.9,2129.6 108.5,2120.2 109.1,2129.4 109.7,2129.6 110.3,2123.9 110.9,2132.3 111.5,2123.6 112.1,2129.5 112.7,2125.2 113.3,2129.4 113.9,2130 114.5,2129.1 115.1,2125.5 115.7,2129.3 116.3,2129 116.9,2124.2 117.5,2124.4 118.1,2129.5 118.7,2125.3 119.3,2129.2 119.9,2124.6 120.5,2121.7 121.1,2129.3 121.7,2125.3 122.3,2129.5 122.9,2124.4 123.5,2128.6 124.1,2125.2 124.7,2129.2 125.3,2125.3 125.9,2129.9 126.5,2124.6 127.1,2128.3 127.7,2125.2 128.3,2128.7 128.9,2124 129.5,2129.3 130.1,2123.9 130.7,2128.4 131.3,2128.7 131.9,2125.3 132.5,2124.8 133.1,2128.7 133.7,2123.9 134.3,2129.5 134.9,2125.4 135.5,2128.7 136.1,2128.2 136.7,2124.1 137.3,2129.3 137.9,2123.9 138.5,2128.6 139.1,2124.2 139.7,2128.1 140.3,2124.9 140.9,2128.7 141.5,2124.7 142.1,2125.3 142.7,2131 143.3,2124.9 143.9,2122.1 144.5,2129.3 145.1,2124.4 145.7,2129.3 146.3,2121.8 146.9,2129.4 147.5,2124.1 148.1,2128.6 148.7,2131 149.3,2124.6 149.9,2129.1 150.5,2121.7 151.1,2128.2 151.7,2124.7 152.3,2128.6 152.9,2124.9 153.5,2129.4 154.1,2124.1 154.7,2122 155.3,2131.8 155.9,2123.7 156.5,2130.2 157.1,2124.3 157.7,2129.1 158.3,2124.4 158.9,2130.8 159.5,2124.1 160.1,2129.1 160.7,2124.5 161.3,2123.8 161.9,2128.6 162.5,2123.1 163.1,2128.1 163.7,2124.2 164.3,2128.3 164.9,2124.8 165.5,2128.9 166.1,2122 166.7,2128.4 167.3,2124.2 167.9,2128.7 168.5,2125 169.1,2128 169.7,2123.8 170.3,2128.8 170.9,2124.9 171.5,2123.7 172.1,2128.3 172.7,2125.2 173.3,2128.2 173.9,2125.2 174.5,2125 175.1,2128 175.7,2124.9 176.3,2129.4 176.9,2125.2 177.5,2128 178.1,2123.8 178.7,2128.9 179.3,2121.6 179.9,2129.1 180.5,2125.2 181.1,2128.1 181.7,2125.1 182.3,2127.9 182.9,2124.3 183.5,2128.5 184.1,2125 184.7,2128.6 185.3,2124.8 185.9,2128.7 186.5,2124.7 187.1,2128.5 187.7,2123.9 188.3,2122 188.9,2129.3 189.5,2125 190.1,2132 190.7,2122.9 191.3,2129 191.9,2122.2 192.5,2127.9 193.1,2124.1 193.7,2128.3 194.3,2124.4 194.9,2129.4 195.5,2128.9 196.1,2124.2 196.7,2122.5 197.3,2129.1 197.9,2120.8 198.5,2127.9 199.1,2124.8 199.7,2129 200.3,2123.9 200.9,2128.5 201.5,2124.8 202.1,2128.3 202.7,2128.8 203.3,2124.6 203.9,2123.8 204.5,2127.9 205.1,2129.1 205.7,2123.4 206.3,2128.5 206.9,2129.2 207.5,2121.3 208.1,2131.8 208.7,2124.4 209.3,2131.2 209.9,2122 210.5,2129 211.1,2124.5 211.7,2128.8 212.3,2124.3 212.9,2123.6 213.5,2128 214.1,2123.8 214.7,2128.2 215.3,2124 215.9,2129 216.5,2124.5 217.1,2121.2 217.7,2128.9 218.3,2124.3 218.9,2128.4 219.5,2124.6 220.1,2127.7 220.7,2124.3 221.3,2127.9 221.9,2123.9 222.5,2129 223.1,2128.8 223.7,2124.9 224.3,2127.8 224.9,2124.2 225.5,2128.8 226.1,2131.1 226.7,2123.4 227.3,2129.2 227.9,2128.8 228.5,2121.8 229.1,2127.8 229.7,2124.7 230.3,2128.6 230.9,2124.5 231.5,2128.8 232.1,2123.5 232.7,2128.7 233.3,2121.2 233.9,2129 234.5,2124.1 235.1,2128.2 235.7,2124.4 236.3,2128.2 236.9,2123.9 237.5,2128.9 238.1,2124 238.7,2128.9 239.3,2121 239.9,2127.7 240.5,2130.8 241.1,2128.4 241.7,2123.5 242.3,2127.7 242.9,2124.3 243.5,2127.6 244.1,2124.2 244.7,2127.7 245.3,2124.6 245.9,2128.7 246.5,2123.9 247.1,2124.1 247.7,2128.1 248.3,2124.7 248.9,2128.4 249.5,2123.2 250.1,2128.2 250.7,2124.6 251.3,2128.7 251.9,2121.9 252.5,2128 253.1,2124.1 253.7,2128.5 254.3,2124.5 254.9,2129.9 255.5,2123.7 256.1,2128 256.7,2123.8 257.3,2127.4 257.9,2124 258.5,2127.9 259.1,2124.4 259.7,2128.3 260.3,2124.6 260.9,2128.8 261.5,2123.2 262.1,2128.6 262.7,2124.5 263.3,2124.4 263.9,2130.4 264.5,2129.5 265.1,2127.9 265.7,2123.2 266.3,2124.1 266.9,2131.3 267.5,2123.2 268.1,2127.7 268.7,2123.7 269.3,2127.3 269.9,2123 270.5,2123.5 271.1,2128.2 271.7,2124.2 272.3,2127.5 272.9,2123.9 273.5,2127.8 274.1,2123 274.7,2127.4 275.3,2123.5 275.9,2127.5 276.5,2123.3 277.1,2123.3 277.7,2127.8 278.3,2123.3 278.9,2127.7 279.5,2124.2 280.1,2127.6 280.7,2122.9 281.3,2123.5 281.9,2127.5 282.5,2123.7 283.1,2128 283.7,2123.4 284.3,2128.3 284.9,2123.3 285.5,2127.9 286.1,2121.9 286.7,2127.7 287.3,2124.5 287.9,2127.9 288.5,2122.9 289.1,2129.7 289.7,2123.6 290.3,2128.4 290.9,2120.8 291.5,2122.8 292.1,2127.9 292.7,2123.1 293.3,2124.4 293.9,2127.8 294.5,2123.3 295.1,2131.3 295.7,2124 296.3,2128 296.9,2123.7 297.5,2128.6 298.1,2123.2 298.7,2128.4 299.3,2123.4 299.9,2123.2 300.5,2129.6 301.1,2123.1 301.7,2128.3 302.3,2123.7 302.9,2127.9 303.5,2123 304.1,2127.3 304.7,2123.9 305.3,2129.5 305.9,2127.6 306.5,2128.5 307.1,2127.1 307.7,2127.5 308.3,2123.2 308.9,2130.2 309.5,2123 310.1,2127.2 310.7,2123.7 311.3,2127.6 311.9,2123.8 312.5,2127.6 313.1,2123.1 313.7,2127.9 314.3,2121.4 314.9,2128 315.5,2123.1 316.1,2128.3 316.7,2124.2 317.3,2127.9 317.9,2124 318.5,2127.8 319.1,2121.1 319.7,2127.6 320.3,2123.3 320.9,2128.6 321.5,2123.7 322.1,2127 322.7,2121.5 323.3,2128.1 323.9,2127.9 324.5,2123.5 325.1,2127.4 325.7,2123.7 326.3,2127.5 326.9,2123.6 327.5,2128.2 328.1,2130.1 328.7,2120.3 329.3,2128 329.9,2123.1 330.5,2128.2 331.1,2130.2 331.7,2122.8 332.3,2127.1 332.9,2124 333.5,2122.6 334.1,2131 334.7,2122.6 335.3,2128.2 335.9,2123.2 336.5,2128 337.1,2123.6 337.7,2128.2 338.3,2122.9 338.9,2127.8 339.5,2123.7 340.1,2127.9 340.7,2123.9 341.3,2128 341.9,2122.8 342.5,2128.4 343.1,2127.3 343.7,2127.3 344.3,2124.1 344.9,2127.6 345.5,2123.6 346.1,2128.2 346.7,2123.5 347.3,2128.2 347.9,2122.7 348.5,2127.1 349.1,2122.9 349.7,2126.9 350.3,2123 350.9,2128.1 351.5,2122.8 352.1,2128.1 352.7,2122.8 353.3,2127.3 353.9,2123 354.5,2128.1 355.1,2123.5 355.7,2127.8 356.3,2120.4 356.9,2127.7 357.5,2123.4 358.1,2129.8 358.7,2123.9 359.3,2122.4 359.9,2122.6 360.5,2127.8 361.1,2122.8 361.7,2127 362.3,2120.8 362.9,2127.9 363.5,2121.9 364.1,2130.2 364.7,2123.6 365.3,2126.9 365.9,2126.9 366.5,2123.7 367.1,2120.1 367.7,2129.4 368.3,2123.2 368.9,2123.3 369.5,2122.7 370.1,2122.3 370.5,2126 370.7,2121.7 371.3,2112.2 371.9,2100 372.5,2090 372.5,2090 373.1,2085.7 373.7,2084 374,2081 374.3,2081.1 374.9,2083.5 375.5,2086 375.5,2086 376.1,2085.9 376.7,2083.8 377,2084 377.3,2086.9 377.9,2089.8 378.5,2095.3 379,2098 379.1,2097.1 379.7,2096.6 380.3,2097.5 380.9,2095.4 381,2096 381.5,2101.5 382.1,2109.9 382.7,2115.2 383,2120 383.3,2122 383.9,2130.8 384.5,2136.4 385.1,2144.5 385.3,2146 385.7,2134.6 386.3,2115.3 386.5,2110 386.9,2104.7 387.5,2093.8 388.1,2085.6 388.5,2079 388.7,2080.3 389.3,2081.8 389.9,2084.3 390.5,2088.4 391,2090 391.1,2092.1 391.7,2099.3 392.3,2108.3 392.9,2118.2 393.5,2126 393.5,2126 394.1,2123 394.7,2126.7 395.3,2122.5 395.9,2127.4 396.5,2122.7 397.1,2127.7 397.7,2122.2 398.3,2122.2 398.9,2128 399.5,2123 400,2126 400.1,2126.3 400.7,2132.9 400.9,2134 401.3,2130.9 401.8,2126 401.9,2127.1 402.5,2122.2 403.1,2127.2 403.7,2123.6 404.3,2128 404.9,2122.5 405.5,2126.5 406.1,2126.8 406.7,2130.7 407.3,2123.5 407.9,2127.8 408.5,2126.5 409.1,2122.6 409.7,2129.6 410.3,2123.7 410.9,2126.5 411.5,2119.8 412.1,2127.4 412.7,2122.8 413.3,2127.6 413.9,2122.7 414.5,2127.8 415.1,2127.8 415.7,2122.2 416.3,2127.1 416.9,2122.9 417.5,2129.2 418.1,2123.6 418.7,2121.5 419.3,2126.9 419.9,2123.4 420.5,2127.8 421.1,2123.2 421.7,2127.4 422.3,2126.9 422.9,2122.5 423.5,2126.5 424.1,2123.6 424.7,2126.9 425.3,2122.3 425.9,2123.6 426.5,2126.7 427.1,2122.4 427.7,2123.1 428.3,2126.9 428.9,2120.2 429.5,2127.5 430.1,2122.8 430.7,2126.8 431.3,2122.2 431.9,2126.6 432.5,2123.2 433.1,2126.6 433.7,2123.4 434.3,2127.3 434.9,2122.5 435.5,2123.1 436.1,2127.8 436.7,2122.1 437.3,2121.3 437.9,2121.3 438.5,2127.3 439.1,2122.6 439.7,2123.2 440.3,2127.5 440.9,2119.5 441.5,2126.9 442.1,2121.9 442.7,2126.5 443.3,2119.5 443.9,2126.7 444.5,2120.2 445.1,2126.4 445.7,2129.5 446.3,2122.3 446.9,2126.3 447.5,2121.9 448.1,2123.1 448.7,2122.4 449.3,2127.6 449.9,2127.5 450.5,2122.3 451.1,2127.9 451.7,2123.4 452.3,2127.4 452.9,2123.3 453.5,2127.6 454.1,2123.4 454.7,2128.9 455.3,2122.5 455.9,2127.1 456.5,2121.9 457.1,2129.4 457.7,2121.9 458.3,2127.4 458.9,2119.6 459.5,2127.2 460.1,2123 460.7,2128.5 461.3,2123.5 461.9,2127 462.5,2121.9 463.1,2127.5 463.7,2122.3 464.3,2127.1 464.9,2122.8 465.5,2126.6 466.1,2122.7 466.7,2127.6 467.3,2122.1 467.9,2122 468.5,2123 469.1,2122.2 469.7,2126.7 470.3,2126.7 470.9,2122.5 471.5,2127.8 472.1,2123.1 472.7,2126.4 473.3,2122.7 473.9,2127.2 474.5,2121.9 475.1,2126.7 475.7,2122.2 476.3,2129.1 476.9,2122.4 477.5,2126.5 478.1,2123.2 478.7,2127.2 479.3,2120.3 479.9,2129.7 480.5,2116.9 481.1,2128.5 481.7,2122.3 482.3,2127.1 482.9,2121.8 483.5,2128.4 484.1,2122.4 484.7,2122 485.3,2128.9 485.9,2121 486.5,2122.2 487.1,2129.4 487.7,2131.2 488.3,2121.1 488.9,2118.2 489.5,2128.5 490.1,2118.8 490.7,2129.1 491.3,2121.5 491.9,2121.5 492.5,2127 493.1,2121.7 493.7,2128.8 494.3,2121.8 494.9,2127.1 495.5,2120.8 496.1,2129.5 496.7,2129.5 497.3,2129.2 497.9,2121.7 498.5,2121.6 499.1,2128.5 499.7,2120.3 500.3,2127.1 500.9,2121.9 501.5,2117.6 502.1,2120.6 502.7,2131.1 503.3,2119.8 503.9,2121.5 504.5,2128.2 505.1,2127.6 505.7,2120.5 506.3,2128.3 506.9,2122 507.5,2127.2 508.1,2121.5 508.7,2128.9 509.3,2121 509.9,2120.4 510.5,2128.6 511.1,2120.4 511.7,2127.2 512.3,2122.3 512.9,2128.7 513.5,2121.9 514.1,2127.4 514.7,2121.7 515.3,2119.4 515.9,2126.2 516.5,2122.2 517.1,2122.2 517.7,2126.1 518.3,2123.1 518.9,2127.3 519.5,2121.8 520.1,2127.2 520.7,2122.9 521.3,2130 521.9,2122 522.5,2127.4 523.1,2122.4 523.7,2129 524.3,2122.9 524.9,2122.7 525.5,2127.2 526.1,2123.1 526.7,2126.6 527.3,2123.2 527.9,2126.8 528.5,2123.2 529.1,2126.3 529.7,2121.8 530.3,2126.7 530.9,2122.9 531.5,2126.6 532.1,2122.3 532.7,2122 533.3,2122.6 533.9,2126.9 534.5,2122.1 535.1,2121.7 535.7,2126.7 536.3,2127.6 536.9,2123.1 537.5,2126.1 538.1,2120.8 538.7,2126.6 539.3,2122.7 539.9,2121.6 540.5,2123.1 541.1,2126.5 541.7,2120.6 542.3,2127.2 542.9,2127.4 543.5,2120.5 544.1,2129.7 544.7,2119.8 545.3,2130.2 545.9,2120.2 546.5,2120.7 547.1,2132.9 547.7,2118.6 548.3,2128.7 548.9,2118.6 549.5,2130.6 550.1,2121.5 550.7,2128.4 551.3,2120.7 551.9,2127.6 552.5,2112.6 553.1,2129.7 553.7,2118.8 554.3,2131 554.9,2118.5 555.5,2127.7 556.1,2129.1 556.7,2118.4 557.3,2129 557.9,2121.4 558.5,2119.1 559.1,2130.3 559.7,2119.9 560.3,2128.3 560.9,2112.5 561.5,2130.5 562.1,2119.4 562.7,2130.8 563.3,2119.2 563.9,2129.8 564.5,2119.5 565.1,2128 565.7,2121.5 566.3,2120.8 566.9,2129.4 567.5,2114.7 568.1,2130.5 568.7,2118.7 569.3,2119.9 569.9,2130.5 570.5,2113.1 571.1,2128.3 571.7,2119.7 572.3,2129.9 572.9,2120.1 573.5,2129.4 574.1,2119.3 574.7,2120.1 575.3,2128.4 575.9,2128.2 576.5,2118 577.1,2128 577.7,2120.2 578.3,2130.5 578.9,2118.3 579.5,2128.8 580.1,2114.4 580.7,2133.3 581.3,2120.6 581.9,2126.3 582.5,2122.8 583.1,2126.2 583.7,2121.8 584.3,2126.8 584.9,2119.7 585.5,2126.7 586.1,2120.2 586.7,2126.2 587.3,2121.7 587.9,2127.6 588.5,2121.2 589.1,2126.3 589.7,2117.9 590.3,2127.2 590.9,2127.5 591.5,2122.5 592.1,2121 592.7,2121 593.3,2126.5 593.9,2127.6 594.5,2122.5 595.1,2126.9 595.7,2122.7 596.3,2130.6 596.9,2118.4 597.5,2130.8 598.1,2119.5 598.7,2127.6 599.3,2122.3 599.9,2126.5 600.5,2121.4 601.1,2126.1 601.7,2121.5 602.3,2127.3 602.9,2121.7 603.5,2122.8 604.1,2127.1 604.7,2122.7 605.3,2127.7 605.9,2121.2 606.5,2127.5 607.1,2126.7 607.7,2122.8 608.3,2121 608.9,2127.7 609.5,2121.7 610.1,2127.6 610.7,2122.5 611.3,2126.1 611.9,2122.4 612.5,2126.8 613.1,2121.3 613.7,2126.8 614.3,2121.8 614.9,2126.8 615.5,2120.2 616.1,2122 616.7,2122.5 617.3,2128.9 617.9,2121.9 618.5,2127.8 619.1,2121.5 619.7,2121.8 620.3,2130.2 620.9,2122.1 621.5,2127.3 622.1,2121.9 622.7,2126 623.3,2126.2 623.9,2127.1 624.5,2122.4 625.1,2126 625.7,2121.4 626.3,2126.3 626.9,2121 627.5,2126.7 628.1,2121.1 628.7,2126.2 629.3,2121.6 629.9,2126.5 630.5,2127.6 631.1,2126.9 631.7,2117.9 632.3,2122.4 632.9,2127.7 633.5,2121.6 634.1,2130.3 634.7,2121.5 635.3,2126.2 635.9,2121.2 636.5,2124.3 636.5,2124 637.1,2133.8 637.7,2141.6 638.2,2150 638.3,2152.1 638.9,2157.4 639.5,2166.6 640.1,2172.1 640.2,2174 640.7,2167.2 641.3,2163.5 641.5,2160 641.9,2140.2 642.5,2108.4 643.1,2076.5 643.3,2068 643.7,2109.7 644.3,2172.6 644.4,2184 644.9,2169.4 645.5,2154.4 646,2140 646.1,2140 646.7,2132.8 647.3,2128.6 647.9,2121.9 648.5,2117 648.5,2117 649.1,2114.8 649.7,2114.2 650.3,2112.9 650.9,2109.7 651,2110 651.5,2103.3 652.1,2097.4 652.7,2088.1 653.2,2083 653.3,2089.6 653.9,2133.9 654.5,2175.3 654.7,2190 655.1,2187.9 655.7,2188 656.3,2187.3 656.5,2185 656.9,2180 657.5,2170.1 658.1,2163.3 658.7,2153.7 659,2150 659.3,2148 659.9,2141.6 660.5,2137.7 661.1,2130.9 661.7,2127.5 662,2124 662.3,2118.1 662.9,2127.3 663.5,2121.5 664.1,2126.9 664.7,2119.5 665.3,2127.7 665.9,2121.6 666.5,2122 667.1,2127 667.2,2124 667.7,2117.7 668,2113 668.3,2117.6 668.8,2124 668.9,2127.4 669.5,2120.8 670.1,2126.9 670.7,2122.6 671.3,2125.9 671.9,2121 672.5,2126.7 673.1,2127 673.7,2122.1 674.3,2120.8 674.9,2128.7 675.5,2122.5 676.1,2122 676.7,2126.3 677.3,2120.9 677.9,2126.4 678.5,2119.5 679.1,2127.6 679.7,2122.2 680.3,2127.1 680.9,2130 681.5,2120.9 682.1,2127.6 682.7,2122.5 683.3,2120.8 683.9,2126.3 684.5,2121.3 685.1,2130.4 685.7,2121.8 686.3,2128.8 686.9,2118 687.5,2126.6 688.1,2122.2 688.7,2127.2 689.3,2120.8 689.9,2126.3 690.5,2122.3 691.1,2130.4 691.7,2122.5 692.3,2126.1 692.9,2122.1 693.5,2127.1 694.1,2120.7 694.7,2121 695.3,2125.8 695.9,2121.6 696.5,2126.3 697.1,2122.1 697.7,2126.6 698.3,2122.2 698.9,2126.3 699.5,2122.1 700.1,2127.3 700.7,2120.7 701.3,2129 701.9,2127.6 702.5,2121.5 703.1,2127.1 703.7,2121.2 704.3,2127.3 704.9,2122.5 705.5,2128.3 706.1,2126 706.7,2122.1 707.3,2127.5 707.9,2120.9 708.5,2127 709.1,2121.2 709.7,2121.8 710.3,2121.7 710.9,2126.6 711.5,2120.7 712.1,2126.3 712.7,2120.9 713.3,2122.4 713.9,2128.8 714.5,2126.2 715.1,2122.1 715.7,2125.9 716.3,2117.5 716.9,2122.4 717.5,2126.2 718.1,2122.1 718.7,2127.2 719.3,2122.1 719.9,2130.5 720.5,2121.4 721.1,2127.3 721.7,2121 722.3,2126.2 722.9,2121.2 723.5,2121.1 724.1,2126.9 724.7,2121.1 725.3,2126.6 725.9,2121.3 726.5,2128.3 727.1,2122.3 727.7,2125.7 728.3,2121.4 728.9,2126.6 729.5,2117.4 730.1,2125.9 730.7,2122.3 731.3,2126.3 731.9,2120.7 732.5,2126.4 733.1,2121.5 733.7,2125.7 734.3,2121.3 734.9,2126.5 735.5,2121.5 736.1,2126.2 736.7,2122.2 737.3,2126.6 737.9,2122.2 738.5,2126.4 739.1,2121.4 739.7,2126 740.3,2118.9 740.9,2127.5 741.5,2120.7" fill="none" stroke="#0000ff" stroke-width="3.2" stroke-linejoin="round" stroke-linecap="round"/>
<rect x="911" y="235.5" width="633" height="416.2" fill="none" stroke="#1e1e1e" stroke-width="1.5"/>
<path d="M911 651.7v-6.5M911 235.5v6.5M1122 651.7v-6.5M1122 235.5v6.5M1333 651.7v-6.5M1333 235.5v6.5M1544 651.7v-6.5M1544 235.5v6.5M911 627.9h6.5M1544 627.9h-6.5M911 535.3h6.5M1544 535.3h-6.5M911 442.7h6.5M1544 442.7h-6.5M911 350.1h6.5M1544 350.1h-6.5M911 257.5h6.5M1544 257.5h-6.5" stroke="#1e1e1e" stroke-width="1.5" fill="none"/>
<text x="911" y="699.9" text-anchor="middle" class="t">312000</text>
<text x="1122" y="699.9" text-anchor="middle" class="t">312500</text>
<text x="1333" y="699.9" text-anchor="middle" class="t">313000</text>
<text x="1544" y="699.9" text-anchor="middle" class="t">313500</text>
<text x="896.2" y="641.2" text-anchor="end" class="t">0</text>
<text x="896.2" y="548.6" text-anchor="end" class="t">1</text>
<text x="896.2" y="456" text-anchor="end" class="t">2</text>
<text x="896.2" y="363.4" text-anchor="end" class="t">3</text>
<text x="896.2" y="270.8" text-anchor="end" class="t">4</text>
<polyline points="911.5,632.1 912.3,634.2 913.1,632 913.9,634.3 914.7,634 915.5,631.7 916.3,633.7 917.1,631.7 917.9,634.2 918.7,632.3 919.5,633.9 920.3,631.7 921.1,632.1 921.9,634.3 922.7,631.5 923.5,634.3 924.3,634.1 925.1,632.1 925.9,633.8 926.7,631.2 927.5,633.9 927.7,633 928.7,616.6 929.5,616.6 930.5,633 930.7,634.5 931.5,632.2 932.3,635.3 933.1,632.2 933.9,633.8 934.7,631.7 935.5,633.8 936.3,634.4 937.1,634 937.9,634.2 938.7,632.2 939.5,634.4 939.7,633 940.7,611.6 941.5,611.6 942.5,633 942.7,633.9 943.5,632 943.9,633 945.1,634.5 946.3,633 946.7,634.5 947.5,635.5 948.3,630.4 949.1,634.5 949.9,630.6 950.7,632.1 951.5,634.4 952.3,632 953.1,634.4 953.9,631.9 954.7,632.1 955.5,634 956.3,632 957.1,633.9 957.9,630.7 958.7,632.2 959.5,633.8 960.3,632.1 961.1,634.2 961.9,633.9 962.7,631.8 963.5,634 964.3,631.5 965.1,634.3 965.9,631.6 966.7,633.9 966.8,633 967.8,613.6 968,633 969.2,638.5 970.4,633 970.7,631.8 971.5,633.7 972.3,631.8 973.1,633.8 973.9,631.7 974.7,634.3 975.5,632.2 976.3,633.7 977.1,631.9 977.8,633 978.8,618.7 979.6,618.7 980.6,633 981.1,631.6 981.9,631.8 982.7,633.9 983.5,632.1 984.3,634.2 985.1,631.5 985.9,634.5 986.7,632 987.5,634.2 988.3,631.6 989.1,633.8 989.9,630.9 990.7,634.1 991.5,630.7 992.3,634.4 993.1,631.9 993.9,634.4 994.7,634.3 995.5,631.8 996.3,634 997.1,631.9 997.9,634.1 998.7,632.3 999.5,634.3 1000.3,631.8 1001.1,634.4 1001.9,632.1 1002.7,632 1003.5,634 1004.3,631.8 1005.1,633.8 1005.9,632.2 1006.7,634 1006.9,633 1007.9,619.7 1008.7,619.7 1009.7,633 1009.9,634.1 1010.7,632.1 1011.5,634.8 1012.3,632.2 1013.1,634 1013.9,632.3 1014.7,633.8 1015.5,634.1 1016.3,632 1017.1,634.3 1017.9,631.7 1018.1,633 1019.3,636.5 1020.5,633 1021.1,633 1021.1,632.2 1021.9,633.8 1022.7,631.8 1023.5,633.8 1024.3,632.2 1025.1,631.9 1025.9,635.7 1026.7,631.5 1027.5,633.9 1028.3,634 1029.1,632.2 1029.9,634 1030.7,633.9 1031.5,631.7 1032.3,633.9 1033.1,631.9 1033.9,634.3 1034.7,632.1 1035.5,634.3 1036.3,631.8 1037.1,635 1037.9,631.6 1038.7,633.7 1039.5,632 1040.3,632.3 1041.1,634 1041.9,632.1 1042.7,634.5 1043.5,632.3 1044,633 1045,612.6 1045.8,612.6 1046.2,633 1047.4,639.5 1048.6,633 1049.1,634.4 1049.9,633.9 1050.7,632 1051.5,634.4 1052.3,631.6 1053.1,635.2 1053.9,632.1 1054.7,634.4 1055.4,633 1056.4,617.6 1057.2,617.6 1058.2,633 1058.7,633.8 1059.5,633.8 1060.3,631.9 1061.1,632.1 1061.9,632.2 1062.7,634 1063.5,632.2 1064.3,634.3 1065.1,631.7 1065.9,633.9 1066.7,632.1 1067.5,632 1068.3,634.1 1069.1,631.9 1069.9,631.8 1070.7,634.2 1071.5,631.7 1072.3,633.8 1073.1,631.5 1073.9,632.3 1074.7,634.2 1075.5,631.2 1076.3,633.9 1077.1,631.7 1077.9,631.7 1078.7,635.6 1079.5,632.3 1080.3,634 1081.1,632.3 1081.9,634.3 1082.7,631.5 1083.5,634.1 1084.1,633 1085.1,618.7 1085.9,618.7 1086.9,633 1087.5,632 1088.3,634.2 1089.1,634.4 1089.9,631.8 1090.7,634.3 1091.5,631.9 1092.3,633.8 1093.1,631.1 1093.9,633.9 1094.7,633.9 1095.5,631.8 1096.3,634.5 1096.7,633 1097.7,616.6 1098.5,616.6 1099.5,633 1099.5,631.7 1100.3,633.9 1101.1,632.1 1101.9,634.4 1102.7,632.2 1103.5,633.9 1104.3,634.1 1105.1,632.2 1105.9,634.3 1106.7,632 1107.5,634.3 1108.3,632.2 1109.1,634.1 1109.9,632.1 1110.7,633.9 1111.5,632.2 1112.3,633.7 1113.1,634 1113.9,631.8 1114.7,633.9 1115.5,631.7 1116.3,633.8 1117.1,632.3 1117.9,633.9 1118.7,631.9 1119.5,634.5 1120.3,631.6 1121.1,631.8 1121.9,634.3 1122.7,632.2 1123.5,633.9 1124.3,632.1 1125.1,634.2 1125.2,633 1126.2,614.6 1126.4,633 1127.6,637.5 1128.8,633 1129.1,631.7 1129.9,631.8 1130.7,631.7 1131.5,633.9 1132.3,634.2 1133.1,632.2 1133.9,633.9 1134.7,632.2 1135.5,634.4 1136.3,631.6 1137.1,634.2 1137.9,631.5 1138.7,634 1139.5,633.9 1140.3,632.3 1141.1,634.1 1141.9,632.3 1142.7,633.9 1143.5,632.3 1144.3,634.5 1145.1,634.2 1145.9,633.7 1146.7,632.3 1147.5,635.6 1148.3,631.8 1149.1,634.4 1149.9,632 1150.7,632 1151.5,634.4 1152.3,631.8 1153.1,634 1153.9,633.8 1154.7,632.2 1155.2,633 1156.2,614.6 1157,614.6 1158,633 1158.7,634 1159.5,634 1160.3,631.7 1161.1,633.8 1161.9,632.2 1162.7,634.1 1163.5,632.2 1164.3,634.3 1165.1,635.5 1165.9,631.7 1166.7,631.8 1167.5,634.2 1168.3,633 1169.3,614.6 1170.1,614.6 1171.1,633 1171.5,631.8 1172.3,634.3 1173.1,631.9 1173.9,634.5 1174.7,633.9 1175.5,631.7 1176.3,631.5 1177.1,634.1 1177.9,631.6 1178.7,633.9 1179.5,632.3 1180.3,634.1 1181.1,631.6 1181.9,634.3 1182.7,630.6 1183.5,634.1 1184.3,632.1 1185.1,634 1185.9,630.6 1186.3,633 1187.3,610.6 1188.1,610.6 1189.1,633 1189.9,634.1 1190.7,634.5 1191.5,631.7 1192.3,633.9 1193.1,631.6 1193.9,634.1 1194.7,631.9 1195.5,632 1196.3,634.4 1197.1,632.2 1197.9,633.8 1198.7,632.1 1199.5,633.7 1200.3,632.2 1200.3,633 1201.3,618.7 1202.1,618.7 1203.1,633 1203.5,634.4 1204.3,632 1205.1,634.9 1205.9,631.8 1206.7,634.9 1207.5,631.7 1208.3,633.9 1209.1,631.6 1209.9,633.9 1210.7,631.6 1211.5,634 1212.3,632.2 1213.1,632.2 1213.9,633.9 1214.7,632.2 1215.5,633.9 1216.3,634.4 1217.1,632.2 1217.9,634 1218.7,631.7 1219.4,633 1220.4,619.7 1221.2,619.7 1222.2,633 1222.7,632.1 1223.5,634 1224.3,631.9 1225.1,633.9 1225.9,631.6 1226.7,633.9 1227.5,631.9 1228.3,634.3 1229.1,632.2 1229.9,634.2 1230.7,631.9 1231.5,633.7 1232.3,631.9 1232.6,633 1233.6,616.6 1234.4,616.6 1235.4,633 1235.5,635.3 1236.3,632.1 1237.1,633.7 1237.9,634.2 1238.7,632.3 1239.5,631.9 1240.3,631.8 1241.1,634.4 1241.9,634.1 1242.7,631.9 1243.5,634 1244.3,631.6 1245.1,632 1245.9,634.1 1246.7,634.4 1247.5,631.9 1248.3,630.6 1249.1,633.9 1249.9,631.7 1250.7,632.1 1251.5,634.4 1252.3,632.2 1252.7,633 1253.7,612.6 1254.5,612.6 1255.5,633 1255.5,631.7 1256.3,631.8 1257.1,635 1257.9,631.9 1258.7,633.7 1259.5,634.2 1260.3,632 1261.1,631.9 1261.9,633.7 1262.7,634.2 1263.5,631.6 1264.3,634.1 1265.1,634 1265.9,631.8 1266.7,631.7 1267.5,634.4 1267.7,633 1268.7,619.7 1269.5,619.7 1270.5,633 1270.7,633.9 1271.5,631.7 1272.3,634.2 1273.1,631.7 1273.9,634 1274.7,634.3 1275.5,631.8 1276.3,634 1277.1,634.3 1277.9,632 1278.7,634.5 1279.5,631.6 1280.3,634.2 1281.1,634.4 1281.9,631.5 1282.7,633.9 1283.5,631.9 1284.3,634.2 1285.1,631.5 1285.9,634.2 1286.7,631.8 1287.5,633.9 1288.3,631.9 1289.1,633.8 1289.8,633 1290.8,619.7 1291.6,619.7 1292.6,633 1293.1,631.8 1293.9,633.8 1294.7,632.1 1295.5,631.9 1296.3,634.1 1297.1,631.8 1297.9,635.2 1298.7,631.8 1299.5,633.7 1300.3,632 1301.1,634.2 1301.8,633 1302.8,616.6 1303.6,616.6 1304.6,633 1305.1,634 1305.9,632.1 1306.7,634.2 1307.5,632 1308.3,635.2 1309.1,632.3 1309.9,634.4 1310.7,631.7 1311.5,634.5 1312.3,631.7 1313.1,634.3 1313.9,634 1314.7,631.1 1315.5,634.2 1316.3,632.3 1317.1,634.3 1317.9,631.8 1318.7,634.8 1319.5,632 1320.3,635.8 1320.4,633 1321.4,612.6 1322.2,612.6 1323.2,633 1323.5,632 1324.3,634.3 1325.1,632.3 1325.9,633.8 1326.7,631.9 1327.5,633.7 1328.3,634.9 1329.1,631.8 1329.9,635.4 1330.7,631.6 1331.5,634.3 1332.3,635.5 1333.1,630.3 1333.9,633 1334.9,617.6 1335.7,617.6 1336.7,633 1337.1,634 1337.9,631.7 1338.7,634.1 1339.5,631.8 1340.3,633.8 1341.1,631.9 1341.9,633.9 1342.7,634 1343.5,632.2 1344.3,633.8 1345.1,631.8 1345.9,634 1346.7,633.7 1347.5,631.9 1348.3,634.3 1349.1,632.2 1349.9,635 1350.7,631.9 1351.5,634.9 1352.3,630.2 1353.1,633.8 1353.9,632.1 1354.3,633 1355.3,617.6 1356.1,617.6 1357.1,633 1357.9,632.2 1358.7,630.6 1359.5,634.2 1360.3,631.9 1361.1,634.3 1361.9,632.1 1362.7,634 1363.5,634.3 1364.3,632 1365.1,634 1365.9,631.8 1366.4,633 1367.4,618.7 1368.2,618.7 1369.2,633 1369.9,633.7 1370.7,630.7 1371.5,635.8 1372.3,631.9 1373.1,634 1373.9,631.5 1374.7,634 1375.5,631.9 1376.3,634 1377.1,631.6 1377.9,634.4 1378.7,632.2 1379.5,631.9 1380.3,634.4 1381.1,632.1 1381.9,633.9 1382.7,632.2 1383.5,633.7 1384.3,631.6 1385,633 1386,613.6 1386.8,613.6 1387.8,633 1388.3,635.1 1389.1,632.1 1389.9,635.1 1390.7,632 1391.5,634.1 1392.3,631.6 1393.1,635.8 1393.9,631.6 1394.7,634.3 1395.5,631.9 1396.3,634.4 1397.1,631.7 1397.9,634.5 1398,633 1399,620.7 1399.8,620.7 1400.8,633 1401.1,634.2 1401.9,631.7 1402.7,634.4 1403.5,631.8 1404.3,633.8 1405.1,631.9 1405.9,634.2 1406.7,632.1 1407.5,634 1408.3,634.1 1409.1,631.7 1409.9,634 1410.7,631.8 1411.5,630.6 1412.3,631.8 1413.1,633.7 1413.9,632 1414.7,634 1415.5,632.2 1416.1,633 1417.1,618.7 1417.9,618.7 1418.9,633 1419.5,632 1420.3,635.5 1421.1,631.2 1421.9,634.5 1422.7,632 1423.5,631.8 1424.3,634.1 1425.1,631.7 1425.9,633.8 1426.7,632.2 1427.5,634.3 1428.3,632.1 1428.5,633 1429.5,617.6 1430.3,617.6 1431.3,633 1431.5,634 1432.3,632 1433.1,634.6 1433.9,632.5 1434.7,634.4 1435.5,632.5 1436.3,634.9 1437.1,632.5 1437.9,634.7 1438.7,632 1439.5,634.3 1440.3,634.4 1441.1,632.7 1441.9,634.9 1442.7,635.5 1443.5,632.7 1444.3,634.3 1445.1,634.3 1445.9,632.6 1446.7,634.5 1447.5,632.4 1448.3,634.7 1448.6,633 1449.6,609.6 1450.4,609.6 1451.4,633 1451.5,632.9 1452.3,635.2 1453.1,632.8 1453.9,634.7 1454.7,632.4 1455.5,632.6 1456.3,633.1 1457.1,635.2 1457.9,632.8 1458.7,631.4 1459.5,635.4 1460.3,632.8 1461.1,635.3 1461.9,633 1462.7,634.8 1463.5,633.3 1464.2,633 1465.2,620.7 1466,620.7 1467,633 1467.5,634.9 1468.3,632.8 1469.1,635.4 1469.9,633.3 1470.7,633.5 1471.5,632.8 1472.3,635 1473.1,633.3 1473.9,635.5 1474.7,633 1475.5,635.6 1476.3,633.6 1477.1,635.4 1477.9,633.6 1478.7,633.1 1479.5,635.1 1480.3,633.3 1481.1,635.9 1481.9,633.6 1482.7,635.2 1483.5,633.4 1484.3,635.5 1485.1,635.3 1485.3,633 1486.3,618.7 1487.1,618.7 1488.1,633 1488.3,635.6 1489.1,633.5 1489.9,636 1490.7,633.7 1491.5,637.4 1492.3,633.7 1493.1,635.7 1493.9,633.7 1494.7,636.8 1495.5,633.7 1496.3,635.5 1497.1,633.9 1497.3,633 1498.3,617.6 1499.1,617.6 1500.1,633 1500.3,636.3 1501.1,634 1501.9,636.2 1502.7,633.5 1503.5,635.8 1504.3,633.6 1505.1,634 1505.9,635.7 1506.7,633.8 1507.5,636 1508.3,635.8 1509.1,634 1509.9,635.8 1510.7,633.9 1511.5,636.5 1512.3,633.6 1513.1,636 1513.9,635.9 1514.7,633.4 1515.1,635 1516.2,651.6 1517.2,651.6 1518.3,635 1518.7,633.4 1519.5,635.5 1520.3,633.3 1521.1,635.1 1521.9,632.9 1522.7,634.8 1523.5,632.7 1524.2,635 1525.3,651.6 1526.3,651.6 1527.4,635 1527.5,635.1 1528.3,632.9 1529.1,632.7 1529.9,634.8 1530.7,632.6 1531.5,634.3 1532.3,632.2 1533.1,634.9 1533.4,633 1534.4,613.6 1535.2,613.6 1536.2,633 1536.3,632 1537.1,634.8 1537.9,631.9 1538.7,634.5 1539.5,632.3 1540,633 1541,620.7 1541.8,620.7 1542.8,633 1543.5,634.4" fill="none" stroke="#00ff00" stroke-width="7.4" stroke-linejoin="round" stroke-linecap="round"/>
<polyline points="911.5,284.3 911.5,268.1 914,265.8 916,343.6 918.1,344.4 920.2,285.1 922.2,281.8 924.3,338 927.1,291.5 928.8,312.7 930.5,336.7 932.6,291.5 934.6,320.1 936.4,285.6 938.1,258.4 940.8,327 942.9,259.8 945.7,284.3 947.7,261.2 950.5,284.3 952.6,261.2 954.6,316 956.7,261.2 959.4,284.3 961.5,244.6 964.3,243.8 965.6,285.1 967.7,416.6 969.4,365.7 971.2,312.7 973.9,270.8 976.7,309.1 978.4,293.4 980.1,275 981.5,350.5 983.2,308 984.9,266.7 986.6,335.2 988.2,405.6 989.8,470.4 991.8,354.1 994.6,312.7 997.4,271.4 999.4,273 1001.5,270.8 1004.2,275.5 1006,316.3 1007.7,354.6 1009.8,302.9 1011.8,248.8 1013.9,288.4 1016.6,263.9 1018.4,290.5 1020.1,320.1 1022.2,271.4 1024.9,239.1 1027.7,292 1030.4,291.2 1033.2,271.4 1035.3,240.5 1037.3,278.8 1039.4,264.5 1041.5,257 1043.5,322.7 1045.6,384.9 1047.4,339.5 1049.3,299.4 1051.1,257.6 1053.2,239.1 1055.9,243.8 1058,285.1 1060.1,287.8 1062.1,292 1063.5,329.8 1065.2,319.9 1067,316.3 1068.7,327.7 1070.4,339.4 1073.2,316.3 1074.9,334.3 1076.6,346.3 1079.4,272.2 1081,302.3 1082.6,331.4 1084.2,364.2 1086.9,286 1088.7,316 1090.4,346.3 1092.1,309.4 1093.8,269.4 1096.6,349.9 1098.7,350.5 1100.7,350.5 1102.5,317.8 1104.2,285.1 1106.2,277.5 1108.3,275 1110,292.9 1111.8,309.1 1113.1,246 1115.9,309.1 1116.4,309.1 1118.4,283.9 1120.5,257 1123.3,285.1 1125,354.7 1126.7,419.4 1128.4,357.4 1130.2,290.1 1132.9,358.7 1135,305.3 1137.7,331.2 1139.1,271.4 1140.7,270.8 1142.3,264.7 1143.9,265.8 1145.7,258.9 1147.4,257 1149.1,258.8 1150.8,264.5 1152.2,320.1 1155,291.5 1156.4,351.3 1158,362.6 1159.6,371.4 1161.2,383.5 1162.9,344.7 1164.6,301.1 1166.3,330.4 1168.1,358.7 1169.8,327.1 1171.5,294.2 1173.6,325.1 1175.6,353.2 1177.7,317.4 1179.8,280.5 1181.6,278.1 1183.5,285.2 1185.3,281 1187.4,373.9 1189.4,343.9 1191.5,373.2 1193.6,397.3 1196.3,343.9 1197.9,362.6 1199.5,374.5 1201.1,391.8 1203.2,341.1 1205.3,342.5 1207.4,350.5 1209.4,321.7 1211.5,298.4 1213.2,317.7 1214.9,340.8 1217.7,270.8 1219.4,287.8 1221.1,301.7 1223.2,341.5 1225.3,378 1227.1,353.6 1228.9,327.9 1230.8,297 1232.8,346.3 1234.6,330.9 1236.3,313.5 1238.4,331.3 1240.4,347.7 1242.5,328.6 1244.6,310.8 1246.6,325.6 1248.7,307.3 1250.8,290.1 1252.8,354 1254.9,422.1 1256.6,401.1 1258.3,378.3 1261.1,393.2 1262.9,373.6 1264.8,352.2 1266.6,332.8 1268.7,334.4 1270.8,338.9 1272.6,361.9 1274.4,385.7 1276.3,405.6 1278.3,353.8 1280.4,301.7 1282.2,299.3 1284.1,294.8 1285.9,292.9 1287.8,323.1 1289.6,353.7 1291.4,384.9 1294.2,316.3 1296.3,338.4 1298.3,361.5 1301.1,284.6 1303.8,344.9 1305.7,321.9 1307.5,301.8 1309.3,279.1 1311.1,315 1312.8,346.3 1314.9,317.2 1316.9,291.5 1318.7,294.3 1320.4,292 1321.9,321.8 1323.5,352.4 1325,383.5 1327.8,364.5 1329.1,382.2 1331.9,326.5 1333.5,310.5 1335.1,297.9 1336.7,290.1 1338.8,357.3 1341.5,302.5 1343.6,351.8 1345.4,338.6 1347.3,320.7 1349.1,308 1350.8,322.8 1352.6,334.8 1354.6,358.5 1356.7,382.2 1358.8,368.6 1360.8,354.1 1362.4,328.7 1364.1,298.4 1365.7,270.8 1367.7,344.9 1370.5,281.8 1372.6,340.8 1374.6,306.8 1376.7,284.6 1379.4,350.5 1381.1,326.3 1382.7,310.1 1384.3,287.4 1387,388.5 1388.7,396.5 1390.5,397.3 1392.2,356.6 1393.9,316.3 1395.8,331.5 1397.6,346.7 1399.4,365.6 1400.8,302.5 1402.9,322.6 1404.9,340.8 1406.3,256.2 1408.2,251.4 1410,250.8 1411.8,251.5 1414.6,271.4 1416.7,351.3 1418.3,354.5 1419.9,357.3 1421.5,360.1 1424.2,305.3 1427,303.1 1428.7,321.7 1430.4,343.1 1432.2,358.1 1433.9,379.4 1435.6,343.6 1437.3,312.2 1439.4,350.5 1441,338.1 1442.5,327.3 1444.1,314.9 1445.6,303.9 1447.3,309.1 1449.1,307.2 1451.1,376.7 1453.2,448.3 1455.9,428.5 1458.7,382.5 1460.5,385.8 1462.4,385.8 1464.2,389 1466.3,327.3 1467.9,330.4 1469.5,331.5 1471.1,334.8 1472.9,344.3 1474.8,358.3 1476.6,365.6 1478.5,344.9 1480.3,328.5 1482.1,305.3 1484.2,330.7 1486.3,358.7 1488.3,323.6 1490.4,290.1 1492.1,311.3 1493.8,324.1 1495.6,344.8 1497.3,367 1499.4,294.8 1500.9,285.4 1502.5,276.8 1504,267.5 1505.6,257 1507.6,325.6 1509.5,302.2 1511.3,277.3 1513.1,257 1515.9,382.2 1517.6,330.1 1519.3,275 1521.2,317.5 1523,356.3 1524.9,400.1 1527.6,321.8 1529.3,346.4 1531.1,373.9 1532.8,395.2 1534.5,419.4 1536.2,355.6 1538,296.2 1539.8,286.8 1541.7,279.1" fill="none" stroke="#0000ff" stroke-width="7.800000000000001" stroke-linejoin="round" stroke-linecap="round"/>
<polyline points="911.5,629.1 912.3,631.4 913.1,628.4 913.9,631 914.7,628.9 915.5,629 916.3,630.8 917.1,628.5 917.9,628.5 918.7,630.9 919.5,630.9 920.3,629.2 921.1,631.1 921.9,629.1 922.7,631.5 923.5,628.8 924.3,631.4 925.1,628.6 925.9,630.9 926.7,628.6 927.5,630.8 928.3,629 929.1,630.9 929.9,629.2 930.7,630.7 931.5,628.6 932.3,631.3 933.1,628.9 933.9,630.9 934.7,628.8 935.5,630.9 936.3,627.7 937.1,631.4 937.9,630.8 938.7,629.2 939.5,631.3 940.3,628.7 941.1,631.4 941.9,631.5 942.7,628.4 943.5,628.7 944.3,628.7 945.1,631.2 945.9,628.5 946.7,631 947.5,631.2 948.3,629 949.1,631.2 949.9,628.7 950.7,631.2 951.5,628.4 952.3,629.1 953.1,631.4 953.9,628.5 954.7,630.9 955.5,629.2 956.3,631.9 957.1,629.1 957.9,631.9 958.7,628.4 959.5,631.2 960.3,629.2 961.1,631.1 961.9,631 962.7,629.2 963.5,633 964.3,629 965.1,628.5 965.9,631.6 966.7,628.7 967.5,630.9 968.3,628.6 969.1,631 969.9,629.3 970.7,631.2 971.5,631.5 972.3,631.4 973.1,628.9 973.9,631.5 974.7,629.1 975.5,631.2 976.3,628.9 977.1,631 977.9,629.1 978.7,631 979.5,629.1 980.3,631.1 981.1,628.5 981.9,628.7 982.7,631.3 983.5,628.9 984.3,631.2 985.1,627.7 985.9,628.8 986.7,629 987.5,631.3 988.3,628.9 989.1,631.4 989.9,629.1 990.7,631.1 991.5,628.8 992.3,630.9 993.1,627.2 993.9,632.6 994.7,628.7 995.5,631.6 996.3,628.8 997.1,631 997.9,629.1 998.7,628.9 999.5,631.2 1000.3,628.8 1001.1,630.7 1001.9,631.3 1002.7,628.9 1003.5,631.5 1004.3,628.7 1005.1,630.8 1005.9,628.8 1006.7,631 1007.5,629 1008.3,629.2 1009.1,631.5 1009.9,629 1010.7,630.9 1011.5,628.7 1012.3,631.1 1013.1,628.8 1013.9,631.1 1014.7,629.1 1015.5,630.9 1016.3,627.8 1017.1,631.1 1017.9,628.9 1018.7,631.1 1019.5,630.8 1020.3,629.2 1021.1,631 1021.9,628.9 1022.7,631.6 1023.5,628.7 1024.3,631.5 1025.1,628.8 1025.9,631.3 1026.7,628.7 1027.5,631.3 1028.3,628.6 1029.1,631.3 1029.9,628.9 1030.7,630.9 1031.5,629.2 1032.3,631 1033.1,628.4 1033.9,630.8 1034.7,628.8 1035.5,627.4 1036.3,631.6 1037.1,629 1037.9,630.8 1038.7,628.7 1039.5,632.6 1040.3,628.8 1041.1,630.9 1041.9,628.9 1042.7,631 1043.5,628.9 1044.3,631.1 1045.1,629 1045.9,631 1046.7,629.1 1047.5,631 1048.3,629.1 1049.1,628.8 1049.9,631.5 1050,630 1053,626 1056,630 1056.3,632.1 1057.1,628.7 1057.9,631.5 1058.7,629 1059.5,631.2 1060.3,631.1 1061.1,628.8 1061.9,631.1 1062.7,631.3 1063.5,628.4 1064.3,627.1 1065.1,631.4 1065.9,629.1 1066.7,631.2 1067.5,628.5 1068.3,630.8 1069.1,629 1069.9,631.4 1070.7,628.8 1071.5,631.3 1072.3,629.2 1073.1,629.3 1073.9,630.9 1074.7,628.4 1075.5,630.9 1076.3,631.4 1077.1,629.2 1077.9,628.5 1078.7,631 1079.5,628.8 1080.3,630.8 1081.1,628.5 1081.9,631.2 1082.7,628.5 1083.5,631.2 1084.3,628.5 1085.1,631 1085.9,628.8 1086.7,631 1087.5,628.8 1088.3,628.8 1089.1,631.5 1089.9,631.5 1090.7,629.1 1091.5,631 1092.3,629.3 1093.1,630.9 1093.9,628.8 1094.7,630.9 1095.5,631.5 1096.3,631.5 1097.1,628.4 1097.9,631.5 1098.7,628.5 1099.5,631.3 1100.3,628.7 1101.1,628.7 1101.9,628.6 1102.7,631.6 1103.5,629.1 1104.3,631 1105.1,627.9 1105.9,630.8 1106.7,628.6 1107.5,631.3 1108.3,628.7 1109.1,631.2 1109.9,628.8 1110.7,631 1111.5,628.6 1112.3,630.8 1113.1,628.9 1113.9,630.9 1114.7,629.2 1115.5,630.7 1116.3,631 1117.1,629.2 1117.9,628.9 1118.7,630.9 1119.5,628.6 1120.3,631.3 1121.1,630.9 1121.9,630.8 1122.7,630.8 1123.5,628.8 1124.3,631.3 1125.1,628.5 1125.9,631.5 1126.7,628.7 1127.5,633 1128.3,628.4 1129.1,628.7 1129.9,631.5 1130.7,628.8 1131.5,631.5 1132.3,629.2 1133.1,630.8 1133.9,628.5 1134.7,630.9 1135.5,629 1136.3,631.2 1137.1,628.9 1137.9,629 1138.7,631.4 1139.5,629 1140.3,631.1 1141.1,629.1 1141.9,629 1142.7,631.5 1143.5,628.5 1144.3,630.7 1145.1,628.6 1145.9,629.1 1146.7,631 1147.5,628.8 1148.3,631.4 1149.1,628.4 1149.9,630.8 1150.7,628.4 1151.5,631.6 1152.3,631.1 1153.1,628.8 1153.9,631.6 1154.7,628.7 1155.5,630.9 1156.3,628.6 1157.1,631.3 1157.9,628.9 1158.7,631.1 1159.5,628.9 1160,630 1163,626 1166,630 1166.7,628.5 1167.5,631.2 1168.3,628.8 1169.1,630.8 1169.9,628.9 1170.7,630.8 1171.5,629.2 1172.3,631.3 1173.1,629.2 1173.9,631 1174.7,628.8 1175.5,630.8 1176.3,627.6 1177.1,631 1177.9,628.4 1178.7,631 1179.5,628.7 1180.3,630.8 1181.1,628.8 1181.9,631.1 1182.7,629.1 1183.5,631.5 1184.3,628.6 1185.1,631.3 1185.9,632.7 1186.7,628.8 1187.5,630.9 1188.3,628.7 1189.1,631.2 1189.9,629.2 1190.7,628.9 1191.5,631.4 1192.3,628.6 1193.1,631.6 1193.9,628.7 1194.7,631.1 1195.5,628.8 1196.3,631.1 1197.1,627.3 1197.9,630.8 1198.7,629.2 1199.5,628.8 1200.3,631.1 1201.1,628.7 1201.9,631.2 1202.7,629.1 1203.5,631.5 1204.3,627.3 1205.1,631.1 1205.9,628.6 1206.7,629 1207.5,631.5 1208.3,628.7 1209.1,628.9 1209.9,631.2 1210.7,628.9 1211.5,631.4 1212.3,627.6 1213.1,631.5 1213.9,628.9 1214.7,629.3 1215.5,631.3 1216.3,629.2 1217.1,631 1217.9,628.8 1218.7,631.2 1219.5,632.5 1220.3,628.4 1221.1,631.5 1221.9,629 1222.7,631.1 1223.5,627.3 1224.3,632.2 1225.1,628.9 1225.9,631.2 1226.7,628.8 1227.5,628.6 1228.3,629.3 1229.1,631.5 1229.9,627.5 1230.7,631.3 1231.5,628.4 1232.3,629.1 1233.1,631.5 1233.9,628.7 1234.7,631.3 1235.5,628.4 1236.3,631.3 1237.1,630.9 1237.9,629.2 1238.7,630.8 1239.5,629 1240.3,631.5 1241.1,628.8 1241.9,631.1 1242.7,628.8 1243.5,631 1244.3,631.9 1245.1,628.8 1245.9,631 1246.7,628.6 1247.5,631.3 1248.3,628.6 1249.1,630.8 1249.9,629.1 1250.7,631.4 1251.5,629 1252.3,631 1253.1,628.5 1253.9,631.3 1254.7,628.9 1255.5,631.5 1256.3,628.6 1257.1,630.9 1257.9,628.8 1258.7,631.1 1259.5,630.9 1260.3,628.5 1261.1,631.3 1261.9,629.2 1262.7,631.1 1263.5,628.7 1264.3,631 1265.1,630.8 1265.9,629.1 1266.7,631.2 1267.5,628.6 1268.3,631.5 1269.1,628.6 1269.9,631.4 1270.7,628.6 1271.5,631.1 1272.3,627.4 1273.1,631 1273.9,628.5 1274.7,630.9 1275.5,628.7 1276.3,631.5 1277.1,628.9 1277.9,631.2 1278.7,629.1 1279.5,631.3 1280.3,629.1 1281.1,629.1 1281.9,631.3 1282.7,631.6 1283.5,628.8 1284.3,630.8 1285.1,628.9 1285.9,631.4 1286.7,628.9 1287.5,631.4 1288.3,629.1 1289.1,631.2 1289.9,631.4 1290.7,628.7 1291.5,630.9 1292.3,630.8 1293.1,629.1 1293.9,631.3 1294.7,628.8 1295.5,631.1 1296.3,628.7 1297.1,630.8 1297.9,630.8 1298.7,628.7 1299.5,631.4 1300.3,631.5 1301.1,628.5 1301.9,631.3 1302.7,629.2 1303.5,630.8 1304.3,628.9 1305.1,630.9 1305.9,628.4 1306.7,631.4 1307.5,629 1308.3,631.2 1309.1,630.8 1309.9,629.1 1310.7,630.7 1311.5,629.1 1312.3,628.8 1313.1,628.5 1313.9,631.4 1314.7,629.1 1315.5,630.9 1316.3,629.2 1317.1,631.2 1317.9,629 1318.7,631.4 1319.5,629 1320.3,631.1 1321.1,628.5 1321.9,631 1322.7,629.2 1323.5,630.9 1324.3,628.7 1325.1,630.9 1325.9,628.8 1326.7,630.8 1327.5,628.8 1328.3,631.1 1329.1,628.6 1329.9,631.5 1330.7,627.3 1331.5,631.6 1332.3,628.5 1333.1,631 1333.9,628.6 1334.7,631.4 1335.5,629 1336.3,631 1337.1,628.9 1337.9,630.9 1338.7,629.2 1339.5,630.9 1340.3,628.9 1341.1,631.4 1341.9,629 1342.7,631.5 1343.5,629 1344.3,631 1345.1,628.5 1345.9,631.3 1346.7,628.5 1347.5,631.3 1348.3,631.5 1349.1,632.8 1349.9,627.8 1350.7,631.6 1351.5,631.5 1352.3,628.6 1353.1,629.2 1353.9,631.5 1354.7,629.1 1355.5,631.4 1356.3,629 1357.1,630.7 1357.9,631 1358.7,628.6 1359.5,628.7 1360.3,629 1361.1,631.6 1361.9,628.5 1362.7,632.9 1363.5,628.5 1364.3,631.5 1365.1,629.1 1365.9,628.6 1366.7,632.8 1367.5,629 1368.3,630.9 1369.1,629.2 1369.9,630.8 1370.7,629.2 1371.5,629.1 1372.3,632.9 1373.1,629.1 1373.9,631.3 1374.7,629 1375.5,629.1 1376.3,631.1 1377.1,629.3 1377.9,631.5 1378.7,629.1 1379.5,631.1 1380.3,629.3 1381.1,631.2 1381.9,628.5 1382.7,628.7 1383.5,631.3 1384.3,628.6 1385.1,631.2 1385.9,628.8 1386.7,628.5 1387.5,630.7 1388.3,629 1389.1,631.2 1389.9,628.6 1390.7,630.9 1391.5,628.5 1392.3,629 1393.1,628.8 1393.9,631.2 1394.7,628.8 1395.5,630.8 1396.3,628.8 1397.1,629.1 1397.9,631 1398.7,630.8 1399.5,631 1400.3,628.7 1401.1,631.5 1401.9,628.7 1402.7,627.7 1403.5,631.5 1404.3,628.7 1405.1,630.8 1405.9,629 1406.7,631 1407.5,628.9 1408.3,630.9 1409.1,629.2 1409.9,630.7 1410.7,631.4 1411.5,629.1 1412.3,630.8 1413.1,628.8 1413.9,631.3 1414.7,628.8 1415.5,631 1416.3,630.7 1417.1,629.3 1417.9,629.1 1418.7,630.8 1419.5,629 1420.3,631.2 1421.1,631.2 1421.9,628.8 1422.7,631.1 1423.5,629.1 1424.3,630.9 1425.1,629.2 1425.9,629.3 1426.7,630.7 1427.5,628.7 1428.3,628.8 1429.1,630.8 1429.9,628.6 1430.7,631.1 1431.5,631.5 1432.3,629.2 1433.1,632 1433.9,628.8 1434.7,631.3 1435.5,629.1 1436.3,632.1 1437.1,631.5 1437.9,631 1438.7,629.1 1439.5,631.5 1440.3,628.7 1441.1,630.9 1441.9,628.9 1442.7,629.1 1443.5,631.1 1444.3,629.1 1445.1,631.2 1445.9,629 1446.7,631 1447.5,628.6 1448.3,632.5 1449.1,631.2 1449.9,629 1450.7,631.5 1451.5,629.2 1452.3,631.2 1453.1,629.2 1453.9,631.4 1454.7,629.1 1455.5,631.2 1456.3,629.2 1457.1,630.8 1457.9,628.9 1458.7,629.3 1459.5,631.5 1460.3,629.1 1461.1,631.3 1461.9,629.2 1462.7,633 1463.5,628.7 1464.3,630.8 1465.1,628.6 1465.9,631.1 1466.7,631.5 1467.5,629 1468.3,630.9 1469.1,631.2 1469.9,629.2 1470.7,631.6 1471.5,629.3 1472.3,631.4 1473.1,628.8 1473.9,631.9 1474.7,629 1475.5,630.9 1476.3,629 1477.1,631.5 1477.9,631.1 1478.7,629 1479.5,632 1480.3,628.9 1481.1,631.1 1481.9,628.5 1482.7,631.3 1483,629 1486,623 1489,629 1489.1,628.4 1489.9,631.5 1490.7,628.6 1491.5,629.1 1492.3,630.9 1493.1,628.8 1493.9,628.9 1494.7,628.8 1495.5,630.8 1496.3,628.8 1497.1,631.4 1497.9,628.6 1498.7,631.6 1499.5,628.5 1500.3,630.8 1501.1,629 1501.9,631.3 1502.7,629 1503.5,632.7 1504.3,629.1 1505.1,631.6 1505.9,628.7 1506.7,629.1 1507.5,629.1 1508.3,628.8 1509.1,631.3 1509.9,629.2 1510.7,631 1511.5,629.1 1512.3,631.1 1513.1,629.1 1513.9,631.5 1514.7,627.9 1515.5,631.3 1516.3,628.5 1517.1,629.2 1517.9,627.9 1518.7,630.8 1519.5,628.8 1520.3,631.3 1521.1,628.4 1521.9,631.6 1522.7,628.8 1523.5,631.5 1524.3,629 1525.1,631.2 1525.9,630.8 1526.7,628.5 1527.5,631.5 1528.3,629.2 1529.1,630.8 1529.9,629.3 1530.7,631.4 1531.5,629.1 1532.3,631.6 1533.1,629.1 1533.9,630.8 1534.7,629.1 1535.5,631.4 1536.3,628.5 1537.1,631 1537.9,628.9 1538.7,631.6 1539.5,628.9 1540.3,627.3 1541.1,631.2 1541.9,628.5 1542.7,630.9 1543.5,631" fill="none" stroke="#ff0000" stroke-width="7.4" stroke-linejoin="round" stroke-linecap="round"/>
<rect x="1281" y="468.2" width="253" height="132.4" fill="#fff" stroke="#1e1e1e" stroke-width="1.4"/>
<line x1="1291" y1="493" x2="1392" y2="493" stroke="#00ff00" stroke-width="6.4"/>
<line x1="1291" y1="534.5" x2="1392" y2="534.5" stroke="#0000ff" stroke-width="6.4"/>
<line x1="1291" y1="576" x2="1392" y2="576" stroke="#ff0000" stroke-width="6.4"/>
<text x="1398.3" y="505.5" class="lg">Right</text>
<text x="1398.3" y="547.1" class="lg">Forward</text>
<text x="1398.3" y="588.3" class="lg">Up</text>
<rect x="918" y="1015.6" width="627" height="419" fill="none" stroke="#1e1e1e" stroke-width="1.5"/>
<path d="M918 1434.6v-6.5M918 1015.6v6.5M1127 1434.6v-6.5M1127 1015.6v6.5M1336 1434.6v-6.5M1336 1015.6v6.5M1545 1434.6v-6.5M1545 1015.6v6.5M918 1434.3h6.5M1545 1434.3h-6.5M918 1334.7h6.5M1545 1334.7h-6.5M918 1235.1h6.5M1545 1235.1h-6.5M918 1135.5h6.5M1545 1135.5h-6.5M918 1036h6.5M1545 1036h-6.5" stroke="#1e1e1e" stroke-width="1.5" fill="none"/>
<text x="918" y="1482.8" text-anchor="middle" class="t">292200</text>
<text x="1127" y="1482.8" text-anchor="middle" class="t">293200</text>
<text x="1336" y="1482.8" text-anchor="middle" class="t">294200</text>
<text x="1545" y="1482.8" text-anchor="middle" class="t">295200</text>
<text x="903.2" y="1447.6" text-anchor="end" class="t">-0.5</text>
<text x="903.2" y="1348" text-anchor="end" class="t">0</text>
<text x="903.2" y="1248.4" text-anchor="end" class="t">0.5</text>
<text x="903.2" y="1148.8" text-anchor="end" class="t">1</text>
<text x="903.2" y="1049.3" text-anchor="end" class="t">1.5</text>
<polyline points="918.5,1335.3 919.1,1345.1 919.7,1335.7 920.3,1345.2 920.9,1335.8 921.5,1351.6 922.1,1333.1 922.7,1345.9 923.3,1335.5 923.9,1347.2 924.5,1333.7 925.1,1345.8 925.7,1337.2 926.3,1336.7 926.9,1348.7 927.5,1330.8 928.1,1347.2 928.7,1334.2 929.3,1350.6 929.9,1326.7 930.5,1348.9 931.1,1337 931.7,1348.3 932.3,1338 932.9,1349.6 933.5,1334.7 934.1,1349.8 934.7,1335.3 935.3,1349.1 935.9,1338.6 936.5,1348 937.1,1329.9 937.7,1351.6 938.3,1338 938.9,1353.2 939.5,1340.1 940.1,1339.9 940.7,1352.5 941.3,1342.2 941.9,1355.7 942.5,1345 943.1,1357 943.7,1346.6 944.3,1355.2 944.9,1344.9 945.5,1365.1 946.1,1343.4 946.7,1343.9 947.3,1353.5 947.9,1343.5 948.5,1342.8 949.1,1352.1 949.7,1357.4 950.3,1334.4 950.9,1351.2 951.5,1331.4 952.1,1352.2 952.7,1337.8 953.3,1349.4 953.9,1335.4 954.5,1346.7 955.1,1335 955.7,1348.1 956.3,1335.7 956.9,1347.7 957.5,1346 958.1,1338.1 958.7,1329 959.3,1348.7 959.9,1346.9 960.5,1338.3 961.1,1347.6 961.7,1349.8 962.3,1336.3 962.9,1348.5 963.5,1337.9 964.1,1348 964.7,1337.1 965.3,1351.5 965.9,1335.6 966.5,1346.9 967.1,1336.6 967.7,1349.7 968.3,1335.3 968.9,1345.9 969.5,1336.6 970.1,1346.7 970.7,1335 971.3,1347.3 971.9,1336 972.5,1337.3 973.1,1348.1 973.7,1336.5 974.3,1333.9 974.9,1347.5 975.5,1347.9 976.1,1336.8 976.7,1346.8 977.3,1336.2 977.9,1349.4 978.5,1335 979.1,1348.7 979.7,1337.2 980.3,1348.2 980.9,1336.2 981.5,1345.7 982.1,1335.6 982.7,1346.6 983.3,1346.2 983.9,1336.8 984.5,1345.5 985.1,1333.6 985.7,1331.6 986.3,1345 986.9,1333.8 987.5,1347.5 988,1338 988.1,1337.8 988.7,1316.7 989.3,1300.7 989.5,1298 989.9,1296 990.5,1300 990.5,1300 991.1,1340.8 991.5,1364 991.7,1363.1 992.3,1348.7 992.9,1343.4 993,1340 993.5,1348.2 994.1,1334.6 994.7,1348.2 995.3,1336.7 995.9,1346.2 996.5,1333.3 997.1,1346.2 997.7,1336.9 998.3,1347.5 998.9,1333.6 999.5,1348.3 1000.1,1335 1000.7,1348.8 1001.3,1335 1001.9,1344.8 1002.5,1336.7 1003.1,1347.1 1003.7,1348.4 1004.3,1346.5 1004.9,1337.3 1005.5,1348.1 1006.1,1348.3 1006.7,1334 1007.3,1344.7 1007.9,1347.1 1008.5,1335.9 1009.1,1347.7 1009.7,1333.7 1010.3,1348.5 1010.9,1333.4 1011.5,1344.8 1012.1,1334.4 1012.7,1346.7 1013.3,1335.2 1013.9,1344.5 1014.5,1333.2 1015.1,1344.7 1015.7,1345.5 1016.3,1336.6 1016.9,1348.1 1017.5,1334.2 1018.1,1336.6 1018.7,1346.8 1019.3,1334 1019.9,1333.2 1020.5,1347.4 1021.1,1334.6 1021.7,1348.4 1022.3,1335.9 1022.9,1347.2 1023.5,1345.7 1024.1,1336.7 1024.7,1336.8 1025.3,1346.3 1025.9,1334.5 1026.5,1353.6 1027.1,1333.5 1027.7,1345.7 1028.3,1333.7 1028.9,1346.2 1029.5,1326.7 1030.1,1346 1030.7,1325.5 1031.3,1344.3 1031.9,1336.1 1032.5,1335.8 1033.1,1347.8 1033.7,1332.9 1034.3,1332.4 1034.9,1332.4 1035.5,1344.7 1036.1,1334 1036.7,1336.1 1037.3,1344.1 1037.9,1335.3 1038.5,1347 1039.1,1335.6 1039.7,1346.9 1040.3,1347.9 1040.9,1333 1041.5,1333.5 1042.1,1347.9 1042.7,1334.3 1043.3,1346 1043.9,1334.3 1044.5,1345.8 1045.1,1333.3 1045.7,1346.7 1046.3,1325.6 1046.9,1343.7 1047.5,1334.1 1048.1,1347.8 1048.7,1333.6 1049.3,1349.4 1049.9,1336.3 1050.5,1344.5 1051.1,1346.3 1051.7,1336 1052.3,1344.3 1052.9,1333.7 1053.5,1345.1 1054.1,1347.1 1054.7,1334.1 1055.3,1347.2 1055.9,1332.6 1056.5,1347.4 1057.1,1332.6 1057.7,1344.6 1058.3,1332.8 1058.9,1345.7 1059.5,1334.2 1060.1,1332.7 1060.7,1346.1 1061.3,1335.5 1061.9,1344.3 1062.5,1335.3 1063.1,1346.3 1063.7,1334.9 1064.3,1332 1064.9,1335.2 1065.5,1346.4 1066.1,1333.2 1066.7,1334.1 1067.3,1344.1 1067.9,1332.4 1068.5,1344.9 1069.1,1331.9 1069.7,1346.1 1070.3,1335.2 1070.9,1352.7 1071.5,1332 1072.1,1344.5 1072.7,1331.5 1073,1340 1073.3,1344.5 1073.9,1359.4 1074.4,1373 1074.5,1373.4 1075.1,1355.8 1075.7,1347.7 1076,1340 1076.3,1332.8 1076.9,1346.3 1077.5,1344.4 1078.1,1346.9 1078.7,1333.4 1079.3,1344.9 1079.9,1334.2 1080.5,1347.2 1081.1,1332.5 1081.7,1347 1082.3,1333.5 1082.9,1332.4 1083.5,1343 1084.1,1334.7 1084.7,1344.3 1085.3,1333 1085.9,1344.8 1086.5,1333.6 1087.1,1344.2 1087.7,1344.5 1088.3,1326.5 1088.9,1345 1089.5,1334.5 1090.1,1343 1090.7,1333.8 1091.3,1345.4 1091.9,1345.5 1092.5,1331.3 1093.1,1345.1 1093.7,1332.1 1094.3,1352.4 1094.9,1334.5 1095.5,1346.3 1096.1,1332.3 1096.7,1344.8 1097.3,1335.3 1097.9,1346.8 1098.5,1334.6 1099.1,1346.9 1099.7,1333.1 1100.3,1335.2 1100.9,1353.8 1101.5,1332.9 1102.1,1345.6 1102.7,1331.6 1103.3,1346 1103.9,1345.9 1104.5,1342.7 1105.1,1331.2 1105.7,1351.5 1106.3,1332.4 1106.9,1345.8 1107.5,1331 1108.1,1345 1108.7,1332.5 1109.3,1346.4 1109.9,1331.6 1110.5,1338 1110.5,1338 1111.1,1326.7 1111.7,1309 1112,1305 1112.3,1325.4 1112.9,1358.5 1113,1367 1113.5,1360.1 1114.1,1343.2 1114.5,1338 1114.7,1342.6 1115.3,1331.9 1115.9,1344.5 1116.5,1334.9 1117.1,1344.2 1117.7,1325.6 1118.3,1342.4 1118.9,1330.7 1119.5,1342.3 1120.1,1331.3 1120.7,1344.3 1121.3,1331.3 1121.9,1344.2 1122.5,1343.9 1123.1,1332.2 1123.7,1343.4 1124.3,1331.9 1124.9,1343 1125.5,1324.1 1126.1,1344.4 1126.7,1330.8 1127.3,1345.4 1127.9,1334.6 1128.5,1344.9 1129.1,1344 1129.7,1332.3 1130.3,1343.4 1130.9,1331.3 1131.5,1342.6 1132.1,1332.1 1132.7,1345.5 1133.3,1330.7 1133.9,1344.7 1134.5,1333.7 1135.1,1346 1135.7,1330.4 1136.3,1344.8 1136.9,1344.4 1137.5,1330.7 1138.1,1342.9 1138.7,1333.1 1139.3,1330.6 1139.9,1344.4 1140.5,1330.7 1141.1,1343.9 1141.7,1330.5 1142.3,1351.5 1142.9,1333.4 1143.5,1343.7 1144.1,1343.7 1144.7,1334.1 1145.3,1342.6 1145.9,1332.4 1146.5,1342.8 1147.1,1327.5 1147.7,1326.1 1148.3,1337.8 1148.9,1321.4 1149.5,1333.2 1150.1,1322.3 1150.7,1332.1 1151.3,1322.3 1151.9,1333.5 1152.5,1314.6 1153.1,1333.4 1153.7,1322 1154.3,1333.6 1154.9,1318.7 1155.5,1330.6 1156.1,1335.4 1156.7,1318.2 1157.3,1332.8 1157.9,1321.2 1158.5,1333.1 1159.1,1319.4 1159.7,1331.4 1160.3,1312.4 1160.9,1330.5 1161.5,1333.1 1162.1,1321.1 1162.7,1340.6 1163.3,1319.7 1163.9,1331.2 1164.5,1319.8 1165.1,1336.2 1165.7,1320.7 1166.3,1338.9 1166.9,1318.2 1167.5,1329.7 1168.1,1336.3 1168.7,1320.9 1169.3,1331.4 1169.9,1322 1170.5,1331.7 1171.1,1310.9 1171.7,1333 1172.3,1321.3 1172.9,1321.1 1173.5,1332.6 1174.1,1320.1 1174.7,1329.9 1175.3,1318.8 1175.9,1330.2 1176.5,1318.6 1177.1,1333.5 1177.7,1320.8 1178.3,1332.1 1178.9,1318.6 1179.5,1330.2 1180.1,1322.4 1180.7,1332.6 1181.3,1321.3 1181.9,1331.6 1182.5,1332.7 1183.1,1319.7 1183.7,1320.6 1184.3,1332.3 1184.9,1329.6 1185.5,1319.8 1186.1,1333.5 1186.7,1320.6 1187.3,1329.7 1187.9,1321.9 1188.5,1332.3 1189.1,1321 1189.7,1331.4 1190.3,1321.5 1190.9,1333.1 1191.5,1322.3 1192.1,1319.6 1192.7,1332.9 1193.3,1318.8 1193.9,1333.9 1194.5,1331.6 1195.1,1318.3 1195.7,1333.2 1196.3,1319.4 1196.9,1329.9 1197.5,1320.9 1198.1,1331.5 1198.7,1322.3 1199.3,1333.6 1199.9,1332.5 1200.5,1319.7 1201.1,1332.8 1201.7,1319 1202.3,1339.4 1202.9,1319.6 1203.5,1333.2 1204.1,1329.9 1204.7,1321.2 1205.3,1329.7 1205.9,1322.1 1206.5,1330.6 1207.1,1343.2 1207.7,1322.6 1208.3,1335.6 1208.9,1324.8 1209.5,1338 1210.1,1322.8 1210.7,1339.4 1211.3,1330.2 1211.9,1343 1212.5,1330.2 1213.1,1334.7 1213.7,1344 1214.3,1342.5 1214.9,1334.4 1215.5,1332.4 1216.1,1344.5 1216.7,1333.2 1217.3,1345.8 1217.9,1335.6 1218.5,1345.4 1219.1,1333.2 1219.7,1333.7 1220.3,1343.9 1220.9,1334.3 1221.5,1345.3 1222.1,1333 1222.7,1347.4 1223.3,1334.4 1223.9,1349 1224.5,1345.2 1225.1,1333.7 1225.7,1334.6 1226.3,1347.2 1226.9,1337.1 1227.5,1348.9 1228.1,1338.6 1228.7,1346.5 1229.3,1338.6 1229.9,1336.5 1230.5,1349.5 1231.1,1329 1231.7,1347.7 1232.3,1337.2 1232.9,1350.7 1233.5,1337.6 1234.1,1352 1234.7,1340.7 1235.3,1351.4 1235.9,1338.4 1236.5,1350.4 1237.1,1339.3 1237.7,1338.6 1238.3,1340.5 1238.9,1349.4 1239.5,1340.7 1240.1,1352.7 1240.7,1338.7 1241.3,1353.7 1241.9,1335.7 1242.5,1351.7 1243.1,1334.8 1243.7,1353.5 1244.3,1354.5 1244.9,1339.4 1245.5,1342.9 1246.1,1340.3 1246.7,1341.1 1247.3,1354.7 1247.9,1340.3 1248.5,1354.2 1249.1,1344.7 1249.7,1354.6 1250.3,1340.7 1250.9,1354.9 1251.5,1345.2 1252.1,1344.1 1252.7,1341.6 1253.3,1356.8 1253.9,1342.3 1254.5,1355.5 1255.1,1346 1255.7,1354.3 1256.3,1337.9 1256.9,1342.9 1257.5,1364.6 1258.1,1355.3 1258.7,1344.3 1259.3,1343.8 1259.9,1356.2 1260.5,1344.7 1261.1,1354.8 1261.7,1346.2 1262.3,1354.1 1262.9,1344.2 1263.5,1361.7 1264.1,1356.2 1264.7,1343.4 1265.3,1358.4 1265.9,1346.3 1266.5,1363.6 1267.1,1346 1267.7,1358.1 1268.3,1345.4 1268.9,1344.3 1269.5,1361.6 1270.1,1344.5 1270.7,1356.1 1271.3,1336.5 1271.9,1355.2 1272.5,1345.6 1273.1,1355.2 1273.7,1357.8 1274.3,1344.5 1274.9,1343.6 1275.5,1344.8 1276.1,1358.5 1276.7,1344.1 1277.3,1356.1 1277.9,1345.4 1278.5,1346 1279.1,1356.4 1279.7,1344.5 1280.3,1343.8 1280.9,1356.3 1281.5,1343.2 1282.1,1354.7 1282.7,1347.4 1283.3,1354.8 1283.9,1344.8 1284.5,1358.2 1285.1,1357.3 1285.7,1346 1286.3,1357.6 1286.9,1343.9 1287.5,1358.1 1288.1,1343.5 1288.7,1359.3 1289.3,1358.5 1289.9,1358.4 1290.5,1343.9 1291.1,1355.5 1291.7,1347.2 1292.3,1357.7 1292.9,1347.6 1293.5,1359.3 1294.1,1344 1294.7,1344.9 1295.3,1359.1 1295.9,1340.7 1296.5,1357.6 1297.1,1345.3 1297.7,1358.6 1298.3,1346.3 1298.9,1357.8 1299.5,1344.3 1300.1,1344.6 1300.7,1357.3 1301.3,1346.1 1301.9,1355.8 1302.5,1346.6 1303.1,1355.9 1303.7,1344.1 1304.3,1356.1 1304.9,1357.9 1305.5,1346.1 1306.1,1356.2 1306.7,1343.2 1307.3,1342.8 1307.9,1340.9 1308.5,1339.6 1309.1,1349.3 1309.7,1337.6 1310.3,1348 1310.9,1336.3 1311.5,1350.3 1312.1,1331.2 1312.7,1344 1313.3,1344.4 1313.9,1330 1314.5,1341.8 1315.1,1330.6 1315.7,1349.7 1316.3,1333.9 1316.9,1343.5 1317.5,1334 1318.1,1344 1318.7,1330.5 1319.3,1343.7 1319.9,1333.3 1320.5,1342.8 1321.1,1331.4 1321.7,1343 1322.3,1332 1322.9,1333 1323.5,1330.3 1324.1,1341.7 1324.7,1332.2 1325.3,1345.1 1325.9,1333.6 1326.5,1341.6 1327.1,1331.5 1327.7,1343.9 1328.3,1342.8 1328.9,1329.1 1329.5,1340.9 1330.1,1332.5 1330.7,1343 1331.3,1332.1 1331.9,1342.1 1332.5,1329.1 1333.1,1344 1333.7,1332.5 1334.3,1330.7 1334.9,1342.9 1335.5,1330.3 1336.1,1344.5 1336.7,1331.1 1337.3,1341.5 1337.9,1331.8 1338.5,1343.1 1339.1,1330.9 1339.7,1347.1 1340.3,1330.6 1340.9,1340.5 1341.5,1330.1 1342.1,1343.5 1342.7,1330.6 1343.3,1347 1343.9,1329.5 1344.5,1339.9 1345.1,1329.5 1345.7,1343.9 1346.3,1330 1346.9,1340.4 1347.5,1343.5 1348.1,1332.1 1348.7,1342 1349.3,1329.8 1349.9,1337.8 1350.5,1314 1351.1,1330.4 1351.7,1317.7 1352.3,1329.2 1352.9,1312.2 1353.5,1328.4 1354.1,1314.1 1354.7,1329.5 1355.3,1317.1 1355.9,1329.1 1356.5,1310.1 1357.1,1316.7 1357.7,1326.5 1358.3,1314.1 1358.9,1328.9 1359.5,1316 1360.1,1327.1 1360.7,1314.7 1361.3,1327.8 1361.9,1327.7 1362.5,1315.6 1363.1,1326.4 1363.7,1317.4 1364.3,1326.8 1364.9,1314.4 1365.5,1326.4 1366.1,1317.2 1366.7,1327.8 1367.3,1326.2 1367.9,1315.9 1368.5,1329.2 1369.1,1317.7 1369.7,1335.9 1370.3,1314.7 1370.9,1327 1371.5,1316 1372.1,1315.1 1372.7,1316.6 1373.3,1327.4 1373.9,1317.8 1374.5,1326.8 1375.1,1314.1 1375.7,1327.6 1376.3,1317.2 1376.9,1329.5 1377.5,1311.9 1378.1,1326.6 1378.7,1326.3 1379.3,1318.3 1379.9,1328.9 1380.5,1314.8 1381.1,1329.1 1381.7,1327.3 1382.3,1315.2 1382.9,1327.5 1383.5,1318.3 1384.1,1326.5 1384.7,1314.1 1385.3,1328.2 1385.9,1316.5 1386.5,1328.9 1387.1,1314.5 1387.7,1326.5 1388.3,1316.4 1388.9,1328.6 1389.5,1317.4 1390.1,1329 1390.7,1314.2 1391.3,1327.5 1391.9,1314.6 1392.5,1326.3 1393.1,1315.1 1393.7,1328.2 1394.3,1315.9 1394.9,1314.4 1395.5,1317.4 1396.1,1329.5 1396.7,1316 1397.3,1314.1 1397.9,1328.8 1398.5,1315.3 1399.1,1328.9 1399.7,1326.3 1400.3,1308.4 1400.9,1329.4 1401.5,1314.1 1402.1,1328.4 1402.7,1315.3 1403.3,1326.6 1403.9,1316.6 1404,1322 1404.5,1311.7 1405.1,1304.3 1405.5,1296 1405.7,1301.9 1406.3,1307.9 1406.9,1318 1407,1322 1407.5,1316.4 1408.1,1318.2 1408.7,1325.9 1409.3,1317.4 1409.9,1329.1 1410.5,1314.4 1411.1,1326.1 1411.7,1314.1 1412.3,1325.9 1412.9,1317.6 1413.5,1315.7 1414.1,1315 1414.7,1329.1 1415.3,1317.8 1415.9,1329.1 1416.5,1317.1 1417.1,1318.2 1417.7,1315.7 1418.3,1329.1 1418.9,1318.2 1419.5,1319.4 1420.1,1333.4 1420.7,1322.7 1421.3,1335.4 1421.9,1325.7 1422.5,1346.6 1423.1,1326.6 1423.7,1340.2 1424.3,1329 1424.9,1331.5 1425.5,1332 1426.1,1345.4 1426.7,1332.3 1427.3,1342.1 1427.9,1332.5 1428.5,1342.6 1429.1,1331.9 1429.7,1344.6 1430.3,1331.8 1430.9,1331.7 1431.5,1346.1 1432.1,1332 1432.7,1343.8 1433.3,1334.2 1433.9,1345.1 1434.5,1331.2 1435.1,1342.8 1435.7,1325.3 1436.3,1353.7 1436.9,1334.5 1437.5,1333 1438.1,1343.2 1438.7,1335.3 1439,1340 1439.3,1325.6 1439.9,1311.8 1440.5,1287.4 1440.8,1279 1441.1,1283.8 1441.7,1300.2 1441.8,1300 1442.3,1347.4 1442.8,1400 1442.9,1392.7 1443.5,1365.5 1444,1345 1444.1,1335.3 1444.7,1345.6 1445.3,1330.1 1445.9,1347.3 1446.5,1335.8 1447.1,1352.1 1447.7,1338.5 1448.3,1352.8 1448.9,1333 1449.5,1355.1 1450.1,1345.3 1450.7,1354.9 1451.3,1344.3 1451.9,1356.4 1452.5,1342.7 1453.1,1353.9 1453.7,1346.2 1454.3,1359.6 1454.9,1338.8 1455.5,1344.6 1456.1,1356.5 1456.7,1343 1457.3,1344.8 1457.9,1345.1 1458.5,1355.6 1459.1,1345.3 1459.7,1354 1460.3,1340.2 1460.9,1354.4 1461.5,1345.9 1462.1,1356.2 1462.7,1344.7 1463.3,1355.7 1463.9,1354 1464.5,1343.1 1465.1,1354.7 1465.7,1344.5 1466.3,1342 1466.9,1357.5 1467.5,1354.9 1468.1,1345 1468.7,1355.4 1469.3,1343.6 1469.9,1345.9 1470.5,1343.3 1471.1,1357.2 1471.7,1343.6 1472.3,1345.7 1472.9,1354.2 1473.5,1345.1 1474.1,1344.4 1474.7,1362.5 1475.3,1343.1 1475.9,1356.9 1476.5,1342.4 1477.1,1356.1 1477.7,1344.8 1478.3,1355.1 1478.9,1345.5 1479.5,1355.6 1480.1,1346.2 1480.7,1344.5 1481.3,1354.7 1481.9,1344.2 1482.5,1355.2 1483.1,1343.4 1483.7,1357.6 1484.3,1345.1 1484.9,1356.7 1485.5,1344.9 1486.1,1357.1 1486.7,1345.1 1487.3,1356.3 1487.9,1342.8 1488.5,1364.3 1489.1,1344.8 1489.7,1355.5 1490.3,1337.1 1490.9,1364.2 1491.5,1344.2 1492.1,1357.5 1492.7,1345.9 1493.3,1353.6 1493.9,1355.1 1494.5,1344.5 1495.1,1354.9 1495.7,1335 1496.3,1355.9 1496.9,1343.5 1497.5,1355.8 1498.1,1354.4 1498.7,1342.3 1499.3,1357.5 1499.9,1344.3 1500.5,1361.2 1501.1,1344.8 1501.7,1354.6 1502.3,1342.2 1502.9,1344.4 1503.5,1357.1 1504.1,1344.3 1504.7,1357.5 1505.3,1354 1505.9,1342.3 1506.5,1353.8 1507.1,1342.7 1507.7,1357.3 1508.3,1344.6 1508.9,1354.4 1509.5,1343.7 1510.1,1345.1 1510.7,1355.6 1511.3,1344.8 1511.9,1359.6 1512.5,1352.1 1513.1,1342.9 1513.7,1350.2 1514.3,1341.2 1514.9,1349.6 1515.5,1337.1 1516.1,1348 1516.7,1336 1517.3,1348 1517.9,1337 1518.5,1356.3 1519.1,1336.2 1519.7,1345 1520.3,1332.8 1520.9,1346.3 1521.5,1335.7 1522.1,1334.3 1522.7,1347.1 1523.3,1332.2 1523.9,1335.1 1524.5,1333.8 1525.1,1347.4 1525.7,1334.9 1526.3,1345.9 1526.9,1332.9 1527.5,1346.9 1528.1,1335.9 1528.7,1333.6 1529.3,1332.5 1529.9,1345.2 1530.5,1332.3 1531.1,1347.2 1531.7,1334.6 1532.3,1347.2 1532.9,1334.8 1533.5,1345.7 1534.1,1333 1534.7,1345.6 1535.3,1325.8 1535.9,1343.7 1536.5,1333.5 1537.1,1345.3 1537.7,1334.4 1538.3,1345.7 1538.9,1333.6 1539.5,1346 1540.1,1334.3 1540.7,1345.5 1541.3,1333.8 1541.9,1346.1 1542.5,1325.2 1543.1,1334.3 1543.7,1344.7 1544.3,1336.2" fill="none" stroke="#00ff00" stroke-width="7.4" stroke-linejoin="round" stroke-linecap="round"/>
<polyline points="918.5,1058.8 919.1,1048.6 919.7,1058.8 920.3,1058.7 920.9,1051 921.5,1057.1 922.1,1049.4 922.7,1057.5 923.3,1048.9 923.9,1064.3 924.5,1050.1 925.1,1058 925.7,1048.9 926.3,1059.3 926.9,1048 927.5,1057.6 928.1,1048.6 928.7,1056.8 929.3,1047.5 929.9,1057.3 930.5,1062.9 931.1,1049.4 931.7,1058.1 932.3,1050.3 932.5,1054 932.9,1055 933.5,1060.7 934,1062 934.1,1059.6 934.7,1059.7 935.3,1053.8 935.5,1054 935.9,1056.6 936.5,1049 937.1,1058 937.7,1049.7 938.3,1056.4 938.9,1047.2 939.5,1058.1 940.1,1049.9 940.7,1065.3 941.3,1050.1 941.9,1059.2 942.5,1059.8 943.1,1047.5 943.7,1059.7 944.3,1058.5 944.9,1050 945.5,1056.2 946.1,1049 946.7,1058.1 947.3,1048.4 947.9,1056.8 948.5,1049.9 949.1,1059 949.7,1049.9 950,1056 950.3,1061 950.9,1064 951.5,1075.2 952,1077 952.1,1077.2 952.7,1068.5 953.3,1065 953.9,1055.1 954,1056 954.5,1041.6 955.1,1060.8 955.7,1047.5 956.3,1057.3 956.9,1048.8 957.5,1056.2 958.1,1049.9 958.7,1056.4 959.3,1049.5 959.9,1049.4 960.5,1057.6 961.1,1048.6 961.7,1057.8 962.3,1049.5 962.9,1056 963.5,1049.5 964.1,1058.5 964.7,1046.9 965.3,1056.8 965.5,1054 965.9,1055.2 966.5,1063.9 967,1066 967.1,1064.1 967.7,1062.4 968.3,1054 968.5,1054 968.9,1056.2 969.5,1047.3 970.1,1057.1 970.7,1048 971.3,1058.8 971.9,1046.9 972.5,1046.9 973.1,1055.9 973.7,1047.8 974.3,1048.6 974.9,1048.6 975.5,1058.4 976.1,1049.3 976.7,1058.6 977.3,1057.9 977.9,1046.6 978.5,1056.4 979.1,1042.3 979.7,1058.2 980.3,1048.1 980.9,1060.6 981.5,1048.8 982.1,1056.5 982.7,1046.4 983.3,1062.5 983.9,1046.1 984.5,1056.1 985.1,1048.9 985.7,1055.4 986.3,1047.5 986.9,1056.9 987.5,1039.7 988.1,1056.5 988.7,1048.7 989.3,1046.5 989.9,1057.2 990.5,1046.1 991.1,1058.3 991.7,1042.1 992.3,1055 992.9,1048.2 993.5,1046.2 994.1,1055.2 994.7,1048 995.3,1055.9 995.9,1047.3 996.5,1052 996.5,1052 997.1,1054.3 997.7,1064.7 998,1066 998.3,1065.2 998.9,1055.7 999.5,1052 999.5,1051.6 1000.1,1045.8 1000.7,1058 1001.3,1045.8 1001.9,1041.8 1002.5,1057.6 1003.1,1046.3 1003.7,1054.9 1004.3,1045.5 1004.9,1056.8 1005.5,1045.2 1006.1,1057 1006.7,1040.3 1007.3,1056.3 1007.9,1045.7 1008.5,1057.3 1009.1,1044.9 1009.7,1055.6 1010.3,1046.1 1010.9,1055.9 1011.5,1045.4 1012.1,1047.3 1012.7,1054.7 1013.3,1047 1013.9,1054.8 1014.5,1048 1015.1,1057.2 1015.7,1039.5 1016.3,1055.5 1016.9,1047.6 1017.5,1055.9 1018.1,1045.8 1018.7,1056.2 1019.3,1042.1 1019.9,1057.4 1020.5,1047.7 1021.1,1054.6 1021.7,1046.4 1022.3,1057 1022.9,1048 1023.5,1054.5 1024.1,1054.8 1024.7,1045 1025.3,1055.7 1025.9,1044.6 1026.5,1059 1027.1,1044.4 1027.7,1053.9 1028.3,1046.5 1028.9,1053.9 1029.5,1046.3 1030.1,1054.8 1030.7,1045.4 1031.3,1056.2 1031.9,1045.8 1032.5,1056.1 1033.1,1056.9 1033.7,1038.7 1034.3,1055.4 1034.9,1044.2 1035.5,1056.7 1036.1,1046.2 1036.7,1056.8 1037.3,1046.1 1037.9,1062.2 1038.5,1044.1 1039.1,1056.8 1039.7,1047.1 1040.3,1055.3 1040.9,1044.2 1041.5,1054.4 1042.1,1047.4 1042.7,1054.2 1043.3,1046.7 1043.9,1045.5 1044.5,1054.1 1045.1,1043.9 1045.7,1055 1046.3,1046.6 1046.9,1044 1047.5,1053.9 1048.1,1047.3 1048.7,1054.9 1049.3,1045 1049.9,1054.3 1050.5,1041.2 1051.1,1055.1 1051.7,1046 1052.3,1054 1052.9,1055.3 1053.5,1055.9 1054.1,1056.4 1054.7,1046.3 1055.3,1055.5 1055.9,1055.4 1056.5,1043.4 1057.1,1054.8 1057.7,1044.6 1058,1050 1058.3,1047.3 1058.9,1045.9 1059.5,1049.5 1060.1,1043.5 1060.7,1048.1 1061.3,1040.8 1061.9,1039.9 1062,1042 1062.5,1051.4 1063.1,1052 1063.7,1064.9 1064.3,1072.3 1064.4,1070 1064.9,1041.4 1065.4,1019 1065.5,1018.5 1066.1,1041.3 1066.5,1050 1066.7,1048.3 1067.3,1054.8 1067.9,1050.5 1068.5,1058.4 1069.1,1055.6 1069.7,1061.4 1070,1060 1070.3,1058 1070.9,1067.1 1071.5,1065 1072.1,1071.8 1072.7,1069.2 1073.3,1078.1 1073.9,1075 1074.4,1081 1074.5,1082.6 1075.1,1071.7 1075.7,1073.5 1076.3,1063.8 1076.9,1064.2 1077.5,1052.5 1078,1052 1078.1,1038 1078.7,1059.2 1079.3,1045.1 1079.9,1063.3 1080.5,1045.3 1081.1,1061 1081.7,1047.3 1082.3,1063.7 1082.9,1042.4 1083.5,1063.3 1084.1,1040.1 1084.7,1061.4 1085.3,1042.6 1085.9,1059.9 1086,1052 1086.5,1052.8 1087.1,1047.5 1087.7,1050.3 1088.3,1043.6 1088.9,1050 1089.5,1040.4 1090.1,1045.7 1090.5,1042 1090.7,1044.8 1091.3,1042.9 1091.9,1049.3 1092.5,1046.5 1093.1,1055.3 1093.7,1056 1094,1055 1094.3,1052.3 1094.9,1064.4 1095.5,1067.9 1096.1,1065.7 1096.7,1076.2 1097.3,1074.4 1097.9,1082.8 1098.5,1084 1098.5,1084 1099.1,1075.5 1099.7,1072.1 1100.3,1072.3 1100.9,1062.8 1101.5,1062.9 1102,1056 1102.1,1073.8 1102.7,1064.7 1103.3,1046.8 1103.9,1061.2 1104.5,1065.3 1105.1,1061.5 1105.7,1045.7 1106.3,1063.1 1106.9,1046.7 1107.5,1065.5 1108.1,1041.6 1108.7,1066.5 1109.3,1050.1 1109.9,1063.2 1110.5,1048.6 1111.1,1062.9 1111.7,1047.9 1112.3,1064.1 1112.9,1065.1 1113.5,1049.1 1114.1,1075.1 1114.7,1062.2 1115.3,1046.8 1115.9,1066.5 1116.5,1064.1 1117.1,1046.8 1117.7,1064.1 1118.3,1046.7 1118.9,1071.1 1119.5,1049.8 1120.1,1062.4 1120.7,1045.2 1121.3,1066 1121.9,1046.3 1122.5,1061 1123.1,1064.9 1123.7,1046.9 1124.3,1061 1124.9,1046.3 1125.5,1062.6 1126.1,1045 1126.7,1063.1 1127.3,1047.7 1127.9,1045.5 1128.5,1041.4 1129.1,1061 1129.7,1049.6 1130.3,1062.1 1130.9,1050.6 1131.5,1065.2 1132.1,1050.6 1132.7,1061.3 1133.3,1046.6 1133.9,1051 1134.5,1061.3 1135.1,1066.6 1135.7,1049.3 1136.3,1047 1136.9,1065 1137.5,1045.9 1138.1,1065.8 1138.7,1048.4 1139.3,1065.9 1139.9,1047 1140.5,1062.1 1141.1,1047.8 1141.7,1062.5 1142.3,1045.8 1142.9,1064.4 1143.5,1048.5 1144,1056 1144.1,1053 1144.7,1068.6 1145.3,1068.1 1145.9,1076.8 1146.5,1090.9 1146.6,1088 1147.1,1084.1 1147.7,1077 1148.3,1061.8 1148.9,1060.4 1149,1056 1149.5,1064.4 1150.1,1047.9 1150.7,1065.8 1151.3,1048.4 1151.9,1066.2 1152.5,1045 1153.1,1067.2 1153.7,1048.4 1154.3,1062.8 1154.9,1050.1 1155.5,1069 1156.1,1043.4 1156.7,1068.3 1157.3,1046 1157.9,1066.3 1158.5,1049.9 1159.1,1073 1159.7,1048.4 1160.3,1063.6 1160.9,1049.9 1161.5,1066.1 1162.1,1046.6 1162.7,1065.5 1163.3,1037.2 1163.9,1065.8 1164.5,1047.8 1165.1,1073 1165.7,1048.1 1166.3,1050 1166.9,1068 1167.5,1047 1168.1,1062.5 1168.7,1049.8 1169.3,1068.3 1169.9,1065.3 1170.5,1044.4 1171.1,1066.1 1171.7,1067.5 1172.3,1048.6 1172.9,1063.2 1173.5,1056 1173.5,1056 1174.1,1026.6 1174.2,1026 1174.7,1100 1174.7,1100 1175.2,1142 1175.3,1127.7 1175.9,1070.3 1176,1056 1176.5,1068.7 1177.1,1049.3 1177.7,1062.5 1178.3,1049.5 1178.9,1048.5 1179.5,1079.9 1180.1,1048.4 1180.7,1065 1181.3,1047.9 1181.9,1065.6 1182.5,1046.5 1183.1,1065.1 1183.7,1046 1184.3,1067.8 1184.9,1044.8 1185.5,1078.1 1186.1,1045.4 1186.7,1065.6 1187.3,1064 1187.9,1064.9 1188.5,1043.5 1189.1,1065.1 1189.7,1048.9 1190.3,1064.3 1190.9,1043.2 1191.5,1043.6 1192.1,1067.8 1192.7,1049.2 1193.3,1066.1 1193.9,1048.2 1194.5,1046.6 1195.1,1066 1195.7,1044.3 1196,1056 1196.3,1057.4 1196.9,1070.2 1197.5,1072.5 1198.1,1088.4 1198.7,1092 1198.7,1092 1199.3,1079.8 1199.9,1074.1 1200.5,1074 1201.1,1062.3 1201.5,1060 1201.7,1047.2 1202.3,1067.6 1202.9,1051.2 1203.5,1070.5 1204.1,1068.8 1204.7,1055.8 1205.3,1068.2 1205.9,1056.9 1206.5,1058.6 1207.1,1072.9 1207.7,1060.3 1208.3,1069.4 1208.9,1061.1 1209.5,1070.9 1210.1,1058.5 1210.7,1069.1 1211.3,1059 1211.9,1058 1212.5,1071.3 1213.1,1060.3 1213.7,1069 1214.3,1060.3 1214.9,1070.2 1215.5,1060.7 1216.1,1070.6 1216.7,1058.3 1217.3,1069.6 1217.9,1072.4 1218.5,1060.3 1219.1,1069.4 1219.7,1072.9 1220.3,1059.9 1220.9,1062.1 1221.5,1072.7 1222.1,1058.4 1222.7,1071.4 1223.3,1078.1 1223.9,1059.3 1224.5,1072.9 1225.1,1061.4 1225.7,1070.9 1226.3,1059.8 1226.9,1070.9 1227.5,1059.6 1228.1,1071.3 1228.7,1061.4 1229.3,1061.2 1229.9,1069.7 1230.5,1059.1 1231.1,1069.8 1231.7,1062.7 1232.3,1070.5 1232.9,1062.3 1233.5,1071 1234.1,1059.4 1234.7,1070.6 1235.3,1059.7 1235.9,1071.4 1236.5,1069.8 1237.1,1063.1 1237.7,1071.1 1238.3,1060.2 1238.9,1073.4 1239.5,1058.6 1240.1,1056.7 1240.7,1073 1241.3,1073.4 1241.9,1060.5 1242.5,1070.3 1243.1,1061.6 1243.7,1071.9 1244.3,1062.1 1244.9,1074 1245.5,1063.7 1246.1,1070.7 1246.7,1061.7 1247.3,1062.8 1247.9,1072.8 1248.5,1073 1249,1068 1249.1,1070.8 1249.7,1074.7 1250.3,1086.1 1250.9,1095.1 1251,1093 1251.5,1087.9 1252.1,1078.8 1252.7,1066.1 1253,1064 1253.3,1060.4 1253.9,1072.6 1254.5,1052 1255.1,1086 1255.7,1051.3 1256.3,1067.5 1256.9,1049.1 1257.5,1077.5 1258.1,1048.7 1258.7,1071.8 1259.3,1069.4 1259.9,1049.4 1260.5,1072.8 1261.1,1051.3 1261.7,1069.5 1262.3,1052.2 1262.9,1068 1263.5,1042.9 1264.1,1074.2 1264.7,1068.2 1265.3,1050.8 1265.9,1068.9 1266.5,1052.6 1267.1,1069 1267.7,1053.4 1268.3,1073.2 1268.9,1052.8 1269.5,1069.4 1270.1,1049.2 1270.7,1070.1 1271.3,1050 1271.9,1072.6 1272.5,1051.4 1273.1,1068.9 1273.7,1048.8 1274.3,1043.4 1274.9,1070.6 1275.5,1051.4 1276.1,1072 1276.7,1054.5 1277.3,1085.3 1277.9,1038.6 1278.5,1067.3 1279.1,1051.3 1279.7,1069.3 1280.3,1049 1280.9,1070.5 1281.5,1050.6 1282.1,1070.5 1282.7,1049.1 1283.3,1071.3 1283.9,1074.6 1284.5,1071.9 1285.1,1086.1 1285.7,1070.9 1286.3,1051.5 1286.9,1070.1 1287.5,1052.2 1288.1,1072.2 1288.7,1052.6 1289.3,1070.9 1289.9,1052.2 1290.5,1067.3 1291.1,1051 1291.7,1071.3 1292.3,1052.3 1292.9,1069.9 1293.5,1047 1294.1,1072.1 1294.7,1049.4 1295.3,1050.1 1295.9,1071.9 1296.5,1052 1297.1,1072.3 1297.7,1050 1298.3,1067.8 1298.9,1054.3 1299.5,1067.9 1300,1061 1300.1,1067.1 1300.7,1068.7 1301.3,1092.4 1301.9,1091.7 1302,1097 1302.5,1084.8 1303.1,1074.1 1303.7,1063.5 1304,1061 1304.3,1047.8 1304.9,1069 1305.5,1054 1306.1,1065.2 1306.7,1055 1307.3,1064.7 1307.9,1062.7 1308.5,1063.2 1309.1,1054.6 1309.7,1062.2 1310.3,1055 1310.9,1065.3 1311.5,1054.7 1312.1,1063 1312.7,1052.5 1313.3,1065.5 1313.9,1046.3 1314.5,1065.4 1315.1,1052.5 1315.7,1070.3 1316.3,1054.3 1316.9,1065.4 1317.5,1053.2 1318.1,1065.4 1318.7,1064.4 1319.3,1052.5 1319.9,1070.8 1320.5,1052.3 1321.1,1065.5 1321.7,1054.7 1322.3,1053.1 1322.9,1065.4 1323.5,1055.7 1324.1,1052.6 1324.7,1063.4 1325.3,1053.9 1325.9,1069.9 1326.5,1065.7 1327.1,1055.1 1327.7,1062.2 1328.3,1054.8 1328.9,1052.3 1329.5,1065.1 1330.1,1052.3 1330.7,1063.6 1331.3,1072 1331.9,1053.9 1332.5,1064.7 1333.1,1052.7 1333.7,1062.5 1334.3,1054.2 1334.9,1064.8 1335.5,1054.6 1336.1,1070.7 1336.7,1053.5 1337.3,1064.6 1337.9,1055.1 1338.5,1064.9 1339.1,1055.5 1339.7,1066 1340.3,1052.3 1340.9,1063.3 1341.5,1053.5 1342.1,1054.1 1342.7,1064.2 1343.3,1055.3 1343.9,1065.6 1344.5,1052.9 1345.1,1064.2 1345.7,1064.8 1346.3,1052.9 1346.9,1062.8 1347.5,1054.7 1348.1,1062.5 1348.7,1053.6 1349.3,1054.4 1349.9,1065.8 1350.5,1052 1351,1059 1351.1,1059 1351.7,1071.2 1352.3,1076 1352.9,1089.2 1353.3,1093 1353.5,1091.8 1354.1,1078.6 1354.7,1073.4 1355.3,1065.8 1355.5,1060 1355.9,1074.8 1356.5,1051.9 1357.1,1069.2 1357.7,1053 1358.3,1065.7 1358.9,1053 1359.5,1064.9 1360.1,1053.9 1360.7,1066.8 1361.3,1050.2 1361.9,1065.2 1362.5,1051.6 1363.1,1064.7 1363.7,1050.6 1364.3,1068.7 1364.9,1052.3 1365.5,1069 1366.1,1055.1 1366.7,1052.2 1367.3,1066.4 1367.9,1043.4 1368.5,1068.3 1369.1,1050.8 1369.7,1066.7 1370.3,1052.4 1370.9,1068.4 1371.5,1053.5 1372.1,1052.1 1372.7,1068.1 1373.3,1051.4 1373.9,1064.6 1374.5,1045.3 1375.1,1066.2 1375.7,1051.2 1376.3,1065.5 1376.9,1053.1 1377.5,1064.6 1378.1,1065.8 1378.7,1053.6 1379.3,1068.7 1379.9,1053.3 1380.5,1067.5 1381.1,1051.8 1381.7,1073.9 1382.3,1050.9 1382.9,1069.3 1383.5,1052.5 1384.1,1068.9 1384.7,1052.9 1385.3,1076.2 1385.9,1054.6 1386.5,1053.9 1387.1,1066.3 1387.7,1051.5 1388.3,1068.9 1388.9,1051.5 1389.5,1066.2 1390.1,1053.9 1390.7,1065.5 1391.3,1052.7 1391.9,1065.4 1392.5,1054.6 1393,1060 1393.1,1058.1 1393.7,1071.5 1394.3,1071.9 1394.9,1084.1 1395.5,1086.8 1396.1,1098.7 1396.4,1100 1396.7,1075.2 1397.3,1037.4 1397.4,1027 1397.9,1046.9 1398.4,1060 1398.5,1055.4 1399.1,1070.7 1399.7,1055.3 1400.3,1070 1400.9,1056.6 1401.5,1072.7 1402.1,1071.2 1402.7,1058.3 1403.3,1059.6 1403.9,1073.7 1404.5,1051.2 1405,1066 1405.1,1070.8 1405.7,1075.1 1406.3,1089.8 1406.9,1094.1 1407.5,1107 1407.5,1107 1408.1,1100.4 1408.7,1086.1 1409.3,1083.9 1409.9,1074 1410,1070 1410.5,1075.9 1411.1,1085 1411.7,1051.8 1412.3,1077.9 1412.9,1064 1413.5,1077.4 1414.1,1065.5 1414.7,1084.3 1415.3,1060.6 1415.9,1061.7 1416.5,1063.9 1417.1,1074.5 1417.7,1063.9 1418.3,1078 1418.9,1065 1419.5,1061.4 1420.1,1075.6 1420.7,1063.8 1421.3,1064.5 1421.9,1079.4 1422.5,1062.3 1423.1,1077.8 1423.7,1064.3 1424.3,1080 1424.9,1077.9 1425.5,1065 1426.1,1079.5 1426.7,1061.2 1427.3,1075.1 1427.9,1061.2 1428.5,1078.4 1429.1,1076.8 1429.7,1062.7 1430.3,1074.7 1430.9,1079.8 1431.5,1070 1431.5,1070 1432.1,1059.4 1432.5,1047 1432.7,1053.6 1433.3,1063.2 1433.5,1070 1433.9,1061.4 1434.5,1078.5 1435.1,1062.2 1435.7,1076.3 1436.3,1055.5 1436.9,1077.9 1437.5,1076 1438.1,1063.3 1438.7,1078.2 1439,1070 1439.3,1077.1 1439.9,1078.2 1440.5,1089 1440.5,1089 1441.1,1079.7 1441.7,1075.5 1442,1070 1442.3,1078.5 1442.9,1055.4 1443.5,1077.5 1444.1,1063.9 1444.7,1079.8 1445.3,1064.2 1445.9,1085.4 1446.5,1064.6 1447.1,1075.4 1447.7,1065 1448.3,1075.6 1448.9,1062.3 1449.5,1080 1450.1,1060.4 1450.7,1079.9 1451.3,1063.2 1451.9,1060.4 1452.5,1075.1 1453.1,1052.7 1453.7,1076.6 1454.3,1061 1454.9,1079.7 1455.5,1079.5 1456.1,1063.2 1456.7,1060.9 1457.3,1064.2 1457.9,1075 1458,1070 1458.5,1076.2 1459.1,1089.4 1459.6,1095 1459.7,1096.4 1460.3,1078.7 1460.9,1072.5 1461,1068 1461.5,1088 1462.1,1056 1462.7,1077.9 1463.3,1060.7 1463.9,1074.6 1464.5,1076.1 1465.1,1053.7 1465.7,1071.3 1466.3,1056 1466.9,1085.5 1467.5,1050.7 1468.1,1051.3 1468.7,1082.8 1469.3,1050 1469.9,1055.1 1470.5,1071.2 1471.1,1056 1471.7,1054.6 1472.3,1072.2 1472.9,1074.2 1473.5,1041.5 1474.1,1070.8 1474.7,1055 1475.3,1071.9 1475.9,1073.9 1476.5,1074.1 1477.1,1050.3 1477.7,1055.4 1478.3,1070.6 1478.9,1051.7 1479.5,1068.3 1480.1,1049.4 1480.7,1071.6 1481.3,1072.5 1481.9,1049.7 1482.5,1070.9 1483.1,1070.1 1483.7,1054.4 1484.3,1068.8 1484.9,1068.5 1485.5,1055.6 1486.1,1070 1486.7,1052.5 1487.3,1072.4 1487.9,1051 1488.5,1069.4 1489.1,1056.1 1489.7,1073.6 1490.3,1054.1 1490.9,1084.2 1491.5,1069.4 1492.1,1054 1492.7,1072.7 1493.3,1049.8 1493.9,1069.1 1494.5,1040 1495.1,1074.2 1495.7,1051.7 1496.3,1069 1496.9,1050.9 1497.5,1068.4 1498.1,1053.3 1498.7,1070.1 1499.3,1055.1 1499.9,1071.6 1500.5,1055.7 1501.1,1070.5 1501.7,1053.4 1502.3,1072.3 1502.9,1050.1 1503.5,1052.3 1504.1,1074.3 1504.7,1054.9 1505.3,1074.3 1505.9,1042.6 1506.5,1069.6 1507.1,1053.1 1507.7,1073.4 1508.3,1044.5 1508.9,1071 1509.5,1055.7 1510,1062 1510.1,1061.4 1510.7,1068.9 1511.3,1085.8 1511.9,1095.1 1512.5,1095.9 1512.7,1103 1513.1,1094.7 1513.7,1091.8 1514.3,1076.9 1514.9,1073.8 1515,1070 1515.5,1073.8 1516.1,1065.5 1516.7,1077.1 1517.3,1067.8 1517.9,1074.8 1518.5,1077.3 1519.1,1065.2 1519.7,1076.5 1520.3,1066.7 1520.9,1077 1521.5,1065.4 1522.1,1075.7 1522.7,1066.8 1523.3,1074.6 1523.9,1074.6 1524.5,1065.7 1525.1,1074.2 1525.7,1065.7 1526.3,1074.4 1526.9,1065.4 1527.5,1076.8 1528.1,1064.9 1528.7,1075.5 1529.3,1062.3 1529.9,1076.5 1530.5,1064.5 1531.1,1076.5 1531.7,1064.3 1532.3,1081.4 1532.9,1067.5 1533.5,1074.4 1534.1,1064.8 1534.7,1076.8 1535.3,1067 1535.9,1077.6 1536.5,1079.1 1537.1,1066.5 1537.7,1076.5 1538.3,1066.1 1538.9,1076.4 1539.5,1066.4 1540.1,1065.6 1540.7,1074.6 1541.3,1076.6 1541.9,1064.9 1542.5,1066.6 1543.1,1075 1543.7,1067.8 1544.3,1074.6" fill="none" stroke="#0000ff" stroke-width="7.800000000000001" stroke-linejoin="round" stroke-linecap="round"/>
<polyline points="918.5,1328.8 919.1,1346.8 919.7,1348.6 920.3,1326.5 920.9,1349.4 921.5,1325.9 922.1,1319.6 922.7,1346.3 923.3,1325.8 923.9,1324.5 924.5,1351 925.1,1324.3 925.7,1351.7 926.3,1327.4 926.9,1328.5 927.5,1358.1 928.1,1348.4 928.7,1361 929.3,1316.9 929.9,1350.3 930.5,1326.3 931.1,1347 931.7,1348.8 932.3,1329.1 932.9,1351.2 933.5,1327.9 934.1,1346.5 934.7,1345.2 935.3,1328 935.9,1345.8 936.5,1331.7 937.1,1350.8 937.7,1326.9 938.3,1347.3 938.9,1328.6 939.5,1344.4 940.1,1329.8 940.7,1348.2 941.3,1329.1 941.9,1351.3 942.5,1326.6 943.1,1349.9 943.7,1330 944.3,1347.8 944.9,1329.6 945.5,1360.8 946.1,1327 946.7,1351 947.3,1329.7 947.9,1344.2 948.5,1346.6 949.1,1325.4 949.7,1345.8 950.3,1328.7 950.9,1344.7 951.5,1326.1 952.1,1345.4 952.7,1326.2 953.3,1359.1 953.9,1330.4 954.5,1345.3 955.1,1331.2 955.7,1349.1 956.3,1326 956.9,1346.5 957.5,1344.9 958.1,1325.3 958.7,1349 959.3,1348.3 959.9,1328.7 960.5,1350.7 961.1,1316.6 961.7,1346.3 962.3,1325.7 962.9,1345.9 963.5,1326.6 964.1,1346.3 964.7,1346.8 965.3,1321.5 965.9,1349.1 966.5,1322.9 967.1,1348.5 967.7,1331.9 968.3,1326.4 968.9,1345.9 969.5,1328.1 970.1,1345.6 970.7,1331.7 971.3,1347.4 971.9,1328.5 972.5,1342.9 973.1,1348.5 973.7,1348.2 974.3,1330.4 974.9,1345.7 975.5,1332.6 976.1,1346.7 976.7,1330.2 977.3,1356.6 977.9,1330.4 978.5,1343.2 979.1,1331 979.7,1344.5 980.3,1330.2 980.9,1354 981.5,1332.1 982.1,1343.8 982.7,1331.6 983.3,1345.3 983.9,1331 984.5,1342.7 985.1,1344.7 985.7,1332.8 986.3,1346.4 986.9,1329.2 987.5,1342.1 988.1,1330.3 988.7,1330 989.3,1343.5 989.9,1331 990.5,1345.2 991.1,1333.2 991.7,1344.2 992.3,1333.6 992.9,1345.9 993.5,1330.5 994.1,1331 994.7,1343.3 995.3,1332.9 995.9,1345.4 996.5,1332.6 997.1,1342.9 997.7,1328.9 998.3,1329.2 998.9,1343.2 999.5,1332.6 1000.1,1346 1000.7,1346.4 1001.3,1342 1001.9,1329.1 1002.5,1346.5 1003.1,1330.9 1003.7,1345.2 1004.3,1333.1 1004.9,1345.4 1005.5,1329.6 1006.1,1342.6 1006.7,1326.3 1007.3,1344.4 1007.9,1330 1008.5,1345.9 1009.1,1332.3 1009.7,1344.5 1010.3,1330.2 1010.9,1346.5 1011.5,1333.3 1012.1,1330.1 1012.7,1346.3 1013.3,1332.3 1013.9,1344.1 1014.5,1332.4 1015.1,1342.1 1015.7,1330.4 1016.3,1342.4 1016.9,1329.3 1017.5,1332.8 1018.1,1342.6 1018.7,1329.9 1019.3,1344.7 1019.9,1329.2 1020.5,1344 1021.1,1333.6 1021.7,1345.9 1022.3,1332.2 1022.9,1342.5 1023.5,1343.3 1024.1,1333.4 1024.7,1330.1 1025.3,1343.2 1025.9,1329.8 1026.5,1346.5 1027.1,1343.1 1027.7,1349.2 1028.3,1342.2 1028.9,1331.7 1029.5,1343.7 1030.1,1328.9 1030.7,1342.1 1031.3,1331.2 1031.9,1342.8 1032.5,1330.7 1033.1,1332.9 1033.7,1343.1 1034.3,1331 1034.9,1343.4 1035.5,1345.3 1036.1,1332.2 1036.7,1350.1 1037.3,1331.9 1037.9,1345.1 1038.5,1332.2 1039.1,1342.9 1039.7,1329.7 1040.3,1345.4 1040.9,1344.9 1041.5,1333.3 1042.1,1346.2 1042.7,1331.9 1043.3,1344 1043.9,1330 1044.5,1346.2 1045.1,1330.8 1045.7,1344.7 1046.3,1331.9 1046.9,1317 1047.5,1346.6 1048.1,1326.7 1048.7,1346.6 1049.3,1331.5 1049.9,1345.7 1050.5,1331.7 1051.1,1350 1051.7,1327.7 1052.3,1329.5 1052.9,1349.7 1053.5,1348.3 1054.1,1324.2 1054.7,1352.2 1055.3,1326.5 1055.9,1344.7 1056.5,1330.8 1057.1,1345 1057.7,1330.2 1058.3,1351.5 1058.9,1344.9 1059.5,1326.9 1060.1,1352.4 1060.7,1330.6 1061.3,1350.5 1061.9,1329.8 1062.5,1326.1 1063,1338 1063.1,1326.9 1063.7,1287.1 1064,1258 1064.3,1320.6 1064.8,1408 1064.9,1401.6 1065.5,1336.4 1065.6,1330 1066.1,1329.4 1066.7,1317.1 1067,1320 1067.3,1316.8 1067.9,1327.7 1068.5,1319.8 1069.1,1326.6 1069.7,1337.7 1070,1335 1070.3,1350.9 1070.9,1329.1 1071.5,1346.8 1072.1,1330.2 1072.7,1346.6 1073.3,1329.5 1073.9,1350.6 1074.5,1327.4 1075.1,1344.2 1075.7,1329.4 1076.3,1345.8 1076.9,1330 1077.5,1346.9 1078.1,1327.8 1078.7,1347.8 1079.3,1328.5 1079.9,1324.2 1080.5,1345.1 1081.1,1324.7 1081.7,1351.1 1082.3,1320.1 1082.9,1345.8 1083.5,1327.2 1084.1,1348.6 1084.7,1329.9 1085.3,1327.1 1085.9,1346.2 1086.5,1330.2 1087.1,1345.8 1087.7,1331.8 1088.3,1344.3 1088.9,1332.1 1089.5,1330.3 1090.1,1343.2 1090.7,1332.8 1091.3,1345.5 1091.9,1328.1 1092.5,1343.3 1093.1,1343.7 1093.7,1331.7 1094.3,1345.2 1094.9,1333 1095.5,1342.8 1096.1,1331.9 1096.7,1342.5 1097.3,1332.5 1097.9,1342.3 1098.5,1330.4 1099.1,1343 1099.7,1332 1100.3,1345.6 1100.9,1344.6 1101.5,1333.6 1102.1,1344.6 1102.7,1331 1103.3,1345.1 1103.9,1330.9 1104.5,1345.1 1105.1,1328.9 1105.7,1332.1 1106.3,1342.4 1106.9,1328.7 1107.5,1346.9 1108.1,1345.5 1108.7,1329.7 1109.3,1345.2 1109.9,1333.1 1110.5,1345.9 1111.1,1333.3 1111.7,1343.2 1112.3,1328.9 1112.9,1342.8 1113.5,1329.6 1114.1,1346.4 1114.7,1343.4 1115.3,1329.1 1115.9,1342.4 1116.5,1345 1117.1,1328.3 1117.7,1347 1118.3,1328.3 1118.9,1343.4 1119.5,1324.2 1120.1,1346.6 1120.7,1355.7 1121.3,1329.1 1121.9,1344.4 1122.5,1332.6 1123.1,1342.6 1123.7,1328.6 1124.3,1342.1 1124.9,1330.5 1125.5,1330.4 1126.1,1347.1 1126.7,1332.4 1127.3,1342.1 1127.9,1330.9 1128.5,1345.5 1129.1,1329.5 1129.7,1328.7 1130.3,1343.8 1130.9,1329 1131.5,1343.6 1132.1,1329.6 1132.7,1350.5 1133.3,1328.6 1133.9,1354.9 1134.5,1329.1 1135.1,1343.7 1135.7,1322.6 1136.3,1332.3 1136.9,1342.3 1137.5,1326 1138.1,1344.1 1138.7,1321.7 1139.3,1346.9 1139.9,1343.7 1140.5,1344.1 1141.1,1332.4 1141.7,1329.1 1142.3,1347.8 1142.9,1331.7 1143.5,1343.4 1144.1,1327.7 1144.7,1343.8 1145.3,1329.8 1145.9,1328.6 1146.5,1348.6 1147.1,1327.4 1147.7,1347.1 1148.3,1328.1 1148.9,1345.9 1149.5,1325.2 1150.1,1350.2 1150.7,1347.5 1151.3,1329.3 1151.9,1350.8 1152.5,1353.9 1153.1,1330.2 1153.7,1346.4 1154.3,1326 1154.9,1349.3 1155.5,1328.4 1156.1,1347.7 1156.7,1328.3 1157.3,1345.3 1157.9,1326.6 1158.5,1345.3 1159.1,1330.6 1159.7,1345.1 1160.3,1324.1 1160.9,1344.9 1161.5,1348.6 1162.1,1323.6 1162.7,1354.1 1163.3,1328 1163.9,1351.3 1164.5,1325.4 1165.1,1343.9 1165.7,1326.7 1166.3,1344.1 1166.9,1326 1167.5,1347.7 1168.1,1324.2 1168.7,1345.2 1169.3,1328 1169.9,1347.9 1170.5,1327.9 1171.1,1348.3 1171.7,1328.8 1172.3,1344.7 1172.9,1329.8 1173.5,1328.3 1174.1,1316.5 1174.7,1348.4 1175.3,1362.5 1175.9,1329.4 1176.5,1348.4 1177.1,1329.5 1177.7,1349.3 1178.3,1324.6 1178.9,1346.3 1179.5,1330.9 1180.1,1344.7 1180.7,1330 1181.3,1345.8 1181.9,1327 1182.5,1347 1183.1,1348.1 1183.7,1330.9 1184.3,1348.9 1184.9,1324.4 1185.5,1350.2 1186.1,1326.7 1186.7,1350.5 1187.3,1324.6 1187.9,1355 1188.5,1327.1 1189.1,1346.4 1189.7,1326.4 1190.3,1350.6 1190.9,1351.4 1191.5,1330.4 1192.1,1348.8 1192.7,1325.8 1193.3,1325.5 1193.9,1347.6 1194.5,1323.8 1195.1,1349.1 1195.7,1327.1 1196.3,1348.9 1196.9,1325.1 1197.5,1344 1198.1,1328.3 1198.7,1346.6 1199.3,1320.9 1199.9,1348.2 1200.5,1326 1201.1,1358.5 1201.7,1327.4 1202.3,1349.5 1202.9,1326.7 1203.5,1328.5 1204.1,1344.1 1204.7,1324.4 1205.3,1343.9 1205.9,1326.8 1206.5,1327.5 1207.1,1349.2 1207.7,1348.9 1208.3,1326.8 1208.9,1347.9 1209.5,1325.4 1210.1,1359.9 1210.7,1346.1 1211.3,1330.4 1211.9,1345.4 1212.5,1324.9 1213.1,1343.8 1213.7,1331.2 1214.3,1345.9 1214.9,1327.1 1215.5,1347.9 1216.1,1331 1216.7,1328.9 1217.3,1326.2 1217.9,1348.8 1218.5,1316.1 1219.1,1348.4 1219.7,1327.3 1220.3,1347.1 1220.9,1330.3 1221.5,1346.3 1222.1,1330.3 1222.7,1343 1223.3,1327.1 1223.9,1350.7 1224.5,1329.1 1225.1,1345.7 1225.7,1342.8 1226.3,1327.2 1226.9,1330.3 1227.5,1342.5 1228.1,1330.5 1228.7,1346.5 1229.3,1343.7 1229.9,1345.5 1230.5,1331.9 1231.1,1344.5 1231.7,1329.8 1232.3,1343.9 1232.9,1344.1 1233.5,1343 1234.1,1329.4 1234.7,1346.1 1235.3,1331.4 1235.9,1345.1 1236.5,1332.2 1237.1,1344.8 1237.7,1347.1 1238.3,1330.2 1238.9,1346.2 1239.5,1321.1 1240.1,1342.7 1240.7,1328.2 1241.3,1346.9 1241.9,1329.8 1242.5,1342.6 1243.1,1319.3 1243.7,1342.1 1244.3,1327.5 1244.9,1345 1245.5,1327.8 1246.1,1342.3 1246.7,1330.3 1247.3,1346.8 1247.9,1330.7 1248.5,1343.4 1249.1,1329.5 1249.7,1346.7 1250.3,1329.9 1250.9,1346.9 1251.5,1329.1 1252.1,1342.1 1252.7,1321.4 1253.3,1343.3 1253.9,1328 1254.5,1351.2 1255.1,1332.7 1255.7,1347.2 1256.3,1329.9 1256.9,1347 1257.5,1332.8 1258.1,1343.1 1258.7,1344.3 1259.3,1330.4 1259.9,1346.4 1260.5,1329.1 1261.1,1345.7 1261.7,1322.3 1262.3,1346 1262.9,1328.2 1263.5,1347.2 1264.1,1331.7 1264.7,1346 1265.3,1331.5 1265.9,1342.9 1266.5,1330.7 1267.1,1346.4 1267.7,1331.6 1268.3,1355.6 1268.9,1342.7 1269.5,1328.2 1270.1,1330.2 1270.7,1345.5 1271.3,1331.2 1271.9,1346.1 1272.5,1330.8 1273.1,1345.2 1273.7,1329.5 1274.3,1351.8 1274.9,1327.8 1275.5,1346.9 1276.1,1331.6 1276.7,1331.6 1277.3,1344.8 1277.9,1328.2 1278.5,1345.6 1279.1,1327.5 1279.7,1342 1280.3,1327.7 1280.9,1343.8 1281.5,1331.7 1282.1,1342.6 1282.7,1330.4 1283.3,1349.2 1283.9,1330.5 1284.5,1346.9 1285.1,1345.4 1285.7,1329 1286.3,1342.6 1286.9,1346.8 1287.5,1328.3 1288.1,1346.4 1288.7,1332.6 1289.3,1342.9 1289.9,1332.6 1290.5,1342.1 1291.1,1332.7 1291.7,1343.9 1292.3,1329.9 1292.9,1344.2 1293.5,1327.8 1294.1,1347.1 1294.7,1343.4 1295.3,1332.4 1295.9,1345.5 1296.5,1332.6 1297.1,1346.7 1297.7,1344.3 1298.3,1328.8 1298.9,1345.9 1299.5,1324.6 1300.1,1344.2 1300.7,1329.2 1301.3,1343.9 1301.5,1336 1301.9,1332.1 1302.5,1318.1 1303,1313 1303.1,1312.4 1303.7,1321.5 1304.3,1334.7 1304.5,1336 1304.9,1330.4 1305.5,1346 1306.1,1329.5 1306.7,1347.2 1307.3,1330.6 1307.9,1343.7 1308.5,1320.3 1309.1,1353.5 1309.7,1328.7 1310.3,1343.8 1310.9,1329.2 1311.5,1344.2 1312.1,1328.6 1312.7,1346.9 1313.3,1327.9 1313.9,1345.7 1314.5,1344 1315.1,1330.6 1315.7,1346.9 1316.3,1330 1316.9,1346.1 1317.5,1342.3 1318.1,1328.5 1318.7,1346.2 1319.3,1346.2 1319.9,1331 1320.5,1342.8 1321.1,1331.3 1321.7,1344.6 1322.3,1343.5 1322.9,1328.1 1323.5,1343.9 1324.1,1329.9 1324.7,1347.2 1325.3,1346.6 1325.9,1330.1 1326.5,1331.1 1327.1,1347.1 1327.7,1331.8 1328.3,1343.6 1328.9,1332.7 1329.5,1332.8 1330.1,1346.4 1330.7,1332.2 1331.3,1344.7 1331.9,1329.1 1332.5,1344.5 1333.1,1331 1333.7,1331 1334.3,1346.5 1334.9,1329.7 1335.5,1347.3 1336.1,1327.7 1336.7,1328.2 1337.3,1343.2 1337.9,1327.7 1338.5,1346.2 1339.1,1327.4 1339.7,1342.2 1340.3,1329.2 1340.9,1346.3 1341.5,1343.7 1342.1,1331 1342.7,1345.1 1343.3,1345.2 1343.9,1329.9 1344.5,1327.7 1345.1,1353.8 1345.7,1344.3 1346.3,1332.2 1346.9,1343.8 1347.5,1345.8 1348.1,1327.9 1348.7,1342.3 1349.3,1328.1 1349.9,1344 1350.5,1346.5 1351.1,1343.5 1351.7,1345.7 1352.3,1329.8 1352.9,1330.9 1353.5,1343.5 1354.1,1331.4 1354.7,1344.3 1355.3,1329.2 1355.9,1346.2 1356.5,1347 1357.1,1331.1 1357.7,1342.9 1358.3,1327.8 1358.9,1344.3 1359.5,1331.2 1360.1,1343.8 1360.7,1328 1361.3,1343.4 1361.9,1322.5 1362.5,1327.8 1363.1,1344.5 1363.7,1331 1364.3,1345.5 1364.9,1328 1365.5,1344.7 1366.1,1331.5 1366.7,1342.1 1367.3,1342.8 1367.9,1330.4 1368.5,1354.8 1369.1,1328.7 1369.7,1351.6 1370.3,1330.3 1370.9,1328 1371.5,1345.7 1372.1,1343.1 1372.7,1332.3 1373.3,1342.2 1373.9,1327.6 1374.5,1346 1375.1,1331.2 1375.7,1345.9 1376.3,1346.4 1376.9,1327.9 1377.5,1343.8 1378.1,1344.5 1378.7,1329.3 1379.3,1355 1379.9,1332.6 1380.5,1346 1381.1,1329.8 1381.7,1343.4 1382.3,1328 1382.9,1349.1 1383.5,1330.1 1384.1,1345.9 1384.7,1332.7 1385.3,1346.7 1385.9,1330.5 1386.5,1343.6 1387.1,1332.4 1387.7,1342.4 1388.3,1327.5 1388.9,1346 1389.5,1342 1390.1,1329.6 1390.7,1343.3 1391.3,1327.8 1391.9,1328.2 1392.5,1345.3 1393.1,1329.3 1393.7,1343.8 1394.3,1331.4 1394.9,1346.5 1395.5,1343.3 1396.1,1332.2 1396.7,1344.5 1397.3,1331.1 1397.9,1342 1398.5,1330.7 1399.1,1346.8 1399.7,1328.3 1400.3,1343 1400.9,1343.9 1401.5,1327.3 1402.1,1328.8 1402.7,1347.9 1403.3,1328.8 1403.9,1347.9 1404.5,1328.3 1405.1,1344.8 1405.7,1327.2 1406.3,1343.4 1406.9,1328.5 1407.5,1343 1408.1,1329.5 1408.7,1344 1409.3,1327.5 1409.9,1328.2 1410.5,1345.9 1411.1,1324.6 1411.7,1349.3 1412.3,1329 1412.9,1344.5 1413.5,1330.8 1414.1,1343.6 1414.7,1329.1 1415.3,1344.9 1415.9,1325.9 1416.5,1354.2 1417.1,1327.5 1417.7,1323.2 1418.3,1347.6 1418.9,1326.3 1419.5,1345.2 1420.1,1325.6 1420.7,1349.3 1421.3,1352 1421.9,1327.5 1422.5,1351 1423.1,1327.6 1423.7,1345 1424.3,1347.3 1424.9,1325.7 1425.5,1329.7 1426.1,1346.4 1426.7,1322.7 1427,1337 1427.3,1329.8 1427.9,1333.7 1428.5,1315.6 1429.1,1318.4 1429.5,1310 1429.7,1314.2 1430.3,1349.8 1430.9,1366.2 1431,1375 1431.5,1362 1432.1,1330.9 1432.7,1326.4 1433,1312 1433.3,1317.7 1433.9,1310.1 1434.5,1319.4 1435.1,1312.4 1435.7,1322 1436,1320 1436.3,1323 1436.9,1317.3 1437.5,1325.8 1438.1,1329.2 1438.7,1320.4 1439.3,1329.5 1439.9,1323.9 1440,1328 1440.5,1324.2 1441.1,1334.7 1441.7,1328.8 1442.3,1337.3 1442.9,1330.7 1443.5,1339.7 1444,1337 1444.1,1348.6 1444.7,1324.1 1445.3,1348.9 1445.9,1347.7 1446.5,1329.5 1447.1,1346.1 1447.7,1330.3 1448.3,1344.4 1448.9,1326.7 1449.5,1308.9 1450.1,1349.3 1450.7,1319.9 1451.3,1346.4 1451.9,1324.4 1452.5,1344.1 1453.1,1311 1453.7,1350.8 1454.3,1327.4 1454.9,1344.8 1455.5,1323 1456.1,1349.4 1456.7,1310.9 1457.3,1350.4 1457.9,1319.3 1458.5,1348.2 1459.1,1329.6 1459.7,1343.6 1460.3,1325.1 1460.9,1343.6 1461.5,1327.4 1462.1,1347.7 1462.7,1323.7 1463.3,1344.3 1463.9,1329.9 1464.5,1349.2 1465.1,1327.9 1465.7,1347.1 1466.3,1325.6 1466.9,1348.6 1467.5,1352.8 1468.1,1327.9 1468.7,1343.7 1469.3,1326 1469.9,1348.9 1470.5,1329.3 1471.1,1356.3 1471.7,1327.8 1472.3,1329.7 1472.9,1348.3 1473.5,1330.6 1474.1,1344.8 1474.7,1345.9 1475.3,1326.4 1475.9,1346.7 1476.5,1331.4 1477.1,1347.1 1477.7,1328.1 1478.3,1349 1478.9,1325.4 1479.5,1345.5 1480.1,1326 1480.7,1328 1481.3,1345.4 1481.9,1328.7 1482.5,1344.6 1483.1,1330.4 1483.7,1347.6 1484.3,1327.9 1484.9,1347.3 1485.5,1329.8 1486.1,1346.6 1486.7,1325.4 1487.3,1342.5 1487.9,1325.2 1488.5,1344.6 1489.1,1317.1 1489.7,1330.7 1490.3,1348.6 1490.9,1330.7 1491.5,1347.8 1492.1,1325.6 1492.7,1329.4 1493.3,1328.5 1493.9,1330.8 1494.5,1347.8 1495.1,1328.8 1495.7,1327.4 1496.3,1348.8 1496.9,1328.1 1497.5,1342.7 1498.1,1330.1 1498.7,1343.9 1499.3,1330.4 1499.9,1343.9 1500.5,1329.1 1501.1,1358 1501.7,1331.2 1502.3,1345.5 1502.9,1329.7 1503.5,1347.7 1504.1,1348.2 1504.7,1329.9 1505.3,1348.1 1505.9,1344.7 1506.5,1327.3 1507.1,1343.9 1507.7,1326.5 1508.3,1344.9 1508.9,1329.1 1509.5,1346.6 1510.1,1328.8 1510.7,1346.6 1511.3,1325.9 1511.9,1348.3 1512.5,1348.8 1513.1,1320.4 1513.7,1346.3 1514.3,1326.1 1514.9,1349 1515.5,1326.4 1516.1,1342.8 1516.7,1348.7 1517.3,1328.2 1517.9,1347.4 1518.5,1325.3 1519.1,1326 1519.7,1343.4 1520.3,1328.8 1520.9,1353.6 1521.5,1328.4 1522.1,1345.7 1522.7,1326.7 1523.3,1346.7 1523.9,1331.1 1524.5,1344.5 1525.1,1327.3 1525.7,1343.7 1526.3,1329.2 1526.9,1344.1 1527.5,1328.2 1528.1,1344.5 1528.7,1330 1529.3,1343.5 1529.9,1326 1530.5,1329.1 1531.1,1354.9 1531.7,1329.8 1532.3,1342.7 1532.9,1325.4 1533.5,1348.8 1534.1,1328.7 1534.7,1347.5 1535.3,1326.2 1535.9,1346 1536.5,1325.2 1537.1,1345.4 1537.7,1328.9 1538.3,1329.8 1538.9,1327.4 1539.5,1345.6 1540.1,1357.1 1540.7,1329.3 1541.3,1347.4 1541.9,1330.9 1542.5,1326.5 1543.1,1327.4 1543.7,1342.9 1544.3,1329.7" fill="none" stroke="#ff0000" stroke-width="7.4" stroke-linejoin="round" stroke-linecap="round"/>
<rect x="1279.6" y="1129" width="255.7" height="133.4" fill="#fff" stroke="#1e1e1e" stroke-width="1.4"/>
<line x1="1290.2" y1="1154.5" x2="1391.9" y2="1154.5" stroke="#00ff00" stroke-width="6.4"/>
<line x1="1290.2" y1="1196" x2="1391.9" y2="1196" stroke="#0000ff" stroke-width="6.4"/>
<line x1="1290.2" y1="1237.5" x2="1391.9" y2="1237.5" stroke="#ff0000" stroke-width="6.4"/>
<text x="1398.3" y="1167.1" class="lg">Right</text>
<text x="1398.3" y="1208" class="lg">Forward</text>
<text x="1398.3" y="1249.2" class="lg">Up</text>
<rect x="918" y="1812.3" width="627" height="400.3" fill="none" stroke="#1e1e1e" stroke-width="1.5"/>
<path d="M918 2212.6v-6.5M918 1812.3v6.5M1127 2212.6v-6.5M1127 1812.3v6.5M1336 2212.6v-6.5M1336 1812.3v6.5M1545 2212.6v-6.5M1545 1812.3v6.5M918 2197.4h6.5M1545 2197.4h-6.5M918 2120.2h6.5M1545 2120.2h-6.5M918 2043h6.5M1545 2043h-6.5M918 1965.8h6.5M1545 1965.8h-6.5M918 1888.6h6.5M1545 1888.6h-6.5M918 1811.4h6.5M1545 1811.4h-6.5" stroke="#1e1e1e" stroke-width="1.5" fill="none"/>
<text x="918" y="2260.8" text-anchor="middle" class="t">370500</text>
<text x="1127" y="2260.8" text-anchor="middle" class="t">371500</text>
<text x="1336" y="2260.8" text-anchor="middle" class="t">372500</text>
<text x="1545" y="2260.8" text-anchor="middle" class="t">373500</text>
<text x="903.2" y="2210.7" text-anchor="end" class="t">-0.5</text>
<text x="903.2" y="2133.5" text-anchor="end" class="t">0</text>
<text x="903.2" y="2056.3" text-anchor="end" class="t">0.5</text>
<text x="903.2" y="1979.1" text-anchor="end" class="t">1</text>
<text x="903.2" y="1901.9" text-anchor="end" class="t">1.5</text>
<text x="903.2" y="1824.7" text-anchor="end" class="t">2</text>
<polyline points="918.5,2098.3 919.1,2106.8 919.7,2100.2 920.3,2098.1 920.9,2106.4 921.5,2105.7 922.1,2099.6 922.7,2107.6 923.3,2105.9 923.9,2100.5 924.5,2106.3 925.1,2100.4 925.7,2100.3 926.3,2105.6 926.9,2100.4 927.5,2106.1 928.1,2100.6 928.7,2106.5 929.3,2107 929.9,2100.4 930.5,2106.6 931.1,2100.2 931.7,2107.4 932.3,2099.3 932.9,2107 933.5,2100.7 934.1,2105.4 934.7,2107.3 935.3,2100.4 935.9,2106.2 936.5,2093.4 937.1,2107 937.7,2099.2 938.3,2107.2 938.9,2098.5 939.5,2099.4 940.1,2099.5 940.7,2107.4 941.3,2098.2 941.9,2105.7 942.5,2099 943.1,2110.5 943.7,2099.7 944.3,2105.4 944.9,2100.3 945.5,2106.3 946.1,2098.1 946.7,2105.9 947.3,2098.2 947.9,2107 948.5,2099.1 949.1,2106.5 949.7,2099 950.3,2106.4 950.9,2099.4 951.5,2106.4 952.1,2098.2 952.7,2099.2 953.3,2106.2 953.9,2095.2 954.5,2106.4 955.1,2099.1 955.7,2105.6 956.3,2100.4 956.9,2110 957.5,2099.9 958.1,2105.8 958.7,2106.9 959.3,2099.5 959.9,2106.7 960.5,2095.4 961.1,2106.9 961.7,2099.7 962.3,2105.8 962.9,2096.3 963.5,2105.6 964.1,2098.2 964.7,2100.1 965.3,2106.3 965.9,2098.8 966.5,2107.1 967.1,2093.6 967.7,2106.8 968.3,2099.2 968.9,2098.9 969.5,2106.7 970.1,2100.5 970.7,2107 971.3,2098.2 971.9,2107.4 972.5,2100 973.1,2105.5 973.7,2097.9 974.3,2107 974.9,2100.1 975.5,2105.5 976.1,2094.2 976.7,2105.5 977.3,2095.3 977.9,2106 978.5,2098.5 979.1,2107.6 979.7,2099.3 980.3,2107.5 980.9,2105.9 981.5,2096.2 982.1,2106.3 982.7,2099.8 983.3,2099.2 983.9,2107.1 984.5,2098.5 985.1,2105.3 985.7,2105.4 986.3,2098.9 986.9,2112 987.5,2107.7 988.1,2099.5 988.7,2106.2 989.3,2099.7 989.9,2107.1 990.5,2099.8 991.1,2105.5 991.7,2099.7 992.3,2105.6 992.9,2098.3 993.5,2099.1 994.1,2109.2 994.7,2098.7 995.3,2105.9 995.9,2109.8 996.5,2098 997.1,2107.2 997.7,2098.9 998.3,2105.8 998.9,2098.9 999.5,2105.7 1000.1,2100 1000.7,2105 1001.3,2096.5 1001.9,2106.1 1002.5,2100.3 1003.1,2107.1 1003.7,2098.2 1004.3,2110.6 1004.9,2097.8 1005.5,2105.4 1006.1,2098.7 1006.7,2106.6 1007.3,2105.6 1007.9,2098.4 1008.5,2105.6 1009.1,2099.8 1009.7,2105.8 1010.3,2098.1 1010.9,2105 1011.5,2099 1012.1,2104.9 1012.7,2099.2 1013.3,2107.4 1013.9,2098.9 1014.5,2107.5 1015.1,2105.8 1015.7,2099.3 1016.3,2106.3 1016.9,2097.7 1017.5,2107.5 1018.1,2099.4 1018.7,2106.8 1019.3,2097.8 1019.9,2105 1020.5,2099 1021.1,2105.2 1021.7,2100.2 1022.3,2107.6 1022.9,2098.3 1023.5,2098.5 1024.1,2106.1 1024.7,2098.6 1025.3,2105.3 1025.9,2098.1 1026.5,2110.7 1027.1,2100 1027.7,2106.1 1028.3,2098.2 1028.9,2106 1029.5,2097.8 1030.1,2105.1 1030.7,2097.8 1031.3,2109.6 1031.9,2097.7 1032.5,2106.8 1033.1,2105.2 1033.7,2107.5 1034.3,2100.1 1034.9,2109.7 1035.5,2099.1 1036.1,2106.7 1036.7,2099.7 1037.3,2098.4 1037.9,2105.3 1038.5,2095.3 1039.1,2106.3 1039.7,2099.1 1040.3,2099.8 1040.9,2107.3 1041.5,2093.1 1042.1,2105.1 1042.7,2098.9 1043.3,2107.4 1043.9,2105.1 1044.5,2099.5 1045.1,2107.1 1045.7,2105.6 1046.3,2095.8 1046.9,2106 1047.5,2093.7 1048.1,2106.2 1048.7,2098.7 1049.3,2106 1049.9,2100.1 1050.5,2105.3 1051.1,2097.6 1051.7,2106.7 1052.3,2099.4 1052.9,2107 1053.5,2099.8 1054.1,2106.4 1054.7,2105.4 1055.3,2097.9 1055.9,2107.3 1056.5,2100.2 1057.1,2106.7 1057.7,2097.7 1058.3,2105.2 1058.9,2098.8 1059.5,2098.7 1060.1,2104.8 1060.7,2094.2 1061.3,2107.1 1061.9,2107.1 1062.5,2097.7 1063.1,2105.3 1063.7,2106 1064.3,2097.6 1064.9,2109.1 1065.5,2097.9 1066.1,2105.3 1066.7,2098.7 1067.3,2105.4 1067.9,2097.8 1068.5,2105 1069.1,2099.3 1069.7,2105.6 1070.3,2098.9 1070.9,2097.9 1071.5,2110.3 1072.1,2098.2 1072.7,2106.2 1073.3,2097.8 1073.9,2107.3 1074.5,2111 1075.1,2098.6 1075.7,2104.8 1076.3,2098.2 1076.9,2105.3 1077.5,2099.6 1078.1,2105.6 1078.7,2099.2 1079.3,2105.8 1079.9,2099.4 1080.5,2098.8 1081.1,2104.7 1081.7,2097.6 1082.3,2099.1 1082.9,2099 1083.5,2099.7 1084.1,2099.7 1084.7,2099 1085.3,2105.4 1085.9,2107.3 1086.5,2099.9 1087.1,2105.9 1087.7,2111.1 1088.3,2099.5 1088.9,2105.9 1089.5,2099.9 1090.1,2111.7 1090.7,2105.9 1091.3,2098.5 1091.9,2105.8 1092.5,2098.6 1093.1,2099.2 1093.7,2099.1 1094.3,2106.4 1094.9,2099 1095.5,2097.8 1096.1,2100.1 1096.7,2107.1 1097.3,2094 1097.9,2106.6 1098.5,2106.4 1099.1,2099.6 1099.7,2106.4 1100.3,2098.9 1100.9,2105.3 1101.5,2099.3 1102.1,2105.7 1102.7,2097.5 1103.3,2107.1 1103.9,2098 1104.5,2100 1105.1,2106 1105.7,2107.2 1106.3,2099.8 1106.9,2106.8 1107.5,2099.1 1108.1,2098.4 1108.7,2105.7 1109.3,2099.9 1109.9,2105.4 1110.5,2099.4 1111.1,2105.7 1111.7,2098.5 1112.3,2104.8 1112.9,2099.5 1113.5,2098.2 1114.1,2105 1114.7,2106.3 1115.3,2097.9 1115.9,2106.6 1116.5,2099.4 1117.1,2106.5 1117.7,2098.9 1118.3,2106.6 1118.9,2097.4 1119.5,2106 1120.1,2097.7 1120.7,2106.4 1121.3,2105.2 1121.9,2098.4 1122.5,2106.1 1123.1,2098.1 1123.7,2106.4 1124.3,2104.5 1124.9,2099.2 1125.5,2106.7 1126.1,2098.6 1126.7,2104.6 1127.3,2098 1127.9,2107.2 1128.5,2099.1 1129.1,2106.3 1129.7,2098.5 1130.3,2105.3 1130.9,2104.9 1131.5,2099 1132.1,2106.9 1132.7,2097.3 1133.3,2106.1 1133.9,2098.7 1134.5,2093 1135.1,2104.6 1135.7,2099.2 1136.3,2104.4 1136.9,2099.6 1137.5,2106.2 1138.1,2106.8 1138.7,2097.3 1139.3,2107 1139.9,2098.1 1140.5,2099.2 1141.1,2104.7 1141.7,2097.6 1142.3,2099.6 1142.9,2099.9 1143.5,2105.9 1144.1,2097.8 1144.7,2111.2 1145.3,2098 1145.9,2104.4 1146.5,2097.7 1147.1,2110.6 1147.7,2099.3 1148.3,2106.4 1148.9,2098.2 1149.5,2107 1150.1,2098.8 1150.7,2106.6 1151.3,2105.4 1151.9,2098.7 1152.5,2106.3 1153.1,2097.8 1153.7,2106.1 1154.3,2097.8 1154.9,2105 1155.5,2097.5 1156.1,2106.3 1156.7,2106.7 1157.3,2099.1 1157.9,2106.4 1158.5,2097.2 1159.1,2104.4 1159.7,2098.4 1160.3,2105.1 1160.9,2097.5 1161.5,2106.7 1162.1,2099.2 1162.7,2104.7 1163.3,2098.1 1163.9,2104.9 1164.5,2098.5 1165.1,2097.3 1165.7,2106.1 1166.3,2105.4 1166.9,2098.8 1167.5,2106.7 1168.1,2099.7 1168.7,2106.5 1169.3,2106 1169.9,2098.6 1170.5,2104.6 1171.1,2099.1 1171.7,2105.7 1172.3,2099.7 1172.9,2098.7 1173.5,2105.7 1174.1,2105 1174.7,2098.7 1175.3,2104.9 1175.5,2102 1175.9,2092.9 1176.5,2075 1177.1,2061.3 1177.5,2050 1177.7,2049.3 1178.3,2044.9 1178.8,2039 1178.9,2037.7 1179.5,2041.1 1180.1,2042.1 1180.7,2040.7 1181,2042 1181.3,2046.8 1181.9,2060.3 1182.5,2069.2 1183.1,2084.4 1183.5,2090 1183.7,2093.9 1184.3,2099.3 1184.9,2110 1185.5,2115.4 1186.1,2126.3 1186.5,2130 1186.7,2131.9 1187.3,2133.1 1187.9,2139 1188.5,2139.2 1189.1,2145.1 1189.7,2145.8 1190.3,2151.6 1190.7,2152 1190.9,2146.7 1191.5,2136.8 1192.1,2121.8 1192.7,2112.5 1193,2105 1193.3,2098.6 1193.9,2091.2 1194.5,2079.7 1195.1,2071.7 1195.7,2061 1195.7,2061 1196.3,2060.3 1196.9,2064.9 1197.5,2063.9 1198,2066 1198.1,2066.3 1198.7,2077.1 1199.3,2084 1199.9,2091 1200.5,2104.8 1201,2110 1201.1,2111.8 1201.7,2113.8 1202.3,2121.3 1202.9,2122.5 1203.5,2129 1204.1,2132.7 1204.7,2134.6 1205,2138 1205.3,2137.3 1205.9,2141.2 1206.5,2140.3 1207.1,2144 1207.7,2142.3 1208.3,2143.7 1208.7,2146 1208.9,2143.7 1209.5,2143.7 1210.1,2139.4 1210.7,2139.5 1211.3,2134.5 1211.9,2134.7 1212,2133 1212.5,2129.4 1213.1,2135.8 1213.7,2129.9 1214.3,2136.5 1214.9,2129.2 1215.5,2135.3 1216.1,2135.9 1216.7,2129.5 1217.3,2137.1 1217.9,2130.5 1218.5,2137.2 1219.1,2126.3 1219.7,2131.4 1220.3,2135.9 1220.9,2129.9 1221.5,2136.9 1222.1,2131 1222.7,2138 1223.3,2137.5 1223.9,2131.6 1224.5,2138 1225.1,2131.4 1225.7,2137 1226.3,2129.9 1226.9,2136.2 1227.5,2130 1228.1,2137.4 1228.7,2131.3 1229.3,2137.7 1229.9,2131.2 1230.5,2136.4 1231.1,2130.6 1231.7,2137.3 1232.3,2131.7 1232.9,2136.2 1233.5,2129.8 1234.1,2136.2 1234.7,2130.8 1235.3,2131.3 1235.9,2137.3 1236.5,2130.3 1237.1,2138.3 1237.7,2130.4 1238.3,2138.3 1238.9,2131.9 1239.5,2137.7 1240.1,2126.7 1240.7,2137.3 1241.3,2131.3 1241.9,2138.1 1242.5,2136.2 1243.1,2131.4 1243.7,2137.8 1244.3,2130.9 1244.9,2132 1245.5,2141.9 1246.1,2129.8 1246.7,2137.3 1247.3,2131.5 1247.9,2136.6 1248.5,2130.8 1249.1,2137.1 1249.7,2138.2 1250.3,2130.4 1250.9,2136.4 1251.5,2129.7 1252.1,2136.8 1252.7,2125.7 1253.3,2127.3 1253.9,2136.2 1254.5,2130 1255.1,2137.6 1255.7,2127.6 1256.3,2131.6 1256.9,2142.2 1257.5,2136.2 1258.1,2130.6 1258.7,2136.9 1259.3,2130.7 1259.9,2137.3 1260.5,2130.3 1261.1,2136 1261.7,2131 1262.3,2131.6 1262.9,2137 1263.5,2130.1 1264.1,2136.1 1264.7,2130.4 1265.3,2138.3 1265.9,2131.6 1266.5,2129.6 1267.1,2137 1267.7,2130.8 1268.3,2138.1 1268.9,2131.2 1269.5,2138 1270.1,2130 1270.7,2136.9 1271.3,2131.1 1271.9,2137 1272.5,2138.4 1273.1,2130.8 1273.7,2138 1274.3,2131.9 1274.9,2138 1275.5,2129.6 1276.1,2138.3 1276.7,2130.2 1277.3,2138.1 1277.9,2137.7 1278.5,2129.6 1279.1,2136.6 1279.7,2131.5 1280.3,2136.9 1280.9,2129.8 1281.5,2138.1 1282.1,2129.7 1282.7,2138 1283.3,2130.7 1283.9,2130.2 1284.5,2137.5 1285.1,2129.9 1285.7,2131.4 1286.3,2138.5 1286.9,2131.6 1287.5,2137.7 1288.1,2131.9 1288.7,2136.6 1289.3,2126.6 1289.9,2136.9 1290.5,2130.3 1291.1,2137.3 1291.7,2131.9 1292.3,2138 1292.9,2131.6 1293.5,2131.1 1294.1,2136.9 1294.7,2131.4 1295.3,2137.3 1295.9,2131 1296.5,2137.2 1297.1,2137.8 1297.7,2131.3 1298.3,2136.9 1298.9,2130.3 1299.5,2138.4 1300.1,2128.3 1300.7,2138.5 1301.3,2130.8 1301.9,2136.7 1302.5,2129.7 1303.1,2136.6 1303.7,2130.8 1304.3,2138.3 1304.9,2137.5 1305.5,2130.4 1306.1,2137.5 1306.7,2131.5 1307.3,2136.9 1307.9,2131 1308.5,2138.2 1309.1,2131.6 1309.7,2136.4 1310.3,2130.4 1310.9,2137.5 1311.5,2131.3 1312.1,2136.7 1312.7,2130.5 1313.3,2138 1313.9,2131 1314.5,2137.3 1315.1,2136.1 1315.7,2129.5 1316.3,2141.7 1316.9,2131.8 1317.5,2137.1 1318.1,2130.4 1318.7,2138.2 1319.3,2130.7 1319.9,2127.7 1320.5,2130.8 1321.1,2137.6 1321.7,2136.2 1322.3,2130.3 1322.9,2137.6 1323.5,2131.8 1324.1,2137.9 1324.7,2131.4 1325.3,2138 1325.9,2130.8 1326.5,2136.1 1327.1,2130.9 1327.7,2137.8 1328.3,2137.7 1328.9,2131.7 1329.5,2127.2 1330.1,2137.6 1330.7,2127.3 1331.3,2136.3 1331.9,2131.1 1332.5,2137.3 1333.1,2130.3 1333.7,2137.6 1334.3,2127.3 1334.9,2136.2 1335.5,2131 1336.1,2136.9 1336.7,2130.6 1337.3,2141.1 1337.9,2138.3 1338.5,2131.5 1339.1,2137.9 1339.7,2130.1 1340.3,2136.3 1340.9,2136.3 1341.5,2130.8 1342.1,2131.3 1342.7,2136.5 1343.3,2131.6 1343.9,2137.6 1344.5,2131.3 1345.1,2136.6 1345.7,2131.5 1346.3,2137.3 1346.9,2127.4 1347.5,2131 1348.1,2136.4 1348.7,2138.3 1349.3,2129.5 1349.9,2138.1 1350.5,2127.7 1351.1,2137.8 1351.7,2141.8 1352.3,2129.9 1352.9,2137.9 1353.5,2130.7 1354.1,2138.1 1354.7,2136.2 1355.3,2131.1 1355.9,2138 1356.5,2129.6 1357.1,2136.3 1357.7,2131.7 1358.3,2138.4 1358.9,2131.1 1359.5,2129.6 1360.1,2130.8 1360.7,2131 1361.3,2138.3 1361.9,2131.7 1362.5,2138.1 1363.1,2131.1 1363.7,2137.6 1364.3,2131.4 1364.9,2136.7 1365.5,2131 1366.1,2130.9 1366.7,2131 1367.3,2141.5 1367.9,2129.6 1368.5,2136.7 1369.1,2136.9 1369.7,2130.5 1370.3,2136.2 1370.9,2136.9 1371.5,2131.5 1372.1,2137.3 1372.7,2131.3 1373.3,2138.3 1373.9,2130 1374.5,2136.4 1375.1,2132 1375.7,2137.6 1376.3,2137 1376.9,2129.6 1377.5,2138.2 1378.1,2137.8 1378.7,2130.7 1379.3,2138.3 1379.9,2130.7 1380.5,2137.8 1381.1,2131.3 1381.7,2137.3 1382.3,2137.2 1382.9,2140.2 1383.5,2137.7 1384.1,2129.7 1384.7,2137.4 1385.3,2131.9 1385.9,2137.4 1386.5,2130.1 1387.1,2131.7 1387.7,2137 1388.3,2129.8 1388.9,2137.2 1389.5,2131.1 1390.1,2131.3 1390.7,2138.5 1391.3,2131.8 1391.9,2136.9 1392.5,2131.9 1393.1,2138.3 1393.7,2131.9 1394.3,2136.3 1394.9,2130.3 1395.5,2130.6 1396.1,2130.9 1396.7,2136.1 1397.3,2129.6 1397.9,2137.6 1398.5,2130 1399.1,2129.7 1399.7,2137.4 1400.3,2136.3 1400.9,2131.4 1401.5,2136.4 1402.1,2131.4 1402.7,2136.7 1403.3,2131.7 1403.9,2139.3 1404.5,2131 1405.1,2130.4 1405.7,2139.7 1406.3,2131 1406.9,2137.7 1407.5,2127.8 1408.1,2137.9 1408.7,2131.6 1409.3,2136.3 1409.9,2129.8 1410.5,2129.6 1411.1,2136.9 1411.7,2130.1 1412.3,2137 1412.9,2136.1 1413.5,2131.8 1414.1,2137.3 1414.7,2131 1415.3,2136.7 1415.9,2130.9 1416.5,2136.3 1417.1,2130.1 1417.7,2137.8 1418.3,2137.6 1418.9,2130.3 1419.5,2136.6 1420.1,2129.6 1420.7,2136.8 1421.3,2130 1421.9,2136.3 1422.5,2130.9 1423.1,2129.5 1423.7,2137.1 1424.3,2130.6 1424.9,2138.5 1425.5,2130 1426.1,2130.5 1426.7,2136.2 1427.3,2130.5 1427.9,2140.6 1428.5,2132 1429.1,2136.9 1429.7,2131.1 1430.3,2136.6 1430.9,2131.9 1431.5,2137.4 1432.1,2130.8 1432.7,2136.7 1433.3,2131.2 1433.9,2138.5 1434.5,2131.2 1435.1,2137.4 1435.7,2130.6 1436.3,2137 1436.9,2130.6 1437,2134 1437.5,2136.7 1438.1,2144.1 1438.7,2152.4 1439.3,2156.5 1439.9,2162.2 1440.5,2168.8 1441,2175 1441.1,2177.1 1441.7,2178.8 1442.3,2185.6 1442.9,2187.7 1443.5,2194.6 1444.1,2196.9 1444.5,2201 1444.7,2198.1 1445.3,2195.1 1445.9,2187.4 1446.5,2184.1 1447.1,2176.8 1447.7,2173.5 1448,2170 1448.3,2164.8 1448.9,2151.2 1449.5,2142.4 1450.1,2127.1 1450.7,2113.4 1451,2110 1451.3,2105.9 1451.9,2103.2 1452.5,2096.4 1453.1,2093.3 1453.6,2088 1453.7,2090.4 1454.3,2096.2 1454.9,2106.5 1455.5,2112.3 1456,2120 1456.1,2121.3 1456.7,2138.3 1457.3,2151.8 1457.9,2168.9 1458.5,2181.8 1458.6,2185 1459.1,2182.8 1459.7,2182.8 1460.3,2179.3 1460.9,2179.4 1461.5,2175.1 1462,2175 1462.1,2172.3 1462.7,2168.2 1463.3,2159.2 1463.9,2152.6 1464.5,2147.7 1465.1,2141.1 1465.7,2132.1 1466,2130 1466.3,2125.6 1466.9,2120.8 1467.5,2113.6 1468.1,2104.4 1468.7,2097.1 1469,2095 1469.3,2092.6 1469.9,2092.7 1470.5,2087.3 1471.1,2087.2 1471.6,2084 1471.7,2085.8 1472.3,2087.9 1472.9,2095 1473.5,2099.3 1474,2102 1474.1,2097.9 1474.7,2104.1 1475.3,2098.1 1475.9,2104.1 1476.5,2099.7 1477.1,2106 1477.7,2098.6 1478.3,2104.8 1478.9,2097.4 1479.5,2105.5 1480.1,2098 1480.7,2104.1 1481.3,2097.9 1481.9,2103.7 1482.5,2098.5 1483.1,2108.1 1483.7,2098.1 1484.3,2103.6 1484.9,2098.8 1485.5,2098.4 1486.1,2097.6 1486.7,2103.8 1487.3,2097.6 1487.9,2104.1 1488.5,2103.9 1489.1,2096.5 1489.7,2105.5 1490.3,2097 1490.9,2108.8 1491.5,2096.5 1492.1,2103.2 1492.7,2103.5 1493.3,2098.4 1493.9,2104.6 1494.5,2097.4 1495.1,2103.3 1495.7,2096.5 1496.3,2103.3 1496.9,2098.2 1497.5,2104.6 1498.1,2097 1498.7,2104.2 1499.3,2097.8 1499.9,2104.3 1500.5,2096.3 1501.1,2096 1501.7,2096.4 1502.3,2104.9 1502.9,2098 1503.5,2103.8 1504.1,2095.9 1504.7,2104 1505.3,2104.9 1505.9,2097.4 1506.5,2103.4 1507.1,2096.2 1507.7,2102.8 1508.3,2104.5 1508.9,2096.5 1509.5,2102.1 1510.1,2097.2 1510.7,2102.1 1511.3,2095.3 1511.9,2096.2 1512.5,2103.8 1513.1,2096.5 1513.7,2104.4 1514.3,2097.4 1514.9,2103.9 1515.5,2097.4 1516.1,2104.3 1516.7,2103.4 1517.3,2096.2 1517.9,2102.1 1518.5,2094.7 1519.1,2103.9 1519.7,2095.2 1520.3,2102.1 1520.9,2104.1 1521.5,2106 1522.1,2102.1 1522.7,2094.8 1523.3,2103.7 1523.9,2096.3 1524.5,2101.6 1525.1,2096.1 1525.7,2103.9 1526.3,2095.9 1526.9,2102.1 1527.5,2094.9 1528.1,2103.3 1528.7,2095.1 1529.3,2101.6 1529.9,2104.7 1530.5,2094.3 1531.1,2103.3 1531.7,2094.9 1532.3,2103.6 1532.9,2102.1 1533.5,2102.9 1534.1,2094.8 1534.7,2102.4 1535.3,2101.1 1535.9,2102.8 1536.5,2094.3 1537.1,2096.1 1537.7,2101 1538.3,2094.8 1538.9,2102.8 1539.5,2094.3 1540.1,2094.1 1540.7,2102.1 1541.3,2095.4 1541.9,2095.4 1542.5,2100.4 1543.1,2094.6 1543.7,2101.1 1544.3,2090.7" fill="none" stroke="#00ff00" stroke-width="7.4" stroke-linejoin="round" stroke-linecap="round"/>
<polyline points="918.5,1858 919.1,1853.2 919.7,1854.4 920,1850 920.3,1852.7 920.9,1854.8 921.5,1854.8 922.1,1859.8 922.5,1860 922.7,1865.3 923.3,1864.3 923.9,1858.4 924.5,1865.7 925.1,1858.6 925.7,1865.4 926.3,1858.3 926.9,1870 927.5,1856.9 928.1,1857 928.7,1863.7 929.3,1863.8 929.9,1856.5 930,1862 930.5,1866.6 931.1,1872.1 931.7,1884.9 932.3,1887.6 932.9,1897.4 933,1897 933.5,1892.1 934.1,1885.6 934.7,1875.7 935.3,1871 935.9,1861.8 936,1862 936.5,1856.6 937.1,1870 937.7,1857.4 938.3,1857.7 938.9,1864.1 939.5,1857.2 940.1,1867.5 940.7,1864.8 941.3,1856.4 941.9,1863.8 942.5,1854 943.1,1863.6 943.7,1863.9 944.3,1857 944.9,1864 945.5,1856 946.1,1864.4 946.7,1858.3 947.3,1865.5 947.9,1857.9 948.5,1870.1 949.1,1857.3 949.7,1863.5 950.3,1857.6 950.9,1864.6 951.5,1857.9 952.1,1858.4 952.7,1863.7 953.3,1858.1 953.9,1865 954.5,1857.8 955.1,1865.7 955.7,1858.5 956.3,1864.1 956.9,1856.5 957.5,1863.7 958.1,1856.8 958.7,1864.1 959.3,1856.4 959.9,1864.4 960.5,1858 961.1,1851.6 961.7,1864.2 962.3,1852.3 962.9,1852.1 963.5,1864.6 964.1,1857.2 964.7,1865.8 965.3,1856.4 965.9,1864.1 966.5,1858 967.1,1863.9 967.7,1857.1 968.3,1864 968.9,1857 969.5,1858.7 970.1,1865 970.7,1863.9 971.3,1856.4 971.9,1864.4 972.5,1858.7 973.1,1865.4 973.7,1858.4 974.3,1864.9 974.9,1856.4 975.5,1865.7 976.1,1856.7 976.7,1865.1 977.3,1858.6 977.9,1864.5 978.5,1858.3 979.1,1863.4 979.7,1857 980.3,1863.5 980.9,1856.5 981.5,1856.3 982.1,1858.4 982.7,1865 983.3,1869.9 983.9,1857.3 984.5,1856.8 985.1,1864.6 985.7,1856.7 986.3,1864.5 986.9,1858.3 987.5,1865.4 988.1,1856.6 988.7,1863.7 989.3,1857 989.9,1858.1 990.5,1868.1 991.1,1857.3 991.7,1863.7 992.3,1856.9 992.9,1864.3 993.5,1856.9 994.1,1865.6 994.7,1857 995.3,1864.9 995.9,1858.7 996.5,1856.7 997.1,1865.6 997.7,1852 998.3,1864.4 998.9,1856.4 999.5,1864.8 1000.1,1865.3 1000.7,1865.5 1001.3,1858.3 1001.9,1856.1 1002.5,1863.3 1003.1,1857.7 1003.7,1864 1004.3,1852.2 1004.9,1864.8 1005.5,1857.7 1006.1,1858.4 1006.7,1864.3 1007.3,1863.9 1007.9,1857 1008.5,1870.1 1009.1,1857 1009.7,1863.4 1010.3,1865.6 1010.9,1856.1 1011.5,1858 1012.1,1857 1012.7,1865.7 1013.3,1855 1013.9,1865.5 1014.5,1858.2 1015.1,1863.5 1015.7,1856.6 1016.3,1865.4 1016.9,1856.9 1017.5,1865.8 1018.1,1856.2 1018.7,1863.9 1019.3,1856.3 1019.9,1863.4 1020.5,1857.5 1021.1,1857 1021.7,1864 1022.3,1857.3 1022.9,1865.9 1023.5,1858.6 1024.1,1865.7 1024.7,1856.3 1025.3,1864.1 1025.9,1856.9 1026.5,1856.9 1027.1,1869 1027.7,1857 1028.3,1864.7 1028.9,1858.4 1029.5,1864.8 1030.1,1867.4 1030.7,1856.5 1031.3,1863.7 1031.9,1851.5 1032.5,1864.5 1033.1,1856.2 1033.7,1858.7 1034.3,1857.5 1034.9,1868.2 1035.5,1865.6 1036.1,1857.6 1036.7,1870.1 1037.3,1857.7 1037.9,1864.8 1038.5,1865.5 1039.1,1857 1039.7,1863.7 1040.3,1856.4 1040.9,1863.9 1041.5,1856.8 1042.1,1863.3 1042.7,1857.9 1043.3,1864.1 1043.9,1857.5 1044.5,1857.1 1045.1,1856.2 1045.7,1865.8 1046.3,1856.2 1046.9,1864.5 1047.5,1858.4 1048.1,1867.8 1048.7,1863.8 1049.3,1858.5 1049.9,1851.6 1050.5,1864.7 1051.1,1858.7 1051.7,1863.7 1052.3,1857.5 1052.9,1865.6 1053.5,1864.2 1054.1,1856.1 1054.7,1865.9 1055.3,1856.8 1055.9,1864.9 1056.5,1857.5 1057.1,1864.2 1057.7,1858.7 1058.3,1856.4 1058.9,1863.3 1059.5,1858.2 1060.1,1864 1060.7,1857.8 1061.3,1863.9 1061.9,1856.2 1062.5,1863.5 1063.1,1856.4 1063.7,1858 1064.3,1863.9 1064.9,1863.3 1065.5,1856.6 1066.1,1865.3 1066.7,1858.6 1067.3,1865.1 1067.9,1858.5 1068.5,1863.5 1069.1,1857.3 1069.7,1863.7 1070.3,1856.8 1070.9,1865.5 1071.5,1864.2 1072.1,1856.3 1072.7,1864.5 1073.3,1865.4 1073.9,1857.1 1074.5,1864.8 1075.1,1865.1 1075.7,1856.6 1076.3,1863.5 1076.9,1856.9 1077.5,1857.8 1078.1,1864 1078.7,1856.1 1079.3,1863.3 1079.9,1858.6 1080.5,1865.6 1081.1,1857.4 1081.7,1856.4 1082.3,1865.3 1082.9,1856.9 1083.5,1864.4 1084.1,1856 1084.7,1864.7 1085.3,1865.9 1085.9,1858.1 1086.5,1864.5 1087.1,1856.4 1087.7,1864.8 1088.3,1858.4 1088.9,1864.2 1089.5,1857.7 1090.1,1863.8 1090.7,1864.7 1091.3,1858.7 1091.9,1863.8 1092.5,1856.1 1093.1,1869.7 1093.7,1856.2 1094.3,1864.7 1094.9,1856.7 1095.5,1865.9 1096.1,1857.8 1096.7,1869.4 1097.3,1856.9 1097.9,1865.9 1098.5,1856.8 1099.1,1863.6 1099.7,1864.7 1100.3,1865.6 1100.9,1863.9 1101.5,1858.1 1102.1,1857.3 1102.7,1864.6 1103.3,1856.1 1103.9,1856.2 1104.5,1865.4 1105.1,1857.3 1105.7,1863.8 1106.3,1858.4 1106.9,1865.8 1107.5,1863.3 1108.1,1858 1108.7,1865.2 1109.3,1857.5 1109.9,1863.4 1110.5,1857.8 1111.1,1864.5 1111.7,1857.9 1112.3,1865.9 1112.9,1858.2 1113.5,1865.9 1114.1,1854.4 1114.7,1867.9 1115.3,1856.1 1115.9,1857.4 1116.5,1863.6 1117.1,1857.2 1117.7,1864.9 1118.3,1858.5 1118.9,1856.9 1119.5,1864.3 1120.1,1854.7 1120.7,1865.7 1121.3,1863.9 1121.9,1858.4 1122.5,1863.3 1123.1,1857.8 1123.7,1865.2 1124.3,1853.8 1124.9,1857.6 1125.5,1863.6 1126.1,1866 1126.7,1856.2 1127.3,1856.1 1127.9,1865 1128.5,1856.3 1129.1,1865.7 1129.7,1858.2 1130.3,1863.9 1130.9,1856.6 1131.5,1865.7 1132.1,1856.6 1132.7,1864.6 1133.3,1857.2 1133.9,1863.4 1134.5,1863.5 1135.1,1857.6 1135.7,1863.5 1136.3,1858.4 1136.9,1865.1 1137.5,1858.3 1138.1,1864.8 1138.7,1856.6 1139.3,1864.3 1139.9,1856.2 1140.5,1865.7 1141.1,1858.1 1141.7,1866 1142.3,1864.1 1142.9,1858.5 1143.5,1863.5 1144.1,1863.4 1144.7,1858.2 1145.3,1863.6 1145.9,1858.3 1146.5,1863.7 1147.1,1865.2 1147.7,1857.7 1148.3,1863.5 1148.9,1865.2 1149.5,1858.5 1150.1,1863.5 1150.7,1856.8 1151.3,1865.2 1151.9,1857 1152.5,1863.9 1153.1,1857.9 1153.7,1863.7 1154.3,1856.5 1154.9,1865.6 1155.5,1865 1156.1,1858.3 1156.7,1866 1157.3,1858.4 1157.9,1869.1 1158.5,1865.1 1159.1,1856.1 1159.7,1867.4 1160.3,1856.2 1160.9,1865.7 1161.5,1858.3 1162.1,1864.1 1162.7,1856.9 1163.3,1863.8 1163.9,1865.7 1164.5,1857 1165.1,1864.3 1165.7,1856.2 1166.3,1863.8 1166.9,1857.6 1167.5,1864.9 1168.1,1858.5 1168.7,1852.3 1169.3,1858.2 1169.9,1864.2 1170.5,1858.3 1171.1,1865.5 1171.7,1858.6 1172.3,1864.7 1172.9,1852.2 1173.5,1856.8 1174.1,1864.8 1174.7,1856.7 1175.3,1865.5 1175.9,1864.8 1176.5,1856.3 1177.1,1865.3 1177.7,1856.5 1178,1861 1178.3,1862 1178.9,1869 1179.5,1871.5 1180.1,1878.6 1180.5,1880 1180.7,1882.5 1181.3,1885.3 1181.9,1892.8 1182.5,1895.3 1183.1,1902.3 1183.7,1903 1184.3,1912.2 1184.7,1914 1184.9,1913.2 1185.5,1905.7 1186.1,1903.3 1186.7,1897.8 1187.3,1890 1187.9,1887.3 1188,1885 1188.5,1884.3 1189.1,1880.8 1189.7,1881.5 1190.3,1876.6 1190.9,1877.8 1191.5,1876 1192.1,1874.1 1192.7,1870.2 1193.3,1870 1193.7,1868 1193.9,1871 1194.5,1873.2 1195.1,1880 1195.7,1882.8 1196.3,1890.8 1196.9,1892.1 1197.5,1899.7 1197.7,1900 1198.1,1896.4 1198.7,1895.7 1199.3,1889.9 1199.9,1888.5 1200.5,1882.8 1201.1,1881.1 1201.5,1878 1201.7,1878.2 1202.3,1873.6 1202.9,1873 1203.5,1868.3 1204.1,1868.3 1204.7,1863.2 1205.3,1860 1205.9,1859.9 1206.5,1854.7 1206.7,1855 1207.1,1848.7 1207.7,1858.4 1208.3,1852.6 1208.9,1860.1 1209.5,1861.5 1210.1,1853.6 1210.7,1858.6 1211.3,1854.4 1211.9,1859.5 1212.5,1854.7 1213.1,1858.9 1213.7,1860.6 1214.3,1860.6 1214.9,1854.6 1215.5,1860.7 1216.1,1853.9 1216.7,1860 1217.3,1855 1217.9,1854.7 1218.5,1860.2 1219.1,1855 1219.7,1861.1 1220.3,1854.7 1220.9,1860 1221.5,1854.5 1222.1,1861.3 1222.7,1855.2 1223.3,1861.6 1223.9,1855.4 1224.5,1861.8 1225.1,1856.3 1225.7,1861.5 1226.3,1855.7 1226.9,1860.7 1227.5,1854 1228.1,1860.5 1228.7,1855.2 1229.3,1861 1229.9,1856.1 1230.5,1864.8 1231.1,1855.7 1231.7,1861.5 1232.3,1856.4 1232.9,1861.6 1233.5,1855.4 1234.1,1860.5 1234.7,1855.8 1235.3,1864 1235.9,1856.9 1236.5,1861.3 1237.1,1856.7 1237.7,1862 1238.3,1856.5 1238.9,1860.8 1239.5,1856 1240.1,1861.6 1240.7,1856.4 1241.3,1861.7 1241.9,1856.7 1242.5,1860.4 1243.1,1856.8 1243.7,1860.2 1244.3,1852.8 1244.9,1865 1245.5,1855.1 1246.1,1861.9 1246.7,1856.6 1247.3,1861.3 1247.9,1855.4 1248.5,1856.2 1249.1,1861.9 1249.7,1855.3 1250.3,1861.6 1250.9,1855.5 1251.5,1860.8 1252.1,1855.1 1252.7,1856.5 1253.3,1861.6 1253.9,1856 1254.5,1856.1 1255.1,1861.2 1255.7,1861.4 1256.3,1861.1 1256.9,1855.5 1257.5,1860.8 1258.1,1856.5 1258.7,1861.6 1259.3,1856.3 1259.9,1860.5 1260.5,1856.2 1261.1,1861.5 1261.7,1855.5 1262.3,1861.9 1262.9,1861.5 1263.5,1856.3 1264.1,1860.4 1264.7,1856.5 1265.3,1861 1265.9,1856.5 1266.5,1863.1 1267.1,1857.9 1267.7,1857 1268.3,1863.5 1268.9,1854.2 1269.5,1862.7 1270.1,1862.6 1270.7,1857.8 1271.3,1856.6 1271.9,1862.3 1272.5,1856.7 1273.1,1862.6 1273.7,1857.1 1274.3,1863.4 1274.9,1858.2 1275.5,1863 1276.1,1858 1276.7,1857.2 1277.3,1862.6 1277.9,1856.9 1278.5,1861.8 1279.1,1857 1279.7,1862.5 1280.3,1856.4 1280.9,1857.6 1281.5,1863.9 1282.1,1857.7 1282.7,1857 1283.3,1863.2 1283.9,1856.7 1284.5,1863 1285.1,1858.1 1285.7,1862.3 1286.3,1857.8 1286.9,1862.5 1287.5,1857.4 1288.1,1862.3 1288.7,1857.6 1289.3,1864 1289.9,1856.9 1290.5,1856.9 1291.1,1862.4 1291.7,1853 1292.3,1863.1 1292.9,1857.3 1293.5,1862.3 1294.1,1858.2 1294.7,1863.9 1295.3,1857.6 1295.9,1863.1 1296.5,1862 1297.1,1856.9 1297.7,1863.4 1298.3,1857.8 1298.9,1857.6 1299.5,1862.6 1300.1,1858.1 1300.7,1862 1301.3,1857.5 1301.9,1867 1302.5,1857.3 1303.1,1862.2 1303.7,1866.7 1304.3,1856.5 1304.9,1858.2 1305.5,1863.8 1306.1,1858.1 1306.7,1862.4 1307.3,1857.4 1307.9,1862.2 1308.5,1861.9 1309.1,1856.5 1309.7,1862.7 1310.3,1853 1310.9,1862.1 1311.5,1863.1 1312.1,1862.9 1312.7,1856.6 1313.3,1863.2 1313.9,1858 1314.5,1862.8 1315.1,1858 1315.7,1862 1316.3,1857.7 1316.9,1861.8 1317.5,1855.1 1318.1,1863.9 1318.7,1856.2 1319.3,1862 1319.9,1856.7 1320.5,1863.8 1321.1,1856.7 1321.7,1862 1322.3,1853.3 1322.9,1861.7 1323.5,1854.7 1324.1,1861 1324.7,1854.3 1325.3,1852.9 1325.9,1855 1326.5,1861.4 1327.1,1863.2 1327.7,1853.2 1328.3,1854.8 1328.9,1852 1329.5,1861.9 1330.1,1852.4 1330.7,1863.6 1331.3,1854.9 1331.9,1863.6 1332.5,1853.1 1333.1,1853.4 1333.7,1860.9 1334.3,1854.3 1334.9,1862.9 1335.5,1853.3 1336.1,1862 1336.7,1861.2 1337.3,1854.1 1337.9,1861.7 1338.5,1852.5 1339.1,1854 1339.7,1862.5 1340.3,1852.5 1340.9,1854.7 1341.5,1863.6 1342.1,1863.7 1342.7,1853.9 1343.3,1863.6 1343.9,1860.9 1344.5,1855 1345.1,1862.1 1345.7,1854.3 1346.3,1861.4 1346.9,1854 1347.5,1861.8 1348.1,1850.8 1348.7,1861.7 1349.3,1852.8 1349.9,1861.9 1350.5,1854.5 1351.1,1861 1351.7,1852.7 1352.3,1862.1 1352.9,1862.3 1353.5,1853.6 1354.1,1853 1354.7,1868.4 1355.3,1854 1355.9,1861.6 1356.5,1854.2 1357.1,1852.5 1357.7,1863.4 1358.3,1854.8 1358.9,1861.1 1359.5,1852.7 1360.1,1863 1360.7,1853.1 1361.3,1861.8 1361.9,1855.1 1362.5,1862.8 1363.1,1854.1 1363.7,1862.6 1364.3,1854.1 1364.9,1861 1365.5,1852.3 1366.1,1863.1 1366.7,1854.9 1367.3,1866.1 1367.9,1861.9 1368.5,1853.7 1369.1,1853.6 1369.7,1854.1 1370.3,1864 1370.9,1852.6 1371.5,1852.2 1372.1,1863.5 1372.7,1853.4 1373.3,1862.4 1373.9,1862.8 1374.5,1854.9 1375.1,1854.3 1375.7,1863.4 1376.3,1852.3 1376.9,1863.1 1377.5,1854.2 1378.1,1853.4 1378.7,1852.6 1379.3,1853 1379.9,1861.9 1380.5,1854 1381.1,1852.3 1381.7,1854.2 1382.3,1863 1382.9,1861.5 1383.5,1854 1384.1,1861.5 1384.7,1855.3 1385.3,1863.9 1385.9,1854.4 1386.5,1862.2 1387.1,1852.2 1387.7,1861.1 1388.3,1863 1388.9,1862.8 1389.5,1852.6 1390.1,1861 1390.7,1853.2 1391.3,1861.8 1391.9,1853.1 1392.5,1864.9 1393.1,1853.7 1393.7,1863.1 1394.3,1855 1394.9,1852.8 1395.5,1863.4 1396.1,1853.4 1396.7,1863.4 1397.3,1854.7 1397.9,1863.7 1398.5,1852.7 1399.1,1852.6 1399.7,1863.5 1400.3,1863.8 1400.9,1854.4 1401.5,1855.3 1402.1,1861.7 1402.7,1853.8 1403.3,1862.2 1403.9,1862.7 1404.5,1854.4 1405.1,1863.8 1405.7,1863.6 1406.3,1854.2 1406.9,1852.7 1407.5,1863.5 1408.1,1849.9 1408.7,1861.7 1409.3,1853.9 1409.9,1863.9 1410.5,1853.1 1411.1,1861.6 1411.7,1852.7 1412.3,1861.4 1412.9,1863.4 1413.5,1853.4 1414.1,1854.6 1414.7,1861.9 1415.3,1853.8 1415.9,1861.4 1416.5,1853.4 1417.1,1861.3 1417.7,1855.1 1418.3,1861.5 1418.9,1854.4 1419.5,1863.8 1420.1,1854.4 1420.7,1854.3 1421.3,1862.5 1421.9,1850 1422.5,1862.4 1423.1,1853.9 1423.7,1861.7 1424.3,1849.1 1424.9,1863.8 1425.5,1854.9 1426.1,1862.2 1426.7,1852.2 1427.3,1861.8 1427.9,1853.1 1428.5,1862.5 1429.1,1861.6 1429.7,1853.5 1430.3,1862.4 1430.9,1853.4 1431.5,1854.6 1432.1,1866.6 1432.7,1853.8 1433.3,1863.4 1433.9,1852.1 1434.5,1863.9 1435.1,1854.2 1435.7,1862.8 1436.3,1854.1 1436.9,1863.3 1437.5,1854.8 1438.1,1855 1438.7,1860.8 1439.3,1862.8 1439.9,1853.5 1440.5,1863.1 1441.1,1854.9 1441.7,1863.6 1442.3,1853.2 1442.9,1862.5 1443.5,1858 1443.5,1858 1444.1,1865.8 1444.7,1877.1 1445.3,1883.4 1445.9,1894.8 1446,1895 1446.5,1901.3 1447.1,1906.5 1447.6,1909 1447.7,1910.1 1448.3,1902.6 1448.9,1900.4 1449.5,1894.8 1450,1890 1450.1,1888.3 1450.7,1887.9 1451.3,1882.5 1451.9,1881.6 1452.5,1875.9 1453.1,1875.8 1453.6,1872 1453.7,1871.4 1454.3,1876.1 1454.9,1876.3 1455.5,1881.3 1456.1,1882.4 1456.5,1885 1456.7,1885.2 1457.3,1890.4 1457.9,1891.9 1458.5,1897.4 1459.1,1898.9 1459.7,1902.5 1460,1905 1460.3,1904.3 1460.9,1906.2 1461.5,1904.3 1462.1,1905.6 1462.6,1905 1462.7,1903.5 1463.3,1900 1463.9,1892.2 1464.5,1889.3 1465.1,1882.4 1465.5,1880 1465.7,1877.8 1466.3,1875.5 1466.9,1871.9 1467.5,1866.6 1468.1,1863.9 1468.6,1860 1468.7,1864 1469.3,1860.6 1469.9,1863.9 1470.5,1860.2 1471.1,1860.2 1471.7,1865.1 1472.3,1860.4 1472.9,1865.2 1473.5,1861.1 1474.1,1860.2 1474.7,1863.9 1475.3,1859.8 1475.9,1864.1 1476.5,1860.3 1477.1,1865.1 1477.7,1860.1 1478.3,1868 1478.9,1859.9 1479.5,1857.3 1480.1,1865.3 1480.7,1860.6 1481.3,1865.4 1481.9,1859.9 1482.5,1865.3 1483.1,1860.4 1483.7,1864.6 1484.3,1860.2 1484.9,1865.2 1485.5,1861 1486.1,1864.9 1486.7,1860.1 1487.3,1864.8 1487.9,1860 1488.5,1865.2 1489.1,1859.6 1489.7,1863.9 1490.3,1860.5 1490.9,1865.2 1491.5,1859.6 1492.1,1860.5 1492.7,1860.9 1493.3,1860.4 1493.9,1864.9 1494.5,1860.1 1495.1,1866 1495.7,1860.5 1496.3,1861.1 1496.9,1865.2 1497.5,1861 1498.1,1864.7 1498.7,1860.8 1499.3,1859.9 1499.9,1868 1500.5,1860.8 1501.1,1858.9 1501.7,1864.5 1502.3,1860.2 1502.9,1865 1503.5,1860.6 1504.1,1864.5 1504.7,1860.1 1505.3,1865.2 1505.9,1860.3 1506.5,1865.4 1507.1,1859.7 1507.7,1863.9 1508.3,1860.2 1508.9,1865.2 1509.5,1864.8 1510.1,1861.1 1510.7,1864.1 1511.3,1861 1511.9,1864.5 1512.5,1865.3 1513.1,1858.1 1513.7,1860.7 1514.3,1865 1514.9,1859.7 1515.5,1863.9 1516.1,1864.9 1516.7,1861 1517.3,1864.4 1517.9,1860.2 1518.5,1864.9 1519.1,1860 1519.7,1864.3 1520.3,1860 1520.9,1865.2 1521.5,1860.4 1522.1,1865.1 1522.7,1863.9 1523.3,1860.5 1523.9,1860.2 1524.5,1860.7 1525.1,1859.5 1525.7,1863.9 1526.3,1860 1526.9,1865.2 1527.5,1864.1 1528.1,1859.7 1528.7,1865 1529.3,1860.9 1529.9,1865 1530.5,1859.7 1531.1,1864.9 1531.7,1859.9 1532.3,1864 1532.9,1860.6 1533.5,1861.1 1534.1,1864.5 1534.7,1860 1535.3,1864.8 1535.9,1859.7 1536.5,1865.4 1537.1,1861.1 1537.7,1865.2 1538.3,1860.3 1538.9,1864.7 1539.5,1859.7 1540.1,1864.5 1540.7,1859.8 1541.3,1864.7 1541.9,1860.7 1542.5,1864.9 1543.1,1859.6 1543.7,1860.8 1544.3,1865" fill="none" stroke="#0000ff" stroke-width="7.800000000000001" stroke-linejoin="round" stroke-linecap="round"/>
<polyline points="918.5,2110.2 919.1,2126.6 919.7,2126.2 920.3,2110.3 920.9,2126.1 921.5,2114.3 922.1,2126.8 922.7,2108.9 923.3,2126 923.9,2112.5 924.5,2129.9 925.1,2109.8 925.7,2129.7 926.3,2110.8 926.9,2127.6 927.5,2115.4 928.1,2113.4 928.7,2128 929.3,2111.5 929.9,2127.6 930.5,2113.4 931.1,2114.4 931.7,2126.7 932.3,2111.7 932.9,2126.8 933.5,2128.3 934.1,2128.7 934.7,2112.2 935.3,2125.5 935.9,2114.1 936.5,2124.4 937.1,2111.7 937.7,2127.8 938.3,2114.8 938.9,2113.1 939.5,2126 940.1,2112.7 940.7,2126.6 941.3,2125.8 941.9,2113.1 942.5,2127.6 943.1,2125.2 943.7,2114.3 944.3,2127 944.9,2111.4 945.5,2127.1 946.1,2113.5 946.7,2127.8 947.3,2113.7 947.9,2128.3 948.5,2114.4 949.1,2133.8 949.7,2125 950.3,2111.6 950.9,2125.8 951.5,2108.9 952.1,2133 952.7,2115.6 953.3,2128.2 953.9,2114.6 954.5,2124.9 955.1,2115 955.7,2127.4 956.3,2114.3 956.9,2126.9 957.5,2125.1 958.1,2111.6 958.7,2127.8 959.3,2111.6 959.9,2104.1 960.5,2125.8 961.1,2114.5 961.7,2132.2 962.3,2115.7 962.9,2128.5 963.5,2113.5 964.1,2113.1 964.7,2125.6 965.3,2114.7 965.9,2113.1 966.5,2126.3 967.1,2107.1 967.7,2124.4 968.3,2112.5 968.9,2129 969.5,2112.5 970.1,2128.1 970.7,2111.7 971.3,2124.8 971.9,2112.5 972.5,2125.7 973.1,2108.7 973.7,2112.9 974.3,2126.2 974.9,2107.8 975.5,2125.3 976.1,2114.9 976.7,2124.3 977.3,2128.8 977.9,2113.9 978.5,2134.3 979.1,2111 979.7,2128.4 980.3,2112.6 980.9,2125.3 981.5,2113.1 982.1,2111.4 982.7,2126.5 983.3,2114.1 983.9,2127.2 984.5,2112.1 985.1,2127.2 985.7,2115.1 986.3,2126.4 986.9,2113.3 987.5,2130.8 988.1,2125.8 988.7,2115.7 989.3,2128.7 989.9,2115 990.5,2134.4 991.1,2115.7 991.7,2114.3 992.3,2127.5 992.9,2115.7 993.5,2127.8 994.1,2112 994.7,2127.2 995.3,2114.6 995.9,2125 996.5,2115.8 997.1,2124.6 997.7,2114.3 998.3,2115.9 998.9,2126.1 999.5,2113.9 1000.1,2125.3 1000.7,2113.7 1001.3,2125.8 1001.9,2114.2 1002.5,2125.7 1003.1,2124.6 1003.7,2124.6 1004.3,2114.3 1004.9,2128.8 1005.5,2114.6 1006.1,2113.6 1006.7,2124.8 1007.3,2114.8 1007.9,2124.6 1008.5,2111.1 1009.1,2127.1 1009.7,2115.6 1010.3,2115 1010.9,2128.6 1011.5,2115.4 1012.1,2130.7 1012.7,2114.8 1013.3,2127 1013.9,2127.1 1014.5,2115 1015.1,2127.9 1015.7,2112.4 1016.3,2124.1 1016.9,2111.4 1017.5,2126.6 1018.1,2115 1018.7,2128.8 1019.3,2127.1 1019.9,2114.6 1020.5,2124.6 1021.1,2113.8 1021.7,2127.3 1022.3,2114 1022.9,2126 1023.5,2115.7 1024.1,2126.4 1024.7,2112.2 1025.3,2128.6 1025.9,2111.6 1026.5,2125.1 1027.1,2115.4 1027.7,2111.1 1028.3,2132.1 1028.9,2113.8 1029.5,2124.6 1030.1,2125.6 1030.7,2111.8 1031.3,2128.2 1031.9,2115.5 1032.5,2127.3 1033.1,2107.9 1033.7,2126 1034.3,2126.3 1034.9,2115.4 1035.5,2132.5 1036.1,2115.1 1036.7,2128.8 1037.3,2114.7 1037.9,2125 1038.5,2113.1 1039.1,2127.5 1039.7,2115.5 1040.3,2126.7 1040.9,2113 1041.5,2126.2 1042.1,2115.8 1042.7,2127.7 1043.3,2115 1043.9,2125.8 1044.5,2113.6 1045.1,2126.9 1045.7,2113.9 1046.3,2115.1 1046.9,2125.2 1047.5,2111.7 1048.1,2127.8 1048.7,2115.1 1049.3,2125.3 1049.9,2113.2 1050.5,2125.2 1051.1,2115.8 1051.7,2124.3 1052.3,2126.3 1052.9,2111.7 1053.5,2113.5 1054.1,2127 1054.7,2115.1 1055.3,2128 1055.9,2106.3 1056.5,2127 1057.1,2115.6 1057.7,2127.1 1058.3,2115.2 1058.9,2136.1 1059.5,2108.3 1060.1,2127.4 1060.7,2115.5 1061.3,2127.2 1061.9,2113.5 1062.5,2124.5 1063.1,2114.5 1063.7,2126.7 1064.3,2112 1064.9,2125.5 1065.5,2115.1 1066.1,2127.1 1066.7,2112 1067.3,2126.6 1067.9,2114.8 1068.5,2126.7 1069.1,2103 1069.7,2124.1 1070.3,2114.3 1070.9,2128.6 1071.5,2113.7 1072.1,2127.5 1072.7,2114.8 1073.3,2127.8 1073.9,2111.8 1074.5,2125.3 1075.1,2125.1 1075.7,2130.7 1076.3,2114.3 1076.9,2115.2 1077.5,2126 1078.1,2112.1 1078.7,2127.9 1079.3,2111.3 1079.9,2115.1 1080.5,2125.9 1081.1,2111.1 1081.7,2112.9 1082.3,2130.7 1082.9,2113.4 1083.5,2128.9 1084.1,2115.7 1084.7,2126 1085.3,2104.7 1085.9,2127.5 1086.5,2113.8 1087.1,2124.5 1087.7,2128.8 1088.3,2103.6 1088.9,2126.8 1089.5,2114.6 1090.1,2128.4 1090.7,2113.9 1091.3,2125.8 1091.9,2113.4 1092.5,2126 1093.1,2115.7 1093.7,2112.9 1094.3,2124.7 1094.9,2128.4 1095.5,2113.8 1096.1,2128.5 1096.7,2128.5 1097.3,2112.6 1097.9,2126.7 1098.5,2113.3 1099.1,2124.8 1099.7,2114.1 1100.3,2114.9 1100.9,2128.5 1101.5,2115.6 1102.1,2126.1 1102.7,2115.1 1103.3,2113.2 1103.9,2114.5 1104.5,2127 1105.1,2111.4 1105.7,2113.6 1106.3,2127.4 1106.9,2112.5 1107.5,2127.1 1108.1,2113.7 1108.7,2125 1109.3,2126.3 1109.9,2115.8 1110.5,2125.3 1111.1,2114.6 1111.7,2136.8 1112.3,2114.9 1112.9,2128.5 1113.5,2126.8 1114.1,2128.4 1114.7,2113.7 1115.3,2112 1115.9,2114.4 1116.5,2125.2 1117.1,2111.7 1117.7,2127.8 1118.3,2107.4 1118.9,2127.1 1119.5,2111.3 1120.1,2124.9 1120.7,2111.3 1121.3,2124.9 1121.9,2114.6 1122.5,2124.7 1123.1,2112.2 1123.7,2128.6 1124.3,2111 1124.9,2112.9 1125.5,2127.3 1126.1,2114.4 1126.7,2125.3 1127.3,2114.3 1127.9,2127.9 1128.5,2127.1 1129.1,2114.6 1129.7,2128.7 1130.3,2112.9 1130.9,2127.6 1131.5,2135.9 1132.1,2112.7 1132.7,2126.3 1133.3,2126.5 1133.9,2115.8 1134.5,2126.3 1135.1,2114.5 1135.7,2124.9 1136.3,2115.1 1136.9,2128.2 1137.5,2112.2 1138.1,2133.8 1138.7,2113.5 1139.3,2113.5 1139.9,2127.6 1140.5,2105.2 1141.1,2124.7 1141.7,2114.2 1142.3,2126.3 1142.9,2115.3 1143.5,2124.8 1144.1,2105 1144.7,2127.3 1145.3,2112.7 1145.9,2124.6 1146.5,2114.4 1147.1,2112.2 1147.7,2126.7 1148.3,2112.4 1148.9,2126.6 1149.5,2109.6 1150.1,2128.8 1150.7,2112.7 1151.3,2126.7 1151.9,2112.1 1152.5,2127.5 1153.1,2112.9 1153.7,2125.7 1154.3,2112.1 1154.9,2128.9 1155.5,2111.3 1156.1,2127.6 1156.7,2113.8 1157.3,2127 1157.9,2113.2 1158.5,2114.5 1159.1,2128.1 1159.7,2109.1 1160.3,2128.6 1160.9,2114.5 1161.5,2126.5 1162.1,2113.9 1162.7,2112 1163.3,2124.2 1163.9,2124.6 1164.5,2115.9 1165.1,2124.5 1165.7,2113.6 1166.3,2128.9 1166.9,2112.3 1167.5,2124.4 1168.1,2111.2 1168.7,2127.8 1169.3,2111.2 1169.9,2136 1170.5,2114.4 1171.1,2124.3 1171.7,2113.5 1172.3,2128.2 1172.9,2106.4 1173.5,2127.3 1174.1,2109.5 1174.7,2128 1175.3,2113.5 1175.9,2107.1 1176.5,2120 1176.5,2120 1177.1,2126.1 1177.7,2124.5 1178.3,2132.6 1178.5,2132 1178.9,2136.3 1179.5,2137.4 1180.1,2135.7 1180.7,2141 1180.7,2141 1181.3,2139.9 1181.9,2132 1182.5,2133.3 1183,2128 1183.1,2129.1 1183.7,2128.2 1184.3,2122.1 1184.9,2125.2 1185.5,2119.2 1186.1,2121.6 1186.7,2116.6 1187,2118 1187.3,2118.8 1187.9,2119.3 1188.5,2113.8 1189.1,2116.6 1189.7,2112.2 1190.3,2115 1190.9,2110.3 1191.5,2113.8 1192.1,2109.3 1192.7,2110 1192.7,2110 1193.3,2114.3 1193.9,2114.2 1194.5,2121.1 1195.1,2120.8 1195.5,2124 1195.7,2125.9 1196.3,2125.8 1196.9,2130.9 1197.5,2130.3 1198.1,2131.8 1198.7,2136 1198.7,2136 1199.3,2135.2 1199.9,2130.3 1200.5,2130.8 1201.1,2125.9 1201.7,2127.1 1202,2124 1202.3,2124.3 1202.9,2120.7 1203.5,2123.2 1204.1,2118.1 1204.7,2116.6 1205.3,2114.7 1205.9,2116.9 1206,2115 1206.5,2109.7 1207.1,2121.6 1207.7,2119.6 1208.3,2106.2 1208.9,2111.6 1209.5,2119.5 1210.1,2118.6 1210.7,2111.9 1211.3,2119.7 1211.9,2104 1212.5,2119.9 1213.1,2110.4 1213.7,2110.3 1214.3,2118.3 1214.9,2108.7 1215.5,2123 1216.1,2110.1 1216.7,2124.2 1217.3,2119.2 1217.9,2111.9 1218.5,2118.6 1219.1,2111.5 1219.7,2109.8 1220.3,2122.3 1220.9,2108.9 1221.5,2111.3 1222.1,2120.6 1222.7,2109.8 1223.3,2120.3 1223.9,2111.8 1224.5,2120.4 1225.1,2110 1225.7,2120.7 1226.3,2119.2 1226.9,2111.8 1227.5,2109 1228.1,2121.5 1228.7,2112 1229.3,2120 1229.9,2122.4 1230.5,2110.7 1231.1,2105.7 1231.7,2121.8 1232.3,2112.7 1232.9,2119.5 1233.5,2110.9 1234.1,2120.9 1234.7,2111.1 1235.3,2120.9 1235.9,2109.6 1236.5,2119.9 1237.1,2112 1237.7,2126 1238.3,2121 1238.9,2110.7 1239.5,2123.5 1240.1,2111.7 1240.7,2120.5 1241.3,2109 1241.9,2127.3 1242.5,2110.6 1243.1,2121.1 1243.7,2112.4 1244.3,2122.5 1244.9,2121.7 1245.5,2111.7 1246.1,2123.7 1246.7,2111.2 1247.3,2122.7 1247.9,2108.1 1248.5,2121.8 1249.1,2109.6 1249.7,2120.8 1250.3,2108.2 1250.9,2119.8 1251.5,2119.9 1252.1,2109.8 1252.7,2109.1 1253.3,2120.9 1253.9,2110.6 1254.5,2130 1255.1,2108.1 1255.7,2120.9 1256.3,2107.5 1256.9,2121.4 1257.5,2111.3 1258.1,2120.6 1258.7,2105.8 1259.3,2124.5 1259.9,2108.6 1260.5,2127.9 1261.1,2099.9 1261.7,2124.4 1262.3,2121.2 1262.9,2111.8 1263.5,2122.1 1264.1,2110.8 1264.7,2123.1 1265.3,2109.7 1265.9,2121.8 1266.5,2122.1 1267.1,2111.5 1267.7,2124.1 1268.3,2108.4 1268.9,2122.4 1269.5,2107.1 1270.1,2122.8 1270.7,2101.6 1271.3,2111.5 1271.9,2122 1272.5,2109.4 1273.1,2110.3 1273.7,2124.8 1274.3,2098.6 1274.9,2121.1 1275.5,2110.1 1276.1,2124.9 1276.7,2108.5 1277.3,2124.1 1277.9,2106.7 1278.5,2123.5 1279.1,2108.1 1279.7,2125.7 1280.3,2107.5 1280.9,2128.5 1281.5,2108.3 1282.1,2125.4 1282.7,2109.6 1283.3,2125 1283.9,2107 1284.5,2121.4 1285.1,2110.7 1285.7,2125.4 1286.3,2109.3 1286.9,2121.5 1287.5,2107.2 1288.1,2125.3 1288.7,2122 1289.3,2098.6 1289.9,2129.3 1290.5,2124.2 1291.1,2110.5 1291.7,2125.9 1292.3,2107.1 1292.9,2110.8 1293.5,2124.9 1294.1,2110.5 1294.7,2134.9 1295.3,2109.7 1295.9,2123.8 1296.5,2125.2 1297.1,2107.3 1297.7,2122.8 1298.3,2106.8 1298.9,2106.3 1299.5,2125.8 1300.1,2106.7 1300.7,2107.2 1301.3,2124.7 1301.9,2107.7 1302.5,2124.3 1303.1,2108.7 1303.7,2122.4 1304.3,2106.4 1304.9,2122.1 1305.5,2101.8 1306.1,2122.4 1306.7,2124 1307.3,2107.1 1307.9,2125.1 1308.5,2097.5 1309.1,2108.3 1309.7,2133.1 1310.3,2107.8 1310.9,2120.6 1311.5,2107.4 1312.1,2124 1312.7,2111.3 1313.3,2120.7 1313.9,2106.9 1314.5,2131.7 1315.1,2110 1315.7,2107 1316.3,2125.5 1316.9,2106.8 1317.5,2126 1318.1,2107.7 1318.7,2126 1319.3,2101.9 1319.9,2120.6 1320.5,2111.2 1321.1,2122.7 1321.7,2107 1322.3,2125.7 1322.9,2122.8 1323.5,2111.4 1324.1,2121.9 1324.5,2114 1324.7,2108.5 1325.3,2102.6 1325.9,2099.1 1326,2096 1326.5,2105.1 1327.1,2106.4 1327.5,2114 1327.7,2108.5 1328.3,2125.5 1328.9,2109.6 1329.5,2122.3 1330.1,2106.3 1330.7,2125.6 1331.3,2106.6 1331.9,2122.4 1332.5,2108.7 1333.1,2123.1 1333.7,2110.6 1334.3,2106.5 1334.9,2126 1335.5,2106.5 1336.1,2122.8 1336.7,2106.1 1337.3,2125.6 1337.9,2124.1 1338.5,2125.8 1339.1,2110.1 1339.7,2123.3 1340.3,2106.2 1340.9,2123.1 1341.5,2110.8 1342.1,2134.2 1342.7,2111.5 1343.3,2124.8 1343.9,2110.4 1344.5,2122 1345.1,2110.3 1345.7,2123.1 1346.3,2111.3 1346.9,2124.1 1347.5,2109.7 1348.1,2122.7 1348.7,2109.1 1349.3,2125.2 1349.9,2108.4 1350.5,2122 1351.1,2123.4 1351.7,2106.7 1352.3,2123.1 1352.9,2123.4 1353.5,2104.3 1354.1,2122.6 1354.7,2110.2 1355.3,2122.7 1355.9,2107.6 1356.5,2108 1357.1,2110 1357.7,2122.5 1358.3,2109.1 1358.9,2123.9 1359.5,2120.6 1360.1,2107.1 1360.7,2121.9 1361.3,2106.9 1361.9,2121.6 1362.5,2108.5 1363.1,2125.5 1363.7,2111.3 1364.3,2123.8 1364.9,2097.3 1365.5,2110.5 1366.1,2104.1 1366.7,2110.3 1367.3,2122.3 1367.9,2110 1368.5,2106.9 1369.1,2122.9 1369.7,2106.5 1370.3,2125.9 1370.9,2109 1371.5,2124.6 1372.1,2110.8 1372.7,2122.7 1373.3,2110.1 1373.9,2127.7 1374.5,2106.5 1375.1,2123.3 1375.7,2110 1376.3,2111.2 1376.9,2124.4 1377.5,2109.1 1378.1,2121.1 1378.7,2122.5 1379.3,2098.5 1379.9,2124.7 1380.5,2108.4 1381.1,2102.8 1381.7,2107.9 1382.3,2125.2 1382.9,2110.6 1383.5,2132.1 1384.1,2109.8 1384.7,2123.6 1385.3,2111.2 1385.9,2121.3 1386.5,2110.1 1387.1,2107.8 1387.7,2122.9 1388.3,2110.3 1388.9,2122.7 1389.5,2110.8 1390.1,2125.4 1390.7,2123.4 1391.3,2101.7 1391.9,2123.7 1392.5,2110.3 1393.1,2121.4 1393.7,2124.9 1394.3,2110.4 1394.9,2124.6 1395.5,2109.3 1396.1,2125.3 1396.7,2107.9 1397.3,2123.9 1397.9,2111.5 1398.5,2123.7 1399.1,2109.1 1399.7,2125.2 1400.3,2122.4 1400.9,2109.1 1401.5,2123.9 1402.1,2110.8 1402.7,2122.1 1403.3,2111 1403.9,2128 1404.5,2102.5 1405.1,2124.1 1405.7,2110.7 1406.3,2112.7 1406.9,2123.5 1407.5,2110.1 1408.1,2124.7 1408.7,2106.2 1409.3,2128.1 1409.9,2125.4 1410.5,2110.5 1411.1,2124.1 1411.7,2110.8 1412.3,2121.1 1412.9,2109.6 1413.5,2131.3 1414.1,2110.5 1414.7,2124.8 1415.3,2110.6 1415.9,2111.3 1416.5,2131.2 1417.1,2103.6 1417.7,2121.1 1418.3,2110.3 1418.9,2122.8 1419.5,2111.8 1420.1,2121 1420.7,2110.7 1421.3,2123.9 1421.9,2112 1422.5,2111.1 1423.1,2112.4 1423.7,2123.4 1424.3,2112.4 1424.9,2111.3 1425.5,2121.4 1426.1,2110.4 1426.7,2121.7 1427.3,2110.2 1427.9,2121.3 1428.5,2121.5 1429.1,2110.9 1429.7,2129.3 1430.3,2113.5 1430.9,2106.8 1431.5,2123.7 1432.1,2111.9 1432.7,2122.8 1433.3,2110.8 1433.9,2122.6 1434.5,2114.3 1435.1,2121.3 1435.7,2113.5 1436.3,2125 1436.9,2107.4 1437.5,2123.9 1438.1,2114.8 1438.7,2122 1439.3,2121.3 1439.9,2124.7 1440.5,2114.1 1441.1,2121.6 1441.7,2111.4 1442.3,2124.6 1442.9,2113.8 1443.5,2124.1 1444.1,2113.1 1444.7,2113.7 1445.3,2115.1 1445.9,2121.5 1446.5,2113.8 1447.1,2105.8 1447.7,2121.9 1448.3,2113.6 1448.9,2125 1449.5,2113.2 1450.1,2122.7 1450.7,2114.9 1451.3,2130.2 1451.9,2114.3 1452.5,2122.5 1453.1,2115.1 1453.7,2121.7 1454.3,2113.5 1454.9,2122.9 1455.5,2114.4 1456.1,2122.7 1456.7,2112.4 1457.3,2121.7 1457.9,2114.5 1458.5,2123.2 1459.1,2107.3 1459.7,2123.6 1460.3,2115.6 1460.9,2126.7 1461.5,2114.6 1462.1,2115.8 1462.7,2123.9 1463.3,2115.8 1463.9,2108.6 1464.5,2122.3 1465.1,2114.8 1465.7,2122.5 1466.3,2124.8 1466.9,2113.2 1467.5,2121.9 1468.1,2114.3 1468.7,2124.5 1469.3,2115.4 1469.9,2122.4 1470.5,2115.6 1471.1,2121.8 1471.7,2115.1 1472.3,2122.2 1472.9,2115 1473.5,2122.3 1474.1,2124.6 1474.7,2126.4 1475.3,2114.2 1475.9,2121.9 1476.5,2123.3 1477.1,2116 1477.7,2124.6 1478.3,2110.6 1478.9,2121.8 1479.5,2114.9 1480.1,2122.7 1480.7,2113 1481.3,2123.5 1481.9,2114.7 1482.5,2114.9 1483.1,2128 1483.7,2114.4 1484.3,2115.2 1484.9,2123.5 1485.5,2115.9 1486.1,2115.6 1486.7,2124.2 1487.3,2113.1 1487.9,2121.9 1488.5,2114.5 1489.1,2116 1489.7,2121.8 1490.3,2115.7 1490.9,2114.7 1491.5,2123.4 1492.1,2111.2 1492.7,2126.9 1493.3,2115.9 1493.9,2113.4 1494.5,2124.7 1495.1,2122.3 1495.7,2113.3 1496.3,2122.2 1496.9,2113.1 1497.5,2122 1498.1,2114.7 1498.7,2124.4 1499.3,2124.4 1499.9,2115 1500.5,2124.6 1501.1,2114.4 1501.7,2123.7 1502.3,2109.4 1502.9,2124.5 1503.5,2114.1 1504.1,2116.2 1504.7,2124.2 1505.3,2109.7 1505.9,2123.3 1506.5,2122.5 1507.1,2115.9 1507.7,2123.2 1508.3,2114.6 1508.9,2113.6 1509.5,2123.9 1510.1,2123.2 1510.7,2114.3 1511.3,2113.6 1511.9,2122.9 1512.5,2113.5 1513.1,2124.1 1513.7,2109.6 1514.3,2127.9 1514.9,2115.3 1515.5,2124.4 1516.1,2111.5 1516.7,2124.7 1517.3,2124.8 1517.9,2114.5 1518.5,2114.4 1519.1,2122.9 1519.7,2113.8 1520.3,2122.7 1520.9,2114 1521.5,2124 1522.1,2114.1 1522.7,2124.1 1523.3,2114.4 1523.9,2124.8 1524.5,2113.1 1525.1,2115.9 1525.7,2123.4 1526.3,2122.6 1526.9,2113.2 1527.5,2122.8 1528.1,2114.3 1528.7,2128.1 1529.3,2113.3 1529.9,2123.5 1530.5,2113.6 1531.1,2123.9 1531.7,2114.6 1532.3,2122 1532.9,2113.6 1533.5,2123 1534.1,2115.6 1534.7,2122.7 1535.3,2116.1 1535.9,2123.7 1536.5,2123.8 1537.1,2116.2 1537.7,2123.4 1538.3,2114.5 1538.9,2115.4 1539.5,2114.7 1540.1,2124.6 1540.7,2114.8 1541.3,2122.9 1541.9,2115.8 1542.5,2123.5 1543.1,2114.3 1543.7,2124.8 1544.3,2114.4" fill="none" stroke="#ff0000" stroke-width="7.4" stroke-linejoin="round" stroke-linecap="round"/>
<rect x="1279.6" y="1933.4" width="255.7" height="133.9" fill="#fff" stroke="#1e1e1e" stroke-width="1.4"/>
<line x1="1290.2" y1="1958.9" x2="1391.9" y2="1958.9" stroke="#00ff00" stroke-width="6.4"/>
<line x1="1290.2" y1="2000.6" x2="1391.9" y2="2000.6" stroke="#0000ff" stroke-width="6.4"/>
<line x1="1290.2" y1="2042.2" x2="1391.9" y2="2042.2" stroke="#ff0000" stroke-width="6.4"/>
<text x="1398.3" y="1971.5" class="lg">Right</text>
<text x="1398.3" y="2012" class="lg">Forward</text>
<text x="1398.3" y="2053.6" class="lg">Up</text>
<text transform="translate(31.8 99.5) rotate(-90)" text-anchor="middle" class="l">yaw(<tspan dx="1.5" dy="2.5">°</tspan><tspan dx="2" dy="-2.5">)</tspan></text>
<text transform="translate(31.9 332) rotate(-90)" text-anchor="middle" class="l"><tspan font-family="'Liberation Serif', 'Times New Roman', Times, serif" font-style="italic" dy="1.5">ω</tspan><tspan font-size="30" dy="17.5">z</tspan><tspan dy="-19">(°/s)</tspan></text>
<text transform="translate(37.6 567.7) rotate(-90)" text-anchor="middle" class="l"><tspan font-family="'Liberation Serif', 'Times New Roman', Times, serif" font-style="italic">δψ</tspan><tspan dx="2">(</tspan><tspan dx="2">°</tspan><tspan dx="2">)</tspan></text>
<text transform="translate(35.2 881.3) rotate(-90)" text-anchor="middle" class="l">yaw(<tspan dx="1.5" dy="2.5">°</tspan><tspan dx="2" dy="-2.5">)</tspan></text>
<text transform="translate(27.6 1112.8) rotate(-90)" text-anchor="middle" class="l"><tspan font-family="'Liberation Serif', 'Times New Roman', Times, serif" font-style="italic" dy="1.5">ω</tspan><tspan font-size="30" dy="17.5">z</tspan><tspan dy="-19">(°/s)</tspan></text>
<text transform="translate(33.7 1348.7) rotate(-90)" text-anchor="middle" class="l"><tspan font-family="'Liberation Serif', 'Times New Roman', Times, serif" font-style="italic">δψ</tspan><tspan dx="2">(</tspan><tspan dx="2">°</tspan><tspan dx="2">)</tspan></text>
<text transform="translate(32.1 1661.3) rotate(-90)" text-anchor="middle" class="l">yaw(<tspan dx="1.5" dy="2.5">°</tspan><tspan dx="2" dy="-2.5">)</tspan></text>
<text transform="translate(32.1 1893.9) rotate(-90)" text-anchor="middle" class="l"><tspan font-family="'Liberation Serif', 'Times New Roman', Times, serif" font-style="italic" dy="1.5">ω</tspan><tspan font-size="30" dy="17.5">z</tspan><tspan dy="-19">(°/s)</tspan></text>
<text transform="translate(36 2129.8) rotate(-90)" text-anchor="middle" class="l"><tspan font-family="'Liberation Serif', 'Times New Roman', Times, serif" font-style="italic">δψ</tspan><tspan dx="2">(</tspan><tspan dx="2">°</tspan><tspan dx="2">)</tspan></text>
<text transform="translate(857 443.9) rotate(-90)" text-anchor="middle" class="l">Body Velocity (m/s)</text>
<text transform="translate(829.3 1225.6) rotate(-90)" text-anchor="middle" class="l2">Body Velocity (m/s)</text>
<text transform="translate(829.2 2012.3) rotate(-90)" text-anchor="middle" class="l2">Body Velocity (m/s)</text>
<text x="423" y="749.7" text-anchor="middle" class="l">GPS Time(s)</text>
<text x="423" y="1530.7" text-anchor="middle" class="l">GPS Time(s)</text>
<text x="423" y="2311.5" text-anchor="middle" class="l">GPS Time(s)</text>
<text x="1226.7" y="750.8" text-anchor="middle" class="l">GPS Time (s)</text>
<text x="1231.5" y="1529.1" text-anchor="middle" class="l2">GPS Time (s)</text>
<text x="1231.5" y="2307.5" text-anchor="middle" class="l2">GPS Time (s)</text>
<text x="1066" y="165.3" class="ti">(a) Land vehicle</text>
<text x="1111.5" y="946" class="ti">(b) USV</text>
<text x="1108.7" y="1726.8" class="ti">(c) UUV</text>
</svg>
</body></html>
